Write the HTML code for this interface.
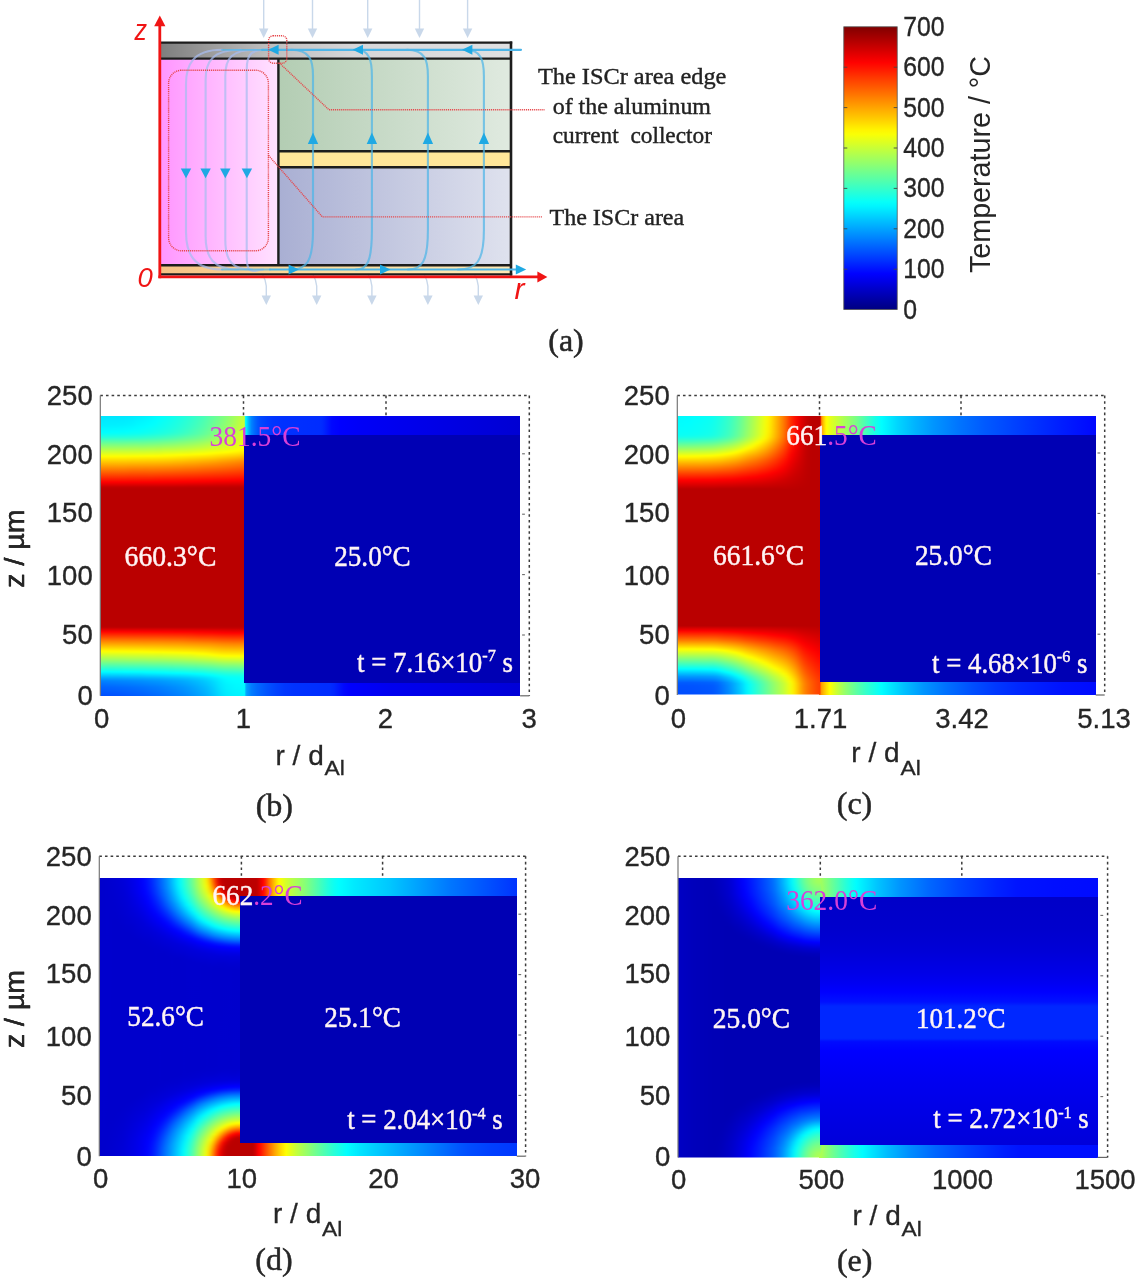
<!DOCTYPE html>
<html lang="en"><head><meta charset="utf-8"><title>Figure</title>
<style>html,body{margin:0;padding:0;background:#fff;overflow:hidden}svg{display:block;filter:blur(0.45px)}</style>
</head><body>
<svg width="1137" height="1280" viewBox="0 0 1137 1280">
<rect width="1137" height="1280" fill="#fff"/>
<defs>
<filter id="hblur" x="-10%" width="120%" y="0" height="1" color-interpolation-filters="sRGB"><feGaussianBlur stdDeviation="2.4 0"/></filter>
<linearGradient id="b1" gradientUnits="userSpaceOnUse" y1="0" y2="0" x1="242.8" x2="520.1"><stop offset="0" stop-color="#58ffa7"/><stop offset="0.007" stop-color="#14ffeb"/><stop offset="0.011" stop-color="#00f7ff"/><stop offset="0.022" stop-color="#00b0ff"/><stop offset="0.029" stop-color="#008eff"/><stop offset="0.032" stop-color="#0081ff"/><stop offset="0.043" stop-color="#0068ff"/><stop offset="0.054" stop-color="#0055ff"/><stop offset="0.065" stop-color="#0048ff"/><stop offset="0.087" stop-color="#003dff"/><stop offset="0.108" stop-color="#0036ff"/><stop offset="0.144" stop-color="#0031ff"/><stop offset="0.282" stop-color="#002cff"/><stop offset="0.292" stop-color="#0025ff"/><stop offset="0.321" stop-color="#0007ff"/><stop offset="0.35" stop-color="#0000ff"/><stop offset="0.426" stop-color="#0000f7"/><stop offset="1" stop-color="#0000d3"/></linearGradient>
<linearGradient id="b2" gradientUnits="userSpaceOnUse" y1="0" y2="0" x1="242.8" x2="520.1"><stop offset="0" stop-color="#1effe1"/><stop offset="0.004" stop-color="#00feff"/><stop offset="0.011" stop-color="#00b6ff"/><stop offset="0.014" stop-color="#009fff"/><stop offset="0.022" stop-color="#008eff"/><stop offset="0.032" stop-color="#007cff"/><stop offset="0.051" stop-color="#006aff"/><stop offset="0.087" stop-color="#0053ff"/><stop offset="0.119" stop-color="#0043ff"/><stop offset="0.152" stop-color="#0037ff"/><stop offset="0.188" stop-color="#0032ff"/><stop offset="0.314" stop-color="#002cff"/><stop offset="0.329" stop-color="#0025ff"/><stop offset="0.365" stop-color="#0007ff"/><stop offset="0.383" stop-color="#0000ff"/><stop offset="0.531" stop-color="#0000ef"/><stop offset="1" stop-color="#0000d7"/></linearGradient>
<clipPath id="b3"><rect x="100.30" y="416.00" width="144.50" height="280.00"/></clipPath>
<linearGradient id="b4" gradientUnits="userSpaceOnUse" x1="0" x2="0" y1="416.0" y2="696.0"><stop offset="0" stop-color="#00e5ff"/><stop offset="0.032" stop-color="#00efff"/><stop offset="0.057" stop-color="#00feff"/><stop offset="0.064" stop-color="#09fff6"/><stop offset="0.075" stop-color="#22ffdd"/><stop offset="0.1" stop-color="#75ff8a"/><stop offset="0.139" stop-color="#efff10"/><stop offset="0.143" stop-color="#faff05"/><stop offset="0.146" stop-color="#fff900"/><stop offset="0.236" stop-color="#fe0000"/><stop offset="0.254" stop-color="#c30000"/><stop offset="0.261" stop-color="#ba0000"/><stop offset="0.75" stop-color="#ba0000"/><stop offset="0.754" stop-color="#be0000"/><stop offset="0.757" stop-color="#c80000"/><stop offset="0.768" stop-color="#f60000"/><stop offset="0.771" stop-color="#ff0500"/><stop offset="0.804" stop-color="#ff8200"/><stop offset="0.839" stop-color="#fffb00"/><stop offset="0.843" stop-color="#f7ff08"/><stop offset="0.871" stop-color="#98ff67"/><stop offset="0.911" stop-color="#0afff5"/><stop offset="0.914" stop-color="#00fcff"/><stop offset="0.936" stop-color="#00a5ff"/><stop offset="0.946" stop-color="#0084ff"/><stop offset="0.957" stop-color="#0072ff"/><stop offset="0.968" stop-color="#0065ff"/><stop offset="1" stop-color="#004dff"/></linearGradient>
<linearGradient id="b5" gradientUnits="userSpaceOnUse" x1="0" x2="0" y1="416.0" y2="696.0"><stop offset="0" stop-color="#00e5ff"/><stop offset="0.032" stop-color="#00efff"/><stop offset="0.057" stop-color="#00feff"/><stop offset="0.064" stop-color="#09fff6"/><stop offset="0.075" stop-color="#22ffdd"/><stop offset="0.1" stop-color="#75ff8a"/><stop offset="0.139" stop-color="#efff10"/><stop offset="0.143" stop-color="#faff05"/><stop offset="0.146" stop-color="#fff900"/><stop offset="0.236" stop-color="#fe0000"/><stop offset="0.254" stop-color="#c30000"/><stop offset="0.261" stop-color="#ba0000"/><stop offset="0.75" stop-color="#ba0000"/><stop offset="0.754" stop-color="#be0000"/><stop offset="0.757" stop-color="#c80000"/><stop offset="0.768" stop-color="#f60000"/><stop offset="0.771" stop-color="#ff0500"/><stop offset="0.804" stop-color="#ff8200"/><stop offset="0.839" stop-color="#fffb00"/><stop offset="0.843" stop-color="#f7ff08"/><stop offset="0.871" stop-color="#98ff67"/><stop offset="0.911" stop-color="#0afff5"/><stop offset="0.914" stop-color="#00fcff"/><stop offset="0.936" stop-color="#00a5ff"/><stop offset="0.946" stop-color="#0084ff"/><stop offset="0.957" stop-color="#0072ff"/><stop offset="0.968" stop-color="#0065ff"/><stop offset="1" stop-color="#004dff"/></linearGradient>
<linearGradient id="b6" gradientUnits="userSpaceOnUse" x1="0" x2="0" y1="416.0" y2="696.0"><stop offset="0" stop-color="#00e6ff"/><stop offset="0.032" stop-color="#00efff"/><stop offset="0.057" stop-color="#00feff"/><stop offset="0.064" stop-color="#09fff6"/><stop offset="0.075" stop-color="#22ffdd"/><stop offset="0.1" stop-color="#75ff8a"/><stop offset="0.139" stop-color="#efff10"/><stop offset="0.143" stop-color="#faff05"/><stop offset="0.146" stop-color="#fff900"/><stop offset="0.236" stop-color="#fe0000"/><stop offset="0.254" stop-color="#c30000"/><stop offset="0.261" stop-color="#ba0000"/><stop offset="0.75" stop-color="#ba0000"/><stop offset="0.754" stop-color="#be0000"/><stop offset="0.757" stop-color="#c80000"/><stop offset="0.768" stop-color="#f60000"/><stop offset="0.771" stop-color="#ff0500"/><stop offset="0.804" stop-color="#ff8200"/><stop offset="0.839" stop-color="#fffb00"/><stop offset="0.843" stop-color="#f7ff08"/><stop offset="0.871" stop-color="#98ff67"/><stop offset="0.911" stop-color="#0afff5"/><stop offset="0.914" stop-color="#00fcff"/><stop offset="0.936" stop-color="#00a5ff"/><stop offset="0.946" stop-color="#0084ff"/><stop offset="0.957" stop-color="#0072ff"/><stop offset="0.968" stop-color="#0065ff"/><stop offset="1" stop-color="#004dff"/></linearGradient>
<linearGradient id="b7" gradientUnits="userSpaceOnUse" x1="0" x2="0" y1="416.0" y2="696.0"><stop offset="0" stop-color="#00e6ff"/><stop offset="0.032" stop-color="#00efff"/><stop offset="0.057" stop-color="#00feff"/><stop offset="0.064" stop-color="#09fff6"/><stop offset="0.075" stop-color="#22ffdd"/><stop offset="0.1" stop-color="#75ff8a"/><stop offset="0.139" stop-color="#efff10"/><stop offset="0.143" stop-color="#faff05"/><stop offset="0.146" stop-color="#fff900"/><stop offset="0.236" stop-color="#fe0000"/><stop offset="0.254" stop-color="#c30000"/><stop offset="0.261" stop-color="#ba0000"/><stop offset="0.75" stop-color="#ba0000"/><stop offset="0.754" stop-color="#be0000"/><stop offset="0.757" stop-color="#c80000"/><stop offset="0.768" stop-color="#f60000"/><stop offset="0.771" stop-color="#ff0500"/><stop offset="0.804" stop-color="#ff8200"/><stop offset="0.839" stop-color="#fffb00"/><stop offset="0.843" stop-color="#f7ff08"/><stop offset="0.871" stop-color="#98ff67"/><stop offset="0.911" stop-color="#0afff5"/><stop offset="0.914" stop-color="#00fcff"/><stop offset="0.936" stop-color="#00a5ff"/><stop offset="0.946" stop-color="#0085ff"/><stop offset="0.957" stop-color="#0073ff"/><stop offset="0.968" stop-color="#0066ff"/><stop offset="1" stop-color="#004eff"/></linearGradient>
<linearGradient id="b8" gradientUnits="userSpaceOnUse" x1="0" x2="0" y1="416.0" y2="696.0"><stop offset="0" stop-color="#00e6ff"/><stop offset="0.032" stop-color="#00efff"/><stop offset="0.057" stop-color="#00feff"/><stop offset="0.064" stop-color="#09fff6"/><stop offset="0.075" stop-color="#23ffdc"/><stop offset="0.1" stop-color="#75ff8a"/><stop offset="0.139" stop-color="#efff10"/><stop offset="0.143" stop-color="#faff05"/><stop offset="0.146" stop-color="#fff900"/><stop offset="0.236" stop-color="#fe0000"/><stop offset="0.254" stop-color="#c30000"/><stop offset="0.261" stop-color="#ba0000"/><stop offset="0.75" stop-color="#ba0000"/><stop offset="0.754" stop-color="#be0000"/><stop offset="0.757" stop-color="#c80000"/><stop offset="0.768" stop-color="#f60000"/><stop offset="0.771" stop-color="#ff0400"/><stop offset="0.804" stop-color="#ff8200"/><stop offset="0.839" stop-color="#fffa00"/><stop offset="0.843" stop-color="#f8ff07"/><stop offset="0.871" stop-color="#99ff66"/><stop offset="0.914" stop-color="#00fcff"/><stop offset="0.936" stop-color="#00a6ff"/><stop offset="0.946" stop-color="#0085ff"/><stop offset="0.968" stop-color="#0067ff"/><stop offset="1" stop-color="#004fff"/></linearGradient>
<linearGradient id="b9" gradientUnits="userSpaceOnUse" x1="0" x2="0" y1="416.0" y2="696.0"><stop offset="0" stop-color="#00e6ff"/><stop offset="0.032" stop-color="#00f0ff"/><stop offset="0.057" stop-color="#00ffff"/><stop offset="0.064" stop-color="#09fff6"/><stop offset="0.075" stop-color="#23ffdc"/><stop offset="0.1" stop-color="#75ff8a"/><stop offset="0.139" stop-color="#efff10"/><stop offset="0.143" stop-color="#faff05"/><stop offset="0.146" stop-color="#fff900"/><stop offset="0.236" stop-color="#fe0000"/><stop offset="0.254" stop-color="#c30000"/><stop offset="0.261" stop-color="#ba0000"/><stop offset="0.75" stop-color="#ba0000"/><stop offset="0.754" stop-color="#be0000"/><stop offset="0.757" stop-color="#c80000"/><stop offset="0.768" stop-color="#f60000"/><stop offset="0.771" stop-color="#ff0400"/><stop offset="0.804" stop-color="#ff8100"/><stop offset="0.839" stop-color="#fffa00"/><stop offset="0.843" stop-color="#f8ff07"/><stop offset="0.871" stop-color="#99ff66"/><stop offset="0.914" stop-color="#00fdff"/><stop offset="0.936" stop-color="#00a7ff"/><stop offset="0.946" stop-color="#0086ff"/><stop offset="0.968" stop-color="#0068ff"/><stop offset="1" stop-color="#0050ff"/></linearGradient>
<linearGradient id="b10" gradientUnits="userSpaceOnUse" x1="0" x2="0" y1="416.0" y2="696.0"><stop offset="0" stop-color="#00e7ff"/><stop offset="0.032" stop-color="#00f0ff"/><stop offset="0.057" stop-color="#00ffff"/><stop offset="0.064" stop-color="#0afff5"/><stop offset="0.075" stop-color="#23ffdc"/><stop offset="0.1" stop-color="#75ff8a"/><stop offset="0.139" stop-color="#efff10"/><stop offset="0.143" stop-color="#faff05"/><stop offset="0.146" stop-color="#fff900"/><stop offset="0.236" stop-color="#fe0000"/><stop offset="0.254" stop-color="#c30000"/><stop offset="0.261" stop-color="#ba0000"/><stop offset="0.75" stop-color="#ba0000"/><stop offset="0.754" stop-color="#be0000"/><stop offset="0.757" stop-color="#c80000"/><stop offset="0.768" stop-color="#f50000"/><stop offset="0.771" stop-color="#ff0400"/><stop offset="0.804" stop-color="#ff8100"/><stop offset="0.839" stop-color="#fff900"/><stop offset="0.843" stop-color="#f9ff06"/><stop offset="0.871" stop-color="#9aff65"/><stop offset="0.914" stop-color="#00fdff"/><stop offset="0.936" stop-color="#00a7ff"/><stop offset="0.946" stop-color="#0087ff"/><stop offset="0.968" stop-color="#0069ff"/><stop offset="1" stop-color="#0051ff"/></linearGradient>
<linearGradient id="b11" gradientUnits="userSpaceOnUse" x1="0" x2="0" y1="416.0" y2="696.0"><stop offset="0" stop-color="#00e7ff"/><stop offset="0.029" stop-color="#00efff"/><stop offset="0.054" stop-color="#00fdff"/><stop offset="0.064" stop-color="#0afff5"/><stop offset="0.075" stop-color="#24ffdb"/><stop offset="0.139" stop-color="#f0ff0f"/><stop offset="0.143" stop-color="#faff05"/><stop offset="0.146" stop-color="#fff900"/><stop offset="0.236" stop-color="#fe0000"/><stop offset="0.254" stop-color="#c30000"/><stop offset="0.261" stop-color="#ba0000"/><stop offset="0.75" stop-color="#ba0000"/><stop offset="0.754" stop-color="#be0000"/><stop offset="0.757" stop-color="#c70000"/><stop offset="0.768" stop-color="#f50000"/><stop offset="0.771" stop-color="#ff0400"/><stop offset="0.804" stop-color="#ff8100"/><stop offset="0.839" stop-color="#fff900"/><stop offset="0.843" stop-color="#f9ff06"/><stop offset="0.871" stop-color="#9aff65"/><stop offset="0.914" stop-color="#00feff"/><stop offset="0.936" stop-color="#00a8ff"/><stop offset="0.946" stop-color="#0089ff"/><stop offset="0.968" stop-color="#006bff"/><stop offset="1" stop-color="#0053ff"/></linearGradient>
<linearGradient id="b12" gradientUnits="userSpaceOnUse" x1="0" x2="0" y1="416.0" y2="696.0"><stop offset="0" stop-color="#00e8ff"/><stop offset="0.029" stop-color="#00f0ff"/><stop offset="0.054" stop-color="#00feff"/><stop offset="0.064" stop-color="#0bfff4"/><stop offset="0.079" stop-color="#2fffd0"/><stop offset="0.1" stop-color="#76ff89"/><stop offset="0.143" stop-color="#fbff04"/><stop offset="0.146" stop-color="#fff900"/><stop offset="0.236" stop-color="#fe0000"/><stop offset="0.254" stop-color="#c30000"/><stop offset="0.261" stop-color="#ba0000"/><stop offset="0.75" stop-color="#ba0000"/><stop offset="0.754" stop-color="#be0000"/><stop offset="0.757" stop-color="#c70000"/><stop offset="0.768" stop-color="#f50000"/><stop offset="0.771" stop-color="#ff0400"/><stop offset="0.804" stop-color="#ff8000"/><stop offset="0.839" stop-color="#fff800"/><stop offset="0.843" stop-color="#faff05"/><stop offset="0.871" stop-color="#9bff64"/><stop offset="0.914" stop-color="#00ffff"/><stop offset="0.936" stop-color="#00a9ff"/><stop offset="0.946" stop-color="#008aff"/><stop offset="0.968" stop-color="#006cff"/><stop offset="1" stop-color="#0055ff"/></linearGradient>
<linearGradient id="b13" gradientUnits="userSpaceOnUse" x1="0" x2="0" y1="416.0" y2="696.0"><stop offset="0" stop-color="#00e9ff"/><stop offset="0.029" stop-color="#00f2ff"/><stop offset="0.054" stop-color="#00ffff"/><stop offset="0.064" stop-color="#0cfff3"/><stop offset="0.079" stop-color="#30ffcf"/><stop offset="0.1" stop-color="#77ff88"/><stop offset="0.143" stop-color="#fbff04"/><stop offset="0.146" stop-color="#fff800"/><stop offset="0.196" stop-color="#ff6b00"/><stop offset="0.236" stop-color="#fd0000"/><stop offset="0.254" stop-color="#c30000"/><stop offset="0.261" stop-color="#ba0000"/><stop offset="0.75" stop-color="#ba0000"/><stop offset="0.754" stop-color="#be0000"/><stop offset="0.757" stop-color="#c70000"/><stop offset="0.768" stop-color="#f50000"/><stop offset="0.771" stop-color="#ff0400"/><stop offset="0.804" stop-color="#ff8000"/><stop offset="0.839" stop-color="#fff800"/><stop offset="0.843" stop-color="#faff05"/><stop offset="0.868" stop-color="#a8ff57"/><stop offset="0.914" stop-color="#00ffff"/><stop offset="0.936" stop-color="#00abff"/><stop offset="0.946" stop-color="#008bff"/><stop offset="0.968" stop-color="#006eff"/><stop offset="1" stop-color="#0057ff"/></linearGradient>
<linearGradient id="b14" gradientUnits="userSpaceOnUse" x1="0" x2="0" y1="416.0" y2="696.0"><stop offset="0" stop-color="#00ebff"/><stop offset="0.029" stop-color="#00f3ff"/><stop offset="0.05" stop-color="#00feff"/><stop offset="0.064" stop-color="#0efff1"/><stop offset="0.079" stop-color="#32ffcd"/><stop offset="0.1" stop-color="#78ff87"/><stop offset="0.143" stop-color="#fcff03"/><stop offset="0.146" stop-color="#fff800"/><stop offset="0.196" stop-color="#ff6a00"/><stop offset="0.236" stop-color="#fd0000"/><stop offset="0.254" stop-color="#c30000"/><stop offset="0.261" stop-color="#ba0000"/><stop offset="0.75" stop-color="#ba0000"/><stop offset="0.754" stop-color="#be0000"/><stop offset="0.757" stop-color="#c70000"/><stop offset="0.768" stop-color="#f50000"/><stop offset="0.771" stop-color="#ff0300"/><stop offset="0.804" stop-color="#ff8000"/><stop offset="0.839" stop-color="#fff700"/><stop offset="0.843" stop-color="#fbff04"/><stop offset="0.868" stop-color="#a8ff57"/><stop offset="0.914" stop-color="#01fffe"/><stop offset="0.936" stop-color="#00acff"/><stop offset="0.946" stop-color="#008dff"/><stop offset="0.968" stop-color="#0070ff"/><stop offset="1" stop-color="#0059ff"/></linearGradient>
<linearGradient id="b15" gradientUnits="userSpaceOnUse" x1="0" x2="0" y1="416.0" y2="696.0"><stop offset="0" stop-color="#00edff"/><stop offset="0.046" stop-color="#00feff"/><stop offset="0.057" stop-color="#06fff9"/><stop offset="0.064" stop-color="#0ffff0"/><stop offset="0.079" stop-color="#33ffcc"/><stop offset="0.1" stop-color="#79ff86"/><stop offset="0.143" stop-color="#fcff03"/><stop offset="0.146" stop-color="#fff700"/><stop offset="0.196" stop-color="#ff6a00"/><stop offset="0.236" stop-color="#fd0000"/><stop offset="0.254" stop-color="#c30000"/><stop offset="0.261" stop-color="#ba0000"/><stop offset="0.75" stop-color="#ba0000"/><stop offset="0.754" stop-color="#be0000"/><stop offset="0.757" stop-color="#c70000"/><stop offset="0.768" stop-color="#f50000"/><stop offset="0.771" stop-color="#ff0300"/><stop offset="0.804" stop-color="#ff7f00"/><stop offset="0.839" stop-color="#fff700"/><stop offset="0.843" stop-color="#fcff03"/><stop offset="0.868" stop-color="#a9ff56"/><stop offset="0.914" stop-color="#02fffd"/><stop offset="0.936" stop-color="#00adff"/><stop offset="0.946" stop-color="#008eff"/><stop offset="0.968" stop-color="#0072ff"/><stop offset="1" stop-color="#005bff"/></linearGradient>
<linearGradient id="b16" gradientUnits="userSpaceOnUse" x1="0" x2="0" y1="416.0" y2="696.0"><stop offset="0" stop-color="#00efff"/><stop offset="0.043" stop-color="#00feff"/><stop offset="0.057" stop-color="#08fff7"/><stop offset="0.064" stop-color="#11ffee"/><stop offset="0.079" stop-color="#35ffca"/><stop offset="0.143" stop-color="#fdff02"/><stop offset="0.146" stop-color="#fff700"/><stop offset="0.196" stop-color="#ff6a00"/><stop offset="0.236" stop-color="#fd0000"/><stop offset="0.254" stop-color="#c30000"/><stop offset="0.261" stop-color="#ba0000"/><stop offset="0.75" stop-color="#ba0000"/><stop offset="0.754" stop-color="#bd0000"/><stop offset="0.757" stop-color="#c70000"/><stop offset="0.768" stop-color="#f40000"/><stop offset="0.771" stop-color="#ff0300"/><stop offset="0.804" stop-color="#ff7f00"/><stop offset="0.839" stop-color="#fff600"/><stop offset="0.843" stop-color="#fcff03"/><stop offset="0.864" stop-color="#b6ff49"/><stop offset="0.914" stop-color="#02fffd"/><stop offset="0.936" stop-color="#00aeff"/><stop offset="0.946" stop-color="#0090ff"/><stop offset="0.968" stop-color="#0074ff"/><stop offset="1" stop-color="#005dff"/></linearGradient>
<linearGradient id="b17" gradientUnits="userSpaceOnUse" x1="0" x2="0" y1="416.0" y2="696.0"><stop offset="0" stop-color="#00f1ff"/><stop offset="0.039" stop-color="#00feff"/><stop offset="0.057" stop-color="#0bfff4"/><stop offset="0.064" stop-color="#14ffeb"/><stop offset="0.079" stop-color="#37ffc8"/><stop offset="0.143" stop-color="#fdff02"/><stop offset="0.146" stop-color="#fff600"/><stop offset="0.196" stop-color="#ff6900"/><stop offset="0.236" stop-color="#fd0000"/><stop offset="0.254" stop-color="#c30000"/><stop offset="0.261" stop-color="#ba0000"/><stop offset="0.75" stop-color="#ba0000"/><stop offset="0.754" stop-color="#bd0000"/><stop offset="0.757" stop-color="#c70000"/><stop offset="0.768" stop-color="#f40000"/><stop offset="0.771" stop-color="#ff0300"/><stop offset="0.804" stop-color="#ff7e00"/><stop offset="0.839" stop-color="#fff500"/><stop offset="0.843" stop-color="#fdff02"/><stop offset="0.864" stop-color="#b7ff48"/><stop offset="0.914" stop-color="#03fffc"/><stop offset="0.918" stop-color="#00f5ff"/><stop offset="0.936" stop-color="#00afff"/><stop offset="0.946" stop-color="#0092ff"/><stop offset="0.968" stop-color="#0076ff"/><stop offset="1" stop-color="#005fff"/></linearGradient>
<linearGradient id="b18" gradientUnits="userSpaceOnUse" x1="0" x2="0" y1="416.0" y2="696.0"><stop offset="0" stop-color="#00f4ff"/><stop offset="0.036" stop-color="#00ffff"/><stop offset="0.057" stop-color="#0dfff2"/><stop offset="0.064" stop-color="#16ffe9"/><stop offset="0.079" stop-color="#39ffc6"/><stop offset="0.143" stop-color="#feff01"/><stop offset="0.146" stop-color="#fff500"/><stop offset="0.193" stop-color="#ff7200"/><stop offset="0.236" stop-color="#fd0000"/><stop offset="0.254" stop-color="#c30000"/><stop offset="0.261" stop-color="#ba0000"/><stop offset="0.75" stop-color="#ba0000"/><stop offset="0.754" stop-color="#bd0000"/><stop offset="0.757" stop-color="#c70000"/><stop offset="0.768" stop-color="#f40000"/><stop offset="0.771" stop-color="#ff0300"/><stop offset="0.804" stop-color="#ff7e00"/><stop offset="0.839" stop-color="#fff400"/><stop offset="0.843" stop-color="#feff01"/><stop offset="0.864" stop-color="#b8ff47"/><stop offset="0.914" stop-color="#04fffb"/><stop offset="0.918" stop-color="#00f6ff"/><stop offset="0.936" stop-color="#00b1ff"/><stop offset="0.946" stop-color="#0094ff"/><stop offset="0.968" stop-color="#0078ff"/><stop offset="1" stop-color="#0062ff"/></linearGradient>
<linearGradient id="b19" gradientUnits="userSpaceOnUse" x1="0" x2="0" y1="416.0" y2="696.0"><stop offset="0" stop-color="#00f7ff"/><stop offset="0.029" stop-color="#00ffff"/><stop offset="0.054" stop-color="#0efff1"/><stop offset="0.064" stop-color="#19ffe6"/><stop offset="0.079" stop-color="#3cffc3"/><stop offset="0.143" stop-color="#ffff00"/><stop offset="0.179" stop-color="#ff9900"/><stop offset="0.236" stop-color="#fc0000"/><stop offset="0.254" stop-color="#c30000"/><stop offset="0.261" stop-color="#ba0000"/><stop offset="0.75" stop-color="#ba0000"/><stop offset="0.754" stop-color="#bd0000"/><stop offset="0.757" stop-color="#c70000"/><stop offset="0.768" stop-color="#f40000"/><stop offset="0.771" stop-color="#ff0200"/><stop offset="0.807" stop-color="#ff8a00"/><stop offset="0.843" stop-color="#ffff00"/><stop offset="0.875" stop-color="#94ff6b"/><stop offset="0.914" stop-color="#05fffa"/><stop offset="0.918" stop-color="#00f7ff"/><stop offset="0.936" stop-color="#00b3ff"/><stop offset="0.946" stop-color="#0096ff"/><stop offset="0.968" stop-color="#007bff"/><stop offset="1" stop-color="#0065ff"/></linearGradient>
<linearGradient id="b20" gradientUnits="userSpaceOnUse" x1="0" x2="0" y1="416.0" y2="696.0"><stop offset="0" stop-color="#00fbff"/><stop offset="0.018" stop-color="#00ffff"/><stop offset="0.032" stop-color="#05fffa"/><stop offset="0.057" stop-color="#14ffeb"/><stop offset="0.064" stop-color="#1dffe2"/><stop offset="0.079" stop-color="#3effc1"/><stop offset="0.143" stop-color="#fffe00"/><stop offset="0.179" stop-color="#ff9800"/><stop offset="0.232" stop-color="#ff0700"/><stop offset="0.236" stop-color="#fc0000"/><stop offset="0.254" stop-color="#c30000"/><stop offset="0.261" stop-color="#ba0000"/><stop offset="0.75" stop-color="#ba0000"/><stop offset="0.754" stop-color="#bd0000"/><stop offset="0.757" stop-color="#c70000"/><stop offset="0.768" stop-color="#f30000"/><stop offset="0.771" stop-color="#ff0200"/><stop offset="0.807" stop-color="#ff8900"/><stop offset="0.843" stop-color="#fffe00"/><stop offset="0.871" stop-color="#a1ff5e"/><stop offset="0.914" stop-color="#06fff9"/><stop offset="0.918" stop-color="#00f8ff"/><stop offset="0.936" stop-color="#00b4ff"/><stop offset="0.946" stop-color="#0098ff"/><stop offset="0.968" stop-color="#007dff"/><stop offset="1" stop-color="#0068ff"/></linearGradient>
<linearGradient id="b21" gradientUnits="userSpaceOnUse" x1="0" x2="0" y1="416.0" y2="696.0"><stop offset="0" stop-color="#00ffff"/><stop offset="0.039" stop-color="#0dfff2"/><stop offset="0.057" stop-color="#18ffe7"/><stop offset="0.064" stop-color="#20ffdf"/><stop offset="0.079" stop-color="#42ffbd"/><stop offset="0.143" stop-color="#fffd00"/><stop offset="0.179" stop-color="#ff9700"/><stop offset="0.232" stop-color="#ff0700"/><stop offset="0.236" stop-color="#fc0000"/><stop offset="0.254" stop-color="#c30000"/><stop offset="0.261" stop-color="#ba0000"/><stop offset="0.75" stop-color="#ba0000"/><stop offset="0.754" stop-color="#bd0000"/><stop offset="0.757" stop-color="#c70000"/><stop offset="0.768" stop-color="#f30000"/><stop offset="0.771" stop-color="#ff0200"/><stop offset="0.807" stop-color="#ff8900"/><stop offset="0.843" stop-color="#fffd00"/><stop offset="0.871" stop-color="#a2ff5d"/><stop offset="0.914" stop-color="#07fff8"/><stop offset="0.918" stop-color="#00f9ff"/><stop offset="0.936" stop-color="#00b6ff"/><stop offset="0.946" stop-color="#009aff"/><stop offset="0.968" stop-color="#0080ff"/><stop offset="1" stop-color="#006bff"/></linearGradient>
<linearGradient id="b22" gradientUnits="userSpaceOnUse" x1="0" x2="0" y1="416.0" y2="696.0"><stop offset="0" stop-color="#04fffb"/><stop offset="0.039" stop-color="#11ffee"/><stop offset="0.057" stop-color="#1cffe3"/><stop offset="0.064" stop-color="#24ffdb"/><stop offset="0.079" stop-color="#45ffba"/><stop offset="0.139" stop-color="#f8ff07"/><stop offset="0.143" stop-color="#fffc00"/><stop offset="0.179" stop-color="#ff9600"/><stop offset="0.232" stop-color="#ff0600"/><stop offset="0.236" stop-color="#fc0000"/><stop offset="0.254" stop-color="#c30000"/><stop offset="0.261" stop-color="#ba0000"/><stop offset="0.75" stop-color="#ba0000"/><stop offset="0.754" stop-color="#bd0000"/><stop offset="0.757" stop-color="#c70000"/><stop offset="0.771" stop-color="#ff0100"/><stop offset="0.807" stop-color="#ff8800"/><stop offset="0.843" stop-color="#fffc00"/><stop offset="0.846" stop-color="#f6ff09"/><stop offset="0.864" stop-color="#bcff43"/><stop offset="0.914" stop-color="#09fff6"/><stop offset="0.918" stop-color="#00faff"/><stop offset="0.936" stop-color="#00b8ff"/><stop offset="0.946" stop-color="#009dff"/><stop offset="0.968" stop-color="#0083ff"/><stop offset="1" stop-color="#006fff"/></linearGradient>
<linearGradient id="b23" gradientUnits="userSpaceOnUse" x1="0" x2="0" y1="416.0" y2="696.0"><stop offset="0" stop-color="#09fff6"/><stop offset="0.039" stop-color="#16ffe9"/><stop offset="0.057" stop-color="#20ffdf"/><stop offset="0.064" stop-color="#29ffd6"/><stop offset="0.079" stop-color="#49ffb6"/><stop offset="0.121" stop-color="#c2ff3d"/><stop offset="0.139" stop-color="#f9ff06"/><stop offset="0.143" stop-color="#fffa00"/><stop offset="0.179" stop-color="#ff9500"/><stop offset="0.232" stop-color="#ff0600"/><stop offset="0.236" stop-color="#fb0000"/><stop offset="0.254" stop-color="#c30000"/><stop offset="0.261" stop-color="#ba0000"/><stop offset="0.75" stop-color="#ba0000"/><stop offset="0.754" stop-color="#bd0000"/><stop offset="0.757" stop-color="#c70000"/><stop offset="0.771" stop-color="#ff0100"/><stop offset="0.807" stop-color="#ff8700"/><stop offset="0.843" stop-color="#fffb00"/><stop offset="0.846" stop-color="#f8ff07"/><stop offset="0.864" stop-color="#bdff42"/><stop offset="0.914" stop-color="#0afff5"/><stop offset="0.918" stop-color="#00fcff"/><stop offset="0.936" stop-color="#00bbff"/><stop offset="0.946" stop-color="#00a0ff"/><stop offset="0.968" stop-color="#0087ff"/><stop offset="1" stop-color="#0073ff"/></linearGradient>
<linearGradient id="b24" gradientUnits="userSpaceOnUse" x1="0" x2="0" y1="416.0" y2="696.0"><stop offset="0" stop-color="#0efff1"/><stop offset="0.039" stop-color="#1bffe4"/><stop offset="0.057" stop-color="#25ffda"/><stop offset="0.064" stop-color="#2effd1"/><stop offset="0.079" stop-color="#4dffb2"/><stop offset="0.121" stop-color="#c4ff3b"/><stop offset="0.139" stop-color="#faff05"/><stop offset="0.143" stop-color="#fff900"/><stop offset="0.179" stop-color="#ff9300"/><stop offset="0.232" stop-color="#ff0600"/><stop offset="0.236" stop-color="#fb0000"/><stop offset="0.254" stop-color="#c30000"/><stop offset="0.261" stop-color="#ba0000"/><stop offset="0.75" stop-color="#ba0000"/><stop offset="0.754" stop-color="#bd0000"/><stop offset="0.757" stop-color="#c70000"/><stop offset="0.771" stop-color="#ff0100"/><stop offset="0.807" stop-color="#ff8600"/><stop offset="0.843" stop-color="#fffa00"/><stop offset="0.846" stop-color="#f9ff06"/><stop offset="0.864" stop-color="#bfff40"/><stop offset="0.918" stop-color="#00fdff"/><stop offset="0.936" stop-color="#00bdff"/><stop offset="0.946" stop-color="#00a3ff"/><stop offset="0.968" stop-color="#008aff"/><stop offset="1" stop-color="#0077ff"/></linearGradient>
<linearGradient id="b25" gradientUnits="userSpaceOnUse" x1="0" x2="0" y1="416.0" y2="696.0"><stop offset="0" stop-color="#14ffeb"/><stop offset="0.039" stop-color="#20ffdf"/><stop offset="0.057" stop-color="#2bffd4"/><stop offset="0.064" stop-color="#33ffcc"/><stop offset="0.079" stop-color="#52ffad"/><stop offset="0.118" stop-color="#bcff43"/><stop offset="0.139" stop-color="#fcff03"/><stop offset="0.143" stop-color="#fff700"/><stop offset="0.161" stop-color="#ffc200"/><stop offset="0.186" stop-color="#ff7f00"/><stop offset="0.232" stop-color="#ff0500"/><stop offset="0.236" stop-color="#fb0000"/><stop offset="0.254" stop-color="#c20000"/><stop offset="0.261" stop-color="#ba0000"/><stop offset="0.75" stop-color="#ba0000"/><stop offset="0.754" stop-color="#bd0000"/><stop offset="0.757" stop-color="#c60000"/><stop offset="0.771" stop-color="#ff0000"/><stop offset="0.807" stop-color="#ff8600"/><stop offset="0.843" stop-color="#fff800"/><stop offset="0.846" stop-color="#faff05"/><stop offset="0.864" stop-color="#c0ff3f"/><stop offset="0.918" stop-color="#00ffff"/><stop offset="0.936" stop-color="#00bfff"/><stop offset="0.946" stop-color="#00a6ff"/><stop offset="0.968" stop-color="#008eff"/><stop offset="1" stop-color="#007bff"/></linearGradient>
<linearGradient id="b26" gradientUnits="userSpaceOnUse" x1="0" x2="0" y1="416.0" y2="696.0"><stop offset="0" stop-color="#1affe5"/><stop offset="0.039" stop-color="#26ffd9"/><stop offset="0.057" stop-color="#31ffce"/><stop offset="0.064" stop-color="#39ffc6"/><stop offset="0.071" stop-color="#46ffb9"/><stop offset="0.082" stop-color="#60ff9f"/><stop offset="0.121" stop-color="#c8ff37"/><stop offset="0.139" stop-color="#feff01"/><stop offset="0.179" stop-color="#ff9000"/><stop offset="0.232" stop-color="#ff0500"/><stop offset="0.236" stop-color="#fa0000"/><stop offset="0.254" stop-color="#c20000"/><stop offset="0.261" stop-color="#ba0000"/><stop offset="0.75" stop-color="#ba0000"/><stop offset="0.754" stop-color="#bd0000"/><stop offset="0.757" stop-color="#c60000"/><stop offset="0.771" stop-color="#ff0000"/><stop offset="0.807" stop-color="#ff8500"/><stop offset="0.843" stop-color="#fff700"/><stop offset="0.846" stop-color="#fcff03"/><stop offset="0.864" stop-color="#c2ff3d"/><stop offset="0.918" stop-color="#01fffe"/><stop offset="0.936" stop-color="#00c2ff"/><stop offset="0.946" stop-color="#00a9ff"/><stop offset="0.968" stop-color="#0092ff"/><stop offset="1" stop-color="#0080ff"/></linearGradient>
<linearGradient id="b27" gradientUnits="userSpaceOnUse" x1="0" x2="0" y1="416.0" y2="696.0"><stop offset="0" stop-color="#20ffdf"/><stop offset="0.039" stop-color="#2dffd2"/><stop offset="0.057" stop-color="#37ffc8"/><stop offset="0.064" stop-color="#3fffc0"/><stop offset="0.071" stop-color="#4cffb3"/><stop offset="0.082" stop-color="#65ff9a"/><stop offset="0.118" stop-color="#c1ff3e"/><stop offset="0.139" stop-color="#fffe00"/><stop offset="0.175" stop-color="#ff9800"/><stop offset="0.232" stop-color="#ff0400"/><stop offset="0.236" stop-color="#fa0000"/><stop offset="0.254" stop-color="#c20000"/><stop offset="0.261" stop-color="#ba0000"/><stop offset="0.75" stop-color="#ba0000"/><stop offset="0.754" stop-color="#bd0000"/><stop offset="0.757" stop-color="#c60000"/><stop offset="0.771" stop-color="#fe0000"/><stop offset="0.807" stop-color="#ff8400"/><stop offset="0.843" stop-color="#fff500"/><stop offset="0.846" stop-color="#fdff02"/><stop offset="0.861" stop-color="#cfff30"/><stop offset="0.918" stop-color="#03fffc"/><stop offset="0.921" stop-color="#00f5ff"/><stop offset="0.936" stop-color="#00c5ff"/><stop offset="0.946" stop-color="#00adff"/><stop offset="0.968" stop-color="#0097ff"/><stop offset="1" stop-color="#0085ff"/></linearGradient>
<linearGradient id="b28" gradientUnits="userSpaceOnUse" x1="0" x2="0" y1="416.0" y2="696.0"><stop offset="0" stop-color="#27ffd8"/><stop offset="0.039" stop-color="#34ffcb"/><stop offset="0.057" stop-color="#3effc1"/><stop offset="0.064" stop-color="#46ffb9"/><stop offset="0.082" stop-color="#6bff94"/><stop offset="0.118" stop-color="#c3ff3c"/><stop offset="0.139" stop-color="#fffc00"/><stop offset="0.157" stop-color="#ffc700"/><stop offset="0.175" stop-color="#ff9600"/><stop offset="0.232" stop-color="#ff0400"/><stop offset="0.236" stop-color="#f90000"/><stop offset="0.25" stop-color="#cb0000"/><stop offset="0.257" stop-color="#bc0000"/><stop offset="0.261" stop-color="#ba0000"/><stop offset="0.75" stop-color="#ba0000"/><stop offset="0.754" stop-color="#bd0000"/><stop offset="0.757" stop-color="#c60000"/><stop offset="0.771" stop-color="#fe0000"/><stop offset="0.811" stop-color="#ff8e00"/><stop offset="0.846" stop-color="#ffff00"/><stop offset="0.868" stop-color="#b9ff46"/><stop offset="0.918" stop-color="#06fff9"/><stop offset="0.921" stop-color="#00f8ff"/><stop offset="0.936" stop-color="#00c8ff"/><stop offset="0.946" stop-color="#00b2ff"/><stop offset="0.968" stop-color="#009cff"/><stop offset="1" stop-color="#008bff"/></linearGradient>
<linearGradient id="b29" gradientUnits="userSpaceOnUse" x1="0" x2="0" y1="416.0" y2="696.0"><stop offset="0" stop-color="#2fffd0"/><stop offset="0.039" stop-color="#3bffc4"/><stop offset="0.064" stop-color="#4dffb2"/><stop offset="0.079" stop-color="#68ff97"/><stop offset="0.114" stop-color="#bdff42"/><stop offset="0.136" stop-color="#f9ff06"/><stop offset="0.139" stop-color="#fffa00"/><stop offset="0.161" stop-color="#ffba00"/><stop offset="0.186" stop-color="#ff7900"/><stop offset="0.232" stop-color="#ff0300"/><stop offset="0.236" stop-color="#f90000"/><stop offset="0.25" stop-color="#cb0000"/><stop offset="0.257" stop-color="#bc0000"/><stop offset="0.261" stop-color="#ba0000"/><stop offset="0.75" stop-color="#ba0000"/><stop offset="0.754" stop-color="#bd0000"/><stop offset="0.757" stop-color="#c60000"/><stop offset="0.771" stop-color="#fd0000"/><stop offset="0.811" stop-color="#ff8d00"/><stop offset="0.846" stop-color="#fffc00"/><stop offset="0.864" stop-color="#c8ff37"/><stop offset="0.918" stop-color="#08fff7"/><stop offset="0.921" stop-color="#00faff"/><stop offset="0.936" stop-color="#00ccff"/><stop offset="0.946" stop-color="#00b7ff"/><stop offset="0.968" stop-color="#00a2ff"/><stop offset="1" stop-color="#0092ff"/></linearGradient>
<linearGradient id="b30" gradientUnits="userSpaceOnUse" x1="0" x2="0" y1="416.0" y2="696.0"><stop offset="0" stop-color="#37ffc8"/><stop offset="0.039" stop-color="#43ffbc"/><stop offset="0.064" stop-color="#54ffab"/><stop offset="0.079" stop-color="#6eff91"/><stop offset="0.114" stop-color="#c1ff3e"/><stop offset="0.136" stop-color="#fbff04"/><stop offset="0.139" stop-color="#fff800"/><stop offset="0.161" stop-color="#ffb800"/><stop offset="0.179" stop-color="#ff8900"/><stop offset="0.232" stop-color="#ff0300"/><stop offset="0.236" stop-color="#f80000"/><stop offset="0.25" stop-color="#cb0000"/><stop offset="0.257" stop-color="#bc0000"/><stop offset="0.261" stop-color="#ba0000"/><stop offset="0.75" stop-color="#ba0000"/><stop offset="0.754" stop-color="#bd0000"/><stop offset="0.757" stop-color="#c60000"/><stop offset="0.771" stop-color="#fc0000"/><stop offset="0.779" stop-color="#ff1700"/><stop offset="0.811" stop-color="#ff8c00"/><stop offset="0.846" stop-color="#fffa00"/><stop offset="0.85" stop-color="#f9ff06"/><stop offset="0.861" stop-color="#d6ff29"/><stop offset="0.921" stop-color="#00fdff"/><stop offset="0.936" stop-color="#00d1ff"/><stop offset="0.946" stop-color="#00bcff"/><stop offset="0.968" stop-color="#00a9ff"/><stop offset="1" stop-color="#0099ff"/></linearGradient>
<linearGradient id="b31" gradientUnits="userSpaceOnUse" x1="0" x2="0" y1="416.0" y2="696.0"><stop offset="0" stop-color="#3fffc0"/><stop offset="0.039" stop-color="#4cffb3"/><stop offset="0.064" stop-color="#5cffa3"/><stop offset="0.079" stop-color="#75ff8a"/><stop offset="0.114" stop-color="#c4ff3b"/><stop offset="0.136" stop-color="#feff01"/><stop offset="0.161" stop-color="#ffb500"/><stop offset="0.175" stop-color="#ff9000"/><stop offset="0.232" stop-color="#ff0200"/><stop offset="0.236" stop-color="#f70000"/><stop offset="0.25" stop-color="#cb0000"/><stop offset="0.257" stop-color="#bc0000"/><stop offset="0.261" stop-color="#ba0000"/><stop offset="0.75" stop-color="#ba0000"/><stop offset="0.754" stop-color="#bd0000"/><stop offset="0.757" stop-color="#c50000"/><stop offset="0.771" stop-color="#fc0000"/><stop offset="0.779" stop-color="#ff1600"/><stop offset="0.811" stop-color="#ff8a00"/><stop offset="0.846" stop-color="#fff700"/><stop offset="0.85" stop-color="#fcff03"/><stop offset="0.861" stop-color="#d9ff26"/><stop offset="0.921" stop-color="#01fffe"/><stop offset="0.936" stop-color="#00d5ff"/><stop offset="0.946" stop-color="#00c2ff"/><stop offset="0.968" stop-color="#00b0ff"/><stop offset="1" stop-color="#00a1ff"/></linearGradient>
<linearGradient id="b32" gradientUnits="userSpaceOnUse" x1="0" x2="0" y1="416.0" y2="696.0"><stop offset="0" stop-color="#48ffb7"/><stop offset="0.039" stop-color="#55ffaa"/><stop offset="0.064" stop-color="#65ff9a"/><stop offset="0.079" stop-color="#7dff82"/><stop offset="0.114" stop-color="#c8ff37"/><stop offset="0.136" stop-color="#fffe00"/><stop offset="0.157" stop-color="#ffbd00"/><stop offset="0.171" stop-color="#ff9600"/><stop offset="0.232" stop-color="#ff0100"/><stop offset="0.236" stop-color="#f70000"/><stop offset="0.25" stop-color="#ca0000"/><stop offset="0.257" stop-color="#bc0000"/><stop offset="0.261" stop-color="#ba0000"/><stop offset="0.75" stop-color="#ba0000"/><stop offset="0.754" stop-color="#bd0000"/><stop offset="0.757" stop-color="#c50000"/><stop offset="0.771" stop-color="#fb0000"/><stop offset="0.779" stop-color="#ff1500"/><stop offset="0.811" stop-color="#ff8800"/><stop offset="0.846" stop-color="#fff500"/><stop offset="0.85" stop-color="#feff01"/><stop offset="0.861" stop-color="#dcff23"/><stop offset="0.921" stop-color="#04fffb"/><stop offset="0.925" stop-color="#00f8ff"/><stop offset="0.936" stop-color="#00daff"/><stop offset="0.946" stop-color="#00c8ff"/><stop offset="0.968" stop-color="#00b7ff"/><stop offset="1" stop-color="#00a9ff"/></linearGradient>
<linearGradient id="b33" gradientUnits="userSpaceOnUse" x1="0" x2="0" y1="416.0" y2="696.0"><stop offset="0" stop-color="#52ffad"/><stop offset="0.039" stop-color="#5effa1"/><stop offset="0.064" stop-color="#6eff91"/><stop offset="0.079" stop-color="#85ff7a"/><stop offset="0.114" stop-color="#ccff33"/><stop offset="0.132" stop-color="#f8ff07"/><stop offset="0.136" stop-color="#fffb00"/><stop offset="0.161" stop-color="#ffb000"/><stop offset="0.179" stop-color="#ff8200"/><stop offset="0.232" stop-color="#ff0100"/><stop offset="0.236" stop-color="#f60000"/><stop offset="0.25" stop-color="#ca0000"/><stop offset="0.257" stop-color="#bc0000"/><stop offset="0.261" stop-color="#ba0000"/><stop offset="0.75" stop-color="#ba0000"/><stop offset="0.754" stop-color="#bd0000"/><stop offset="0.757" stop-color="#c50000"/><stop offset="0.771" stop-color="#fa0000"/><stop offset="0.775" stop-color="#ff0800"/><stop offset="0.814" stop-color="#ff9200"/><stop offset="0.85" stop-color="#fffd00"/><stop offset="0.864" stop-color="#d3ff2c"/><stop offset="0.918" stop-color="#14ffeb"/><stop offset="0.925" stop-color="#00fbff"/><stop offset="0.936" stop-color="#00dfff"/><stop offset="0.95" stop-color="#00cbff"/><stop offset="0.971" stop-color="#00bdff"/><stop offset="1" stop-color="#00b2ff"/></linearGradient>
<linearGradient id="b34" gradientUnits="userSpaceOnUse" x1="0" x2="0" y1="416.0" y2="696.0"><stop offset="0" stop-color="#5cffa3"/><stop offset="0.036" stop-color="#67ff98"/><stop offset="0.064" stop-color="#77ff88"/><stop offset="0.079" stop-color="#8dff72"/><stop offset="0.114" stop-color="#d0ff2f"/><stop offset="0.132" stop-color="#fbff04"/><stop offset="0.136" stop-color="#fff800"/><stop offset="0.161" stop-color="#ffad00"/><stop offset="0.175" stop-color="#ff8800"/><stop offset="0.232" stop-color="#ff0000"/><stop offset="0.236" stop-color="#f50000"/><stop offset="0.25" stop-color="#ca0000"/><stop offset="0.257" stop-color="#bc0000"/><stop offset="0.261" stop-color="#ba0000"/><stop offset="0.75" stop-color="#ba0000"/><stop offset="0.757" stop-color="#c50000"/><stop offset="0.771" stop-color="#f90000"/><stop offset="0.775" stop-color="#ff0700"/><stop offset="0.814" stop-color="#ff9000"/><stop offset="0.85" stop-color="#fff900"/><stop offset="0.854" stop-color="#faff05"/><stop offset="0.861" stop-color="#e3ff1c"/><stop offset="0.889" stop-color="#7aff85"/><stop offset="0.925" stop-color="#01fffe"/><stop offset="0.936" stop-color="#00e5ff"/><stop offset="0.946" stop-color="#00d6ff"/><stop offset="0.968" stop-color="#00c8ff"/><stop offset="1" stop-color="#00bcff"/></linearGradient>
<linearGradient id="b35" gradientUnits="userSpaceOnUse" x1="0" x2="0" y1="416.0" y2="696.0"><stop offset="0" stop-color="#67ff98"/><stop offset="0.036" stop-color="#71ff8e"/><stop offset="0.064" stop-color="#81ff7e"/><stop offset="0.079" stop-color="#96ff69"/><stop offset="0.114" stop-color="#d4ff2b"/><stop offset="0.132" stop-color="#feff01"/><stop offset="0.168" stop-color="#ff9700"/><stop offset="0.232" stop-color="#fe0000"/><stop offset="0.25" stop-color="#c90000"/><stop offset="0.257" stop-color="#bc0000"/><stop offset="0.261" stop-color="#ba0000"/><stop offset="0.75" stop-color="#ba0000"/><stop offset="0.757" stop-color="#c40000"/><stop offset="0.771" stop-color="#f80000"/><stop offset="0.775" stop-color="#ff0500"/><stop offset="0.814" stop-color="#ff8d00"/><stop offset="0.854" stop-color="#feff01"/><stop offset="0.914" stop-color="#28ffd7"/><stop offset="0.925" stop-color="#06fff9"/><stop offset="0.929" stop-color="#00fcff"/><stop offset="0.936" stop-color="#00ecff"/><stop offset="0.95" stop-color="#00ddff"/><stop offset="0.971" stop-color="#00d2ff"/><stop offset="1" stop-color="#00c9ff"/></linearGradient>
<linearGradient id="b36" gradientUnits="userSpaceOnUse" x1="0" x2="0" y1="416.0" y2="696.0"><stop offset="0" stop-color="#72ff8d"/><stop offset="0.036" stop-color="#7cff83"/><stop offset="0.064" stop-color="#8cff73"/><stop offset="0.079" stop-color="#9fff60"/><stop offset="0.114" stop-color="#d9ff26"/><stop offset="0.132" stop-color="#fffc00"/><stop offset="0.157" stop-color="#ffb000"/><stop offset="0.168" stop-color="#ff9300"/><stop offset="0.232" stop-color="#fd0000"/><stop offset="0.25" stop-color="#c90000"/><stop offset="0.257" stop-color="#bc0000"/><stop offset="0.261" stop-color="#ba0000"/><stop offset="0.75" stop-color="#ba0000"/><stop offset="0.757" stop-color="#c40000"/><stop offset="0.771" stop-color="#f70000"/><stop offset="0.775" stop-color="#ff0400"/><stop offset="0.814" stop-color="#ff8a00"/><stop offset="0.854" stop-color="#fffb00"/><stop offset="0.861" stop-color="#ecff13"/><stop offset="0.886" stop-color="#8fff70"/><stop offset="0.914" stop-color="#2dffd2"/><stop offset="0.929" stop-color="#03fffc"/><stop offset="0.939" stop-color="#00f0ff"/><stop offset="0.95" stop-color="#00e8ff"/><stop offset="1" stop-color="#00d7ff"/></linearGradient>
<linearGradient id="b37" gradientUnits="userSpaceOnUse" x1="0" x2="0" y1="416.0" y2="696.0"><stop offset="0" stop-color="#7eff81"/><stop offset="0.036" stop-color="#88ff77"/><stop offset="0.064" stop-color="#97ff68"/><stop offset="0.079" stop-color="#a8ff57"/><stop offset="0.111" stop-color="#d8ff27"/><stop offset="0.121" stop-color="#ebff14"/><stop offset="0.129" stop-color="#fcff03"/><stop offset="0.132" stop-color="#fff900"/><stop offset="0.157" stop-color="#ffad00"/><stop offset="0.168" stop-color="#ff9000"/><stop offset="0.232" stop-color="#fd0000"/><stop offset="0.25" stop-color="#c90000"/><stop offset="0.257" stop-color="#bc0000"/><stop offset="0.261" stop-color="#ba0000"/><stop offset="0.75" stop-color="#ba0000"/><stop offset="0.757" stop-color="#c40000"/><stop offset="0.771" stop-color="#f50000"/><stop offset="0.775" stop-color="#ff0200"/><stop offset="0.814" stop-color="#ff8700"/><stop offset="0.854" stop-color="#fff700"/><stop offset="0.857" stop-color="#fcff03"/><stop offset="0.861" stop-color="#f0ff0f"/><stop offset="0.886" stop-color="#93ff6c"/><stop offset="0.914" stop-color="#31ffce"/><stop offset="0.925" stop-color="#11ffee"/><stop offset="0.932" stop-color="#02fffd"/><stop offset="0.943" stop-color="#00f5ff"/><stop offset="0.957" stop-color="#00eeff"/><stop offset="1" stop-color="#00e3ff"/></linearGradient>
<linearGradient id="b38" gradientUnits="userSpaceOnUse" x1="0" x2="0" y1="416.0" y2="696.0"><stop offset="0" stop-color="#8aff75"/><stop offset="0.036" stop-color="#94ff6b"/><stop offset="0.064" stop-color="#a3ff5c"/><stop offset="0.111" stop-color="#deff21"/><stop offset="0.121" stop-color="#efff10"/><stop offset="0.129" stop-color="#ffff00"/><stop offset="0.157" stop-color="#ffa900"/><stop offset="0.168" stop-color="#ff8c00"/><stop offset="0.229" stop-color="#ff0500"/><stop offset="0.232" stop-color="#fc0000"/><stop offset="0.25" stop-color="#c90000"/><stop offset="0.257" stop-color="#bc0000"/><stop offset="0.261" stop-color="#ba0000"/><stop offset="0.75" stop-color="#ba0000"/><stop offset="0.757" stop-color="#c30000"/><stop offset="0.771" stop-color="#f50000"/><stop offset="0.775" stop-color="#ff0200"/><stop offset="0.814" stop-color="#ff8600"/><stop offset="0.857" stop-color="#ffff00"/><stop offset="0.886" stop-color="#95ff6a"/><stop offset="0.914" stop-color="#34ffcb"/><stop offset="0.925" stop-color="#15ffea"/><stop offset="0.932" stop-color="#06fff9"/><stop offset="0.939" stop-color="#00fdff"/><stop offset="0.961" stop-color="#00f4ff"/><stop offset="1" stop-color="#00ecff"/></linearGradient>
<linearGradient id="b39" gradientUnits="userSpaceOnUse" x1="0" x2="0" y1="416.0" y2="696.0"><stop offset="0" stop-color="#97ff68"/><stop offset="0.036" stop-color="#a1ff5e"/><stop offset="0.064" stop-color="#afff50"/><stop offset="0.111" stop-color="#e3ff1c"/><stop offset="0.125" stop-color="#fbff04"/><stop offset="0.129" stop-color="#fffb00"/><stop offset="0.132" stop-color="#fff100"/><stop offset="0.157" stop-color="#ffa500"/><stop offset="0.168" stop-color="#ff8900"/><stop offset="0.229" stop-color="#ff0400"/><stop offset="0.232" stop-color="#fb0000"/><stop offset="0.25" stop-color="#c80000"/><stop offset="0.257" stop-color="#bc0000"/><stop offset="0.261" stop-color="#ba0000"/><stop offset="0.75" stop-color="#ba0000"/><stop offset="0.757" stop-color="#c30000"/><stop offset="0.775" stop-color="#ff0100"/><stop offset="0.814" stop-color="#ff8500"/><stop offset="0.857" stop-color="#fffe00"/><stop offset="0.864" stop-color="#e8ff17"/><stop offset="0.889" stop-color="#8aff75"/><stop offset="0.914" stop-color="#35ffca"/><stop offset="0.925" stop-color="#16ffe9"/><stop offset="0.932" stop-color="#08fff7"/><stop offset="0.939" stop-color="#00ffff"/><stop offset="0.961" stop-color="#00f6ff"/><stop offset="1" stop-color="#00efff"/></linearGradient>
<linearGradient id="b40" gradientUnits="userSpaceOnUse" x1="0" x2="0" y1="416.0" y2="696.0"><stop offset="0" stop-color="#a5ff5a"/><stop offset="0.036" stop-color="#afff50"/><stop offset="0.064" stop-color="#bcff43"/><stop offset="0.111" stop-color="#e9ff16"/><stop offset="0.125" stop-color="#ffff00"/><stop offset="0.136" stop-color="#ffe300"/><stop offset="0.157" stop-color="#ffa100"/><stop offset="0.168" stop-color="#ff8500"/><stop offset="0.229" stop-color="#ff0300"/><stop offset="0.232" stop-color="#fa0000"/><stop offset="0.25" stop-color="#c80000"/><stop offset="0.257" stop-color="#bc0000"/><stop offset="0.261" stop-color="#ba0000"/><stop offset="0.75" stop-color="#ba0000"/><stop offset="0.757" stop-color="#c30000"/><stop offset="0.775" stop-color="#ff0100"/><stop offset="0.814" stop-color="#ff8400"/><stop offset="0.857" stop-color="#fffd00"/><stop offset="0.864" stop-color="#e9ff16"/><stop offset="0.889" stop-color="#8aff75"/><stop offset="0.914" stop-color="#36ffc9"/><stop offset="0.925" stop-color="#17ffe8"/><stop offset="0.932" stop-color="#09fff6"/><stop offset="0.943" stop-color="#00ffff"/><stop offset="1" stop-color="#00f2ff"/></linearGradient>
<linearGradient id="b41" gradientUnits="userSpaceOnUse" x1="0" x2="0" y1="416.0" y2="696.0"><stop offset="0" stop-color="#b3ff4c"/><stop offset="0.032" stop-color="#bcff43"/><stop offset="0.064" stop-color="#c9ff36"/><stop offset="0.107" stop-color="#ecff13"/><stop offset="0.121" stop-color="#fdff02"/><stop offset="0.125" stop-color="#fffa00"/><stop offset="0.132" stop-color="#ffe900"/><stop offset="0.157" stop-color="#ff9d00"/><stop offset="0.168" stop-color="#ff8100"/><stop offset="0.229" stop-color="#ff0200"/><stop offset="0.232" stop-color="#f90000"/><stop offset="0.25" stop-color="#c70000"/><stop offset="0.257" stop-color="#bc0000"/><stop offset="0.261" stop-color="#ba0000"/><stop offset="0.75" stop-color="#ba0000"/><stop offset="0.757" stop-color="#c30000"/><stop offset="0.775" stop-color="#ff0100"/><stop offset="0.814" stop-color="#ff8400"/><stop offset="0.857" stop-color="#fffd00"/><stop offset="0.864" stop-color="#e9ff16"/><stop offset="0.886" stop-color="#98ff67"/><stop offset="0.911" stop-color="#43ffbc"/><stop offset="0.921" stop-color="#21ffde"/><stop offset="0.929" stop-color="#10ffef"/><stop offset="0.936" stop-color="#05fffa"/><stop offset="0.946" stop-color="#00feff"/><stop offset="1" stop-color="#00f3ff"/></linearGradient>
<linearGradient id="b42" gradientUnits="userSpaceOnUse" x1="0" x2="0" y1="416.0" y2="696.0"><stop offset="0" stop-color="#c2ff3d"/><stop offset="0.064" stop-color="#d7ff28"/><stop offset="0.118" stop-color="#fdff02"/><stop offset="0.121" stop-color="#fffc00"/><stop offset="0.132" stop-color="#ffe500"/><stop offset="0.157" stop-color="#ff9800"/><stop offset="0.168" stop-color="#ff7c00"/><stop offset="0.229" stop-color="#ff0100"/><stop offset="0.232" stop-color="#f80000"/><stop offset="0.25" stop-color="#c70000"/><stop offset="0.257" stop-color="#bb0000"/><stop offset="0.261" stop-color="#ba0000"/><stop offset="0.75" stop-color="#ba0000"/><stop offset="0.757" stop-color="#c30000"/><stop offset="0.775" stop-color="#ff0100"/><stop offset="0.814" stop-color="#ff8400"/><stop offset="0.857" stop-color="#fffc00"/><stop offset="0.861" stop-color="#f6ff09"/><stop offset="0.886" stop-color="#98ff67"/><stop offset="0.911" stop-color="#43ffbc"/><stop offset="0.921" stop-color="#22ffdd"/><stop offset="0.929" stop-color="#11ffee"/><stop offset="0.936" stop-color="#06fff9"/><stop offset="0.946" stop-color="#00ffff"/><stop offset="1" stop-color="#00f4ff"/></linearGradient>
<linearGradient id="b43" gradientUnits="userSpaceOnUse" x1="0" x2="0" y1="416.0" y2="696.0"><stop offset="0" stop-color="#c5ff3a"/><stop offset="0.061" stop-color="#d8ff27"/><stop offset="0.118" stop-color="#feff01"/><stop offset="0.125" stop-color="#fff500"/><stop offset="0.132" stop-color="#ffe400"/><stop offset="0.157" stop-color="#ff9700"/><stop offset="0.171" stop-color="#ff7300"/><stop offset="0.229" stop-color="#ff0100"/><stop offset="0.232" stop-color="#f70000"/><stop offset="0.25" stop-color="#c70000"/><stop offset="0.257" stop-color="#bb0000"/><stop offset="0.261" stop-color="#ba0000"/><stop offset="0.75" stop-color="#ba0000"/><stop offset="0.757" stop-color="#c30000"/><stop offset="0.775" stop-color="#ff0100"/><stop offset="0.814" stop-color="#ff8400"/><stop offset="0.857" stop-color="#fffc00"/><stop offset="0.861" stop-color="#f6ff09"/><stop offset="0.886" stop-color="#98ff67"/><stop offset="0.911" stop-color="#43ffbc"/><stop offset="0.921" stop-color="#22ffdd"/><stop offset="0.929" stop-color="#11ffee"/><stop offset="0.936" stop-color="#06fff9"/><stop offset="0.946" stop-color="#00ffff"/><stop offset="1" stop-color="#00f4ff"/></linearGradient>
<linearGradient id="b44" gradientUnits="userSpaceOnUse" x1="0" x2="0" y1="416.0" y2="696.0"><stop offset="0" stop-color="#c5ff3a"/><stop offset="0.061" stop-color="#d8ff27"/><stop offset="0.118" stop-color="#feff01"/><stop offset="0.125" stop-color="#fff500"/><stop offset="0.132" stop-color="#ffe400"/><stop offset="0.157" stop-color="#ff9700"/><stop offset="0.171" stop-color="#ff7300"/><stop offset="0.229" stop-color="#ff0100"/><stop offset="0.232" stop-color="#f70000"/><stop offset="0.25" stop-color="#c70000"/><stop offset="0.257" stop-color="#bb0000"/><stop offset="0.261" stop-color="#ba0000"/><stop offset="0.75" stop-color="#ba0000"/><stop offset="0.757" stop-color="#c30000"/><stop offset="0.775" stop-color="#ff0100"/><stop offset="0.814" stop-color="#ff8400"/><stop offset="0.857" stop-color="#fffc00"/><stop offset="0.861" stop-color="#f6ff09"/><stop offset="0.886" stop-color="#98ff67"/><stop offset="0.911" stop-color="#43ffbc"/><stop offset="0.921" stop-color="#22ffdd"/><stop offset="0.929" stop-color="#11ffee"/><stop offset="0.936" stop-color="#06fff9"/><stop offset="0.946" stop-color="#00ffff"/><stop offset="1" stop-color="#00f4ff"/></linearGradient>
<linearGradient id="c1" gradientUnits="userSpaceOnUse" y1="0" y2="0" x1="818.5" x2="1095.7"><stop offset="0" stop-color="#800000"/><stop offset="0.004" stop-color="#ba0000"/><stop offset="0.007" stop-color="#ff3000"/><stop offset="0.011" stop-color="#ff8000"/><stop offset="0.014" stop-color="#ffa500"/><stop offset="0.018" stop-color="#ffc400"/><stop offset="0.022" stop-color="#ffdb00"/><stop offset="0.025" stop-color="#ffed00"/><stop offset="0.029" stop-color="#fffb00"/><stop offset="0.032" stop-color="#faff05"/><stop offset="0.04" stop-color="#eaff15"/><stop offset="0.051" stop-color="#d9ff26"/><stop offset="0.134" stop-color="#7bff84"/><stop offset="0.199" stop-color="#1fffe0"/><stop offset="0.227" stop-color="#00ffff"/><stop offset="0.285" stop-color="#00d6ff"/><stop offset="0.347" stop-color="#00b4ff"/><stop offset="0.415" stop-color="#0095ff"/><stop offset="0.505" stop-color="#0075ff"/><stop offset="0.599" stop-color="#005aff"/><stop offset="0.744" stop-color="#0039ff"/><stop offset="0.877" stop-color="#001dff"/><stop offset="1" stop-color="#0007ff"/></linearGradient>
<linearGradient id="c2" gradientUnits="userSpaceOnUse" y1="0" y2="0" x1="818.5" x2="1095.7"><stop offset="0" stop-color="#ff7100"/><stop offset="0.018" stop-color="#ffb700"/><stop offset="0.029" stop-color="#ffdc00"/><stop offset="0.04" stop-color="#fffb00"/><stop offset="0.043" stop-color="#faff05"/><stop offset="0.058" stop-color="#d9ff26"/><stop offset="0.076" stop-color="#b6ff49"/><stop offset="0.094" stop-color="#97ff68"/><stop offset="0.116" stop-color="#78ff87"/><stop offset="0.141" stop-color="#57ffa8"/><stop offset="0.17" stop-color="#36ffc9"/><stop offset="0.227" stop-color="#00ffff"/><stop offset="0.307" stop-color="#00c2ff"/><stop offset="0.379" stop-color="#0095ff"/><stop offset="0.455" stop-color="#0073ff"/><stop offset="0.556" stop-color="#004fff"/><stop offset="0.639" stop-color="#0038ff"/><stop offset="0.718" stop-color="#0028ff"/><stop offset="0.881" stop-color="#0012ff"/><stop offset="1" stop-color="#000bff"/></linearGradient>
<clipPath id="c3"><rect x="677.30" y="416.00" width="143.20" height="278.60"/></clipPath>
<linearGradient id="c4" gradientUnits="userSpaceOnUse" x1="0" x2="0" y1="416.0" y2="694.6"><stop offset="0" stop-color="#00fbff"/><stop offset="0.047" stop-color="#02fffd"/><stop offset="0.068" stop-color="#0afff5"/><stop offset="0.075" stop-color="#14ffeb"/><stop offset="0.09" stop-color="#3affc5"/><stop offset="0.118" stop-color="#9bff64"/><stop offset="0.143" stop-color="#f8ff07"/><stop offset="0.147" stop-color="#fffa00"/><stop offset="0.172" stop-color="#ffaa00"/><stop offset="0.208" stop-color="#ff3e00"/><stop offset="0.229" stop-color="#ff0400"/><stop offset="0.233" stop-color="#fa0000"/><stop offset="0.262" stop-color="#bb0000"/><stop offset="0.265" stop-color="#ba0000"/><stop offset="0.753" stop-color="#ba0000"/><stop offset="0.756" stop-color="#c40000"/><stop offset="0.771" stop-color="#fb0000"/><stop offset="0.774" stop-color="#ff0a00"/><stop offset="0.806" stop-color="#ff7e00"/><stop offset="0.835" stop-color="#fff700"/><stop offset="0.839" stop-color="#f9ff06"/><stop offset="0.907" stop-color="#04fffb"/><stop offset="0.91" stop-color="#00f6ff"/><stop offset="0.935" stop-color="#0097ff"/><stop offset="0.957" stop-color="#005cff"/><stop offset="0.968" stop-color="#0052ff"/><stop offset="1" stop-color="#004dff"/></linearGradient>
<linearGradient id="c5" gradientUnits="userSpaceOnUse" x1="0" x2="0" y1="416.0" y2="694.6"><stop offset="0" stop-color="#00fbff"/><stop offset="0.047" stop-color="#02fffd"/><stop offset="0.068" stop-color="#0afff5"/><stop offset="0.075" stop-color="#14ffeb"/><stop offset="0.09" stop-color="#3affc5"/><stop offset="0.118" stop-color="#9bff64"/><stop offset="0.143" stop-color="#f8ff07"/><stop offset="0.147" stop-color="#fffa00"/><stop offset="0.172" stop-color="#ffaa00"/><stop offset="0.208" stop-color="#ff3e00"/><stop offset="0.229" stop-color="#ff0400"/><stop offset="0.233" stop-color="#fa0000"/><stop offset="0.262" stop-color="#bb0000"/><stop offset="0.265" stop-color="#ba0000"/><stop offset="0.753" stop-color="#ba0000"/><stop offset="0.756" stop-color="#c40000"/><stop offset="0.771" stop-color="#fb0000"/><stop offset="0.774" stop-color="#ff0a00"/><stop offset="0.806" stop-color="#ff7e00"/><stop offset="0.835" stop-color="#fff700"/><stop offset="0.839" stop-color="#f9ff06"/><stop offset="0.907" stop-color="#04fffb"/><stop offset="0.91" stop-color="#00f6ff"/><stop offset="0.935" stop-color="#0097ff"/><stop offset="0.957" stop-color="#005cff"/><stop offset="0.968" stop-color="#0052ff"/><stop offset="1" stop-color="#004dff"/></linearGradient>
<linearGradient id="c6" gradientUnits="userSpaceOnUse" x1="0" x2="0" y1="416.0" y2="694.6"><stop offset="0" stop-color="#00fbff"/><stop offset="0.047" stop-color="#02fffd"/><stop offset="0.068" stop-color="#0afff5"/><stop offset="0.075" stop-color="#14ffeb"/><stop offset="0.09" stop-color="#3affc5"/><stop offset="0.118" stop-color="#9bff64"/><stop offset="0.143" stop-color="#f8ff07"/><stop offset="0.147" stop-color="#fffa00"/><stop offset="0.172" stop-color="#ffaa00"/><stop offset="0.208" stop-color="#ff3e00"/><stop offset="0.229" stop-color="#ff0400"/><stop offset="0.233" stop-color="#fa0000"/><stop offset="0.262" stop-color="#bb0000"/><stop offset="0.265" stop-color="#ba0000"/><stop offset="0.753" stop-color="#ba0000"/><stop offset="0.756" stop-color="#c40000"/><stop offset="0.771" stop-color="#fb0000"/><stop offset="0.774" stop-color="#ff0a00"/><stop offset="0.806" stop-color="#ff7e00"/><stop offset="0.835" stop-color="#fff700"/><stop offset="0.839" stop-color="#f9ff06"/><stop offset="0.907" stop-color="#04fffb"/><stop offset="0.91" stop-color="#00f6ff"/><stop offset="0.935" stop-color="#0097ff"/><stop offset="0.957" stop-color="#005cff"/><stop offset="0.968" stop-color="#0052ff"/><stop offset="1" stop-color="#004dff"/></linearGradient>
<linearGradient id="c7" gradientUnits="userSpaceOnUse" x1="0" x2="0" y1="416.0" y2="694.6"><stop offset="0" stop-color="#00fcff"/><stop offset="0.05" stop-color="#04fffb"/><stop offset="0.068" stop-color="#0afff5"/><stop offset="0.075" stop-color="#14ffeb"/><stop offset="0.09" stop-color="#3bffc4"/><stop offset="0.118" stop-color="#9bff64"/><stop offset="0.143" stop-color="#f8ff07"/><stop offset="0.147" stop-color="#fffa00"/><stop offset="0.172" stop-color="#ffaa00"/><stop offset="0.208" stop-color="#ff3e00"/><stop offset="0.229" stop-color="#ff0400"/><stop offset="0.233" stop-color="#fa0000"/><stop offset="0.262" stop-color="#bb0000"/><stop offset="0.265" stop-color="#ba0000"/><stop offset="0.753" stop-color="#ba0000"/><stop offset="0.756" stop-color="#c40000"/><stop offset="0.771" stop-color="#fb0000"/><stop offset="0.774" stop-color="#ff0a00"/><stop offset="0.806" stop-color="#ff7e00"/><stop offset="0.835" stop-color="#fff700"/><stop offset="0.839" stop-color="#f9ff06"/><stop offset="0.907" stop-color="#04fffb"/><stop offset="0.91" stop-color="#00f7ff"/><stop offset="0.935" stop-color="#0097ff"/><stop offset="0.957" stop-color="#005cff"/><stop offset="0.968" stop-color="#0052ff"/><stop offset="1" stop-color="#004dff"/></linearGradient>
<linearGradient id="c8" gradientUnits="userSpaceOnUse" x1="0" x2="0" y1="416.0" y2="694.6"><stop offset="0" stop-color="#00fcff"/><stop offset="0.032" stop-color="#00ffff"/><stop offset="0.05" stop-color="#04fffb"/><stop offset="0.068" stop-color="#0bfff4"/><stop offset="0.075" stop-color="#15ffea"/><stop offset="0.09" stop-color="#3bffc4"/><stop offset="0.118" stop-color="#9cff63"/><stop offset="0.143" stop-color="#f8ff07"/><stop offset="0.147" stop-color="#fffa00"/><stop offset="0.172" stop-color="#ffa900"/><stop offset="0.208" stop-color="#ff3e00"/><stop offset="0.229" stop-color="#ff0400"/><stop offset="0.233" stop-color="#fa0000"/><stop offset="0.262" stop-color="#bb0000"/><stop offset="0.265" stop-color="#ba0000"/><stop offset="0.753" stop-color="#ba0000"/><stop offset="0.756" stop-color="#c40000"/><stop offset="0.771" stop-color="#fb0000"/><stop offset="0.774" stop-color="#ff0a00"/><stop offset="0.806" stop-color="#ff7e00"/><stop offset="0.835" stop-color="#fff700"/><stop offset="0.839" stop-color="#f9ff06"/><stop offset="0.907" stop-color="#05fffa"/><stop offset="0.91" stop-color="#00f7ff"/><stop offset="0.935" stop-color="#0098ff"/><stop offset="0.957" stop-color="#005cff"/><stop offset="0.968" stop-color="#0053ff"/><stop offset="1" stop-color="#004dff"/></linearGradient>
<linearGradient id="c9" gradientUnits="userSpaceOnUse" x1="0" x2="0" y1="416.0" y2="694.6"><stop offset="0" stop-color="#00fdff"/><stop offset="0.025" stop-color="#00ffff"/><stop offset="0.054" stop-color="#06fff9"/><stop offset="0.068" stop-color="#0cfff3"/><stop offset="0.075" stop-color="#16ffe9"/><stop offset="0.09" stop-color="#3cffc3"/><stop offset="0.118" stop-color="#9dff62"/><stop offset="0.143" stop-color="#f9ff06"/><stop offset="0.147" stop-color="#fff900"/><stop offset="0.172" stop-color="#ffa900"/><stop offset="0.208" stop-color="#ff3e00"/><stop offset="0.229" stop-color="#ff0300"/><stop offset="0.233" stop-color="#fa0000"/><stop offset="0.262" stop-color="#bb0000"/><stop offset="0.265" stop-color="#ba0000"/><stop offset="0.753" stop-color="#ba0000"/><stop offset="0.756" stop-color="#c40000"/><stop offset="0.771" stop-color="#fb0000"/><stop offset="0.774" stop-color="#ff0a00"/><stop offset="0.806" stop-color="#ff7e00"/><stop offset="0.835" stop-color="#fff700"/><stop offset="0.839" stop-color="#f9ff06"/><stop offset="0.907" stop-color="#05fffa"/><stop offset="0.91" stop-color="#00f7ff"/><stop offset="0.928" stop-color="#00b2ff"/><stop offset="0.939" stop-color="#008cff"/><stop offset="0.957" stop-color="#005cff"/><stop offset="0.968" stop-color="#0053ff"/><stop offset="1" stop-color="#004dff"/></linearGradient>
<linearGradient id="c10" gradientUnits="userSpaceOnUse" x1="0" x2="0" y1="416.0" y2="694.6"><stop offset="0" stop-color="#00ffff"/><stop offset="0.057" stop-color="#09fff6"/><stop offset="0.068" stop-color="#0dfff2"/><stop offset="0.075" stop-color="#17ffe8"/><stop offset="0.09" stop-color="#3dffc2"/><stop offset="0.118" stop-color="#9eff61"/><stop offset="0.143" stop-color="#faff05"/><stop offset="0.147" stop-color="#fff800"/><stop offset="0.172" stop-color="#ffa800"/><stop offset="0.208" stop-color="#ff3e00"/><stop offset="0.229" stop-color="#ff0300"/><stop offset="0.233" stop-color="#f90000"/><stop offset="0.262" stop-color="#bb0000"/><stop offset="0.265" stop-color="#ba0000"/><stop offset="0.753" stop-color="#ba0000"/><stop offset="0.756" stop-color="#c40000"/><stop offset="0.771" stop-color="#fb0000"/><stop offset="0.774" stop-color="#ff0900"/><stop offset="0.806" stop-color="#ff7d00"/><stop offset="0.835" stop-color="#fff700"/><stop offset="0.839" stop-color="#f9ff06"/><stop offset="0.907" stop-color="#05fffa"/><stop offset="0.91" stop-color="#00f8ff"/><stop offset="0.928" stop-color="#00b2ff"/><stop offset="0.939" stop-color="#008dff"/><stop offset="0.957" stop-color="#005dff"/><stop offset="0.968" stop-color="#0054ff"/><stop offset="1" stop-color="#004eff"/></linearGradient>
<linearGradient id="c11" gradientUnits="userSpaceOnUse" x1="0" x2="0" y1="416.0" y2="694.6"><stop offset="0" stop-color="#02fffd"/><stop offset="0.057" stop-color="#0afff5"/><stop offset="0.068" stop-color="#0ffff0"/><stop offset="0.075" stop-color="#19ffe6"/><stop offset="0.082" stop-color="#2affd5"/><stop offset="0.093" stop-color="#4bffb4"/><stop offset="0.118" stop-color="#9fff60"/><stop offset="0.143" stop-color="#fbff04"/><stop offset="0.147" stop-color="#fff700"/><stop offset="0.176" stop-color="#ff9d00"/><stop offset="0.211" stop-color="#ff3300"/><stop offset="0.229" stop-color="#ff0300"/><stop offset="0.233" stop-color="#f90000"/><stop offset="0.262" stop-color="#bb0000"/><stop offset="0.265" stop-color="#ba0000"/><stop offset="0.753" stop-color="#ba0000"/><stop offset="0.756" stop-color="#c40000"/><stop offset="0.771" stop-color="#fb0000"/><stop offset="0.774" stop-color="#ff0900"/><stop offset="0.806" stop-color="#ff7d00"/><stop offset="0.835" stop-color="#fff600"/><stop offset="0.839" stop-color="#faff05"/><stop offset="0.907" stop-color="#06fff9"/><stop offset="0.91" stop-color="#00f8ff"/><stop offset="0.935" stop-color="#0099ff"/><stop offset="0.957" stop-color="#005eff"/><stop offset="0.968" stop-color="#0055ff"/><stop offset="1" stop-color="#004fff"/></linearGradient>
<linearGradient id="c12" gradientUnits="userSpaceOnUse" x1="0" x2="0" y1="416.0" y2="694.6"><stop offset="0" stop-color="#04fffb"/><stop offset="0.057" stop-color="#0cfff3"/><stop offset="0.068" stop-color="#11ffee"/><stop offset="0.075" stop-color="#1bffe4"/><stop offset="0.082" stop-color="#2bffd4"/><stop offset="0.093" stop-color="#4dffb2"/><stop offset="0.118" stop-color="#a0ff5f"/><stop offset="0.143" stop-color="#fcff03"/><stop offset="0.147" stop-color="#fff600"/><stop offset="0.172" stop-color="#ffa700"/><stop offset="0.208" stop-color="#ff3d00"/><stop offset="0.229" stop-color="#ff0300"/><stop offset="0.233" stop-color="#f90000"/><stop offset="0.262" stop-color="#bb0000"/><stop offset="0.265" stop-color="#ba0000"/><stop offset="0.753" stop-color="#ba0000"/><stop offset="0.756" stop-color="#c40000"/><stop offset="0.771" stop-color="#fb0000"/><stop offset="0.774" stop-color="#ff0900"/><stop offset="0.806" stop-color="#ff7d00"/><stop offset="0.835" stop-color="#fff600"/><stop offset="0.839" stop-color="#faff05"/><stop offset="0.907" stop-color="#07fff8"/><stop offset="0.91" stop-color="#00f9ff"/><stop offset="0.935" stop-color="#009aff"/><stop offset="0.957" stop-color="#005fff"/><stop offset="0.968" stop-color="#0056ff"/><stop offset="1" stop-color="#0050ff"/></linearGradient>
<linearGradient id="c13" gradientUnits="userSpaceOnUse" x1="0" x2="0" y1="416.0" y2="694.6"><stop offset="0" stop-color="#06fff9"/><stop offset="0.057" stop-color="#0ffff0"/><stop offset="0.068" stop-color="#13ffec"/><stop offset="0.075" stop-color="#1dffe2"/><stop offset="0.082" stop-color="#2effd1"/><stop offset="0.093" stop-color="#4fffb0"/><stop offset="0.118" stop-color="#a2ff5d"/><stop offset="0.143" stop-color="#fdff02"/><stop offset="0.208" stop-color="#ff3c00"/><stop offset="0.229" stop-color="#ff0200"/><stop offset="0.233" stop-color="#f90000"/><stop offset="0.262" stop-color="#bb0000"/><stop offset="0.265" stop-color="#ba0000"/><stop offset="0.753" stop-color="#ba0000"/><stop offset="0.756" stop-color="#c40000"/><stop offset="0.771" stop-color="#fb0000"/><stop offset="0.774" stop-color="#ff0900"/><stop offset="0.806" stop-color="#ff7d00"/><stop offset="0.835" stop-color="#fff500"/><stop offset="0.839" stop-color="#fbff04"/><stop offset="0.907" stop-color="#08fff7"/><stop offset="0.91" stop-color="#00faff"/><stop offset="0.935" stop-color="#009bff"/><stop offset="0.957" stop-color="#0060ff"/><stop offset="0.968" stop-color="#0057ff"/><stop offset="1" stop-color="#0051ff"/></linearGradient>
<linearGradient id="c14" gradientUnits="userSpaceOnUse" x1="0" x2="0" y1="416.0" y2="694.6"><stop offset="0" stop-color="#09fff6"/><stop offset="0.057" stop-color="#11ffee"/><stop offset="0.068" stop-color="#16ffe9"/><stop offset="0.075" stop-color="#1fffe0"/><stop offset="0.082" stop-color="#30ffcf"/><stop offset="0.093" stop-color="#51ffae"/><stop offset="0.118" stop-color="#a4ff5b"/><stop offset="0.143" stop-color="#ffff00"/><stop offset="0.172" stop-color="#ffa500"/><stop offset="0.208" stop-color="#ff3c00"/><stop offset="0.229" stop-color="#ff0200"/><stop offset="0.233" stop-color="#f80000"/><stop offset="0.262" stop-color="#bb0000"/><stop offset="0.265" stop-color="#ba0000"/><stop offset="0.753" stop-color="#ba0000"/><stop offset="0.756" stop-color="#c40000"/><stop offset="0.771" stop-color="#fb0000"/><stop offset="0.774" stop-color="#ff0900"/><stop offset="0.806" stop-color="#ff7c00"/><stop offset="0.835" stop-color="#fff500"/><stop offset="0.839" stop-color="#fbff04"/><stop offset="0.882" stop-color="#61ff9e"/><stop offset="0.907" stop-color="#09fff6"/><stop offset="0.91" stop-color="#00fbff"/><stop offset="0.935" stop-color="#009dff"/><stop offset="0.957" stop-color="#0062ff"/><stop offset="0.968" stop-color="#0058ff"/><stop offset="1" stop-color="#0053ff"/></linearGradient>
<linearGradient id="c15" gradientUnits="userSpaceOnUse" x1="0" x2="0" y1="416.0" y2="694.6"><stop offset="0" stop-color="#0efff1"/><stop offset="0.057" stop-color="#16ffe9"/><stop offset="0.068" stop-color="#1affe5"/><stop offset="0.075" stop-color="#24ffdb"/><stop offset="0.09" stop-color="#4affb5"/><stop offset="0.118" stop-color="#a8ff57"/><stop offset="0.14" stop-color="#f5ff0a"/><stop offset="0.143" stop-color="#fffd00"/><stop offset="0.172" stop-color="#ffa300"/><stop offset="0.208" stop-color="#ff3a00"/><stop offset="0.229" stop-color="#ff0200"/><stop offset="0.233" stop-color="#f80000"/><stop offset="0.262" stop-color="#bb0000"/><stop offset="0.265" stop-color="#ba0000"/><stop offset="0.753" stop-color="#ba0000"/><stop offset="0.756" stop-color="#c40000"/><stop offset="0.771" stop-color="#fb0000"/><stop offset="0.774" stop-color="#ff0900"/><stop offset="0.806" stop-color="#ff7c00"/><stop offset="0.835" stop-color="#fff400"/><stop offset="0.839" stop-color="#fcff03"/><stop offset="0.878" stop-color="#6eff91"/><stop offset="0.91" stop-color="#00fcff"/><stop offset="0.935" stop-color="#009eff"/><stop offset="0.957" stop-color="#0063ff"/><stop offset="0.968" stop-color="#005aff"/><stop offset="1" stop-color="#0054ff"/></linearGradient>
<linearGradient id="c16" gradientUnits="userSpaceOnUse" x1="0" x2="0" y1="416.0" y2="694.6"><stop offset="0" stop-color="#16ffe9"/><stop offset="0.057" stop-color="#1effe1"/><stop offset="0.068" stop-color="#22ffdd"/><stop offset="0.075" stop-color="#2cffd3"/><stop offset="0.09" stop-color="#51ffae"/><stop offset="0.118" stop-color="#adff52"/><stop offset="0.14" stop-color="#faff05"/><stop offset="0.143" stop-color="#fff800"/><stop offset="0.172" stop-color="#ffa000"/><stop offset="0.211" stop-color="#ff2f00"/><stop offset="0.229" stop-color="#ff0100"/><stop offset="0.233" stop-color="#f70000"/><stop offset="0.262" stop-color="#ba0000"/><stop offset="0.265" stop-color="#ba0000"/><stop offset="0.753" stop-color="#ba0000"/><stop offset="0.756" stop-color="#c30000"/><stop offset="0.771" stop-color="#fa0000"/><stop offset="0.774" stop-color="#ff0800"/><stop offset="0.806" stop-color="#ff7a00"/><stop offset="0.839" stop-color="#ffff00"/><stop offset="0.91" stop-color="#03fffc"/><stop offset="0.914" stop-color="#00f5ff"/><stop offset="0.935" stop-color="#00a5ff"/><stop offset="0.957" stop-color="#006aff"/><stop offset="0.968" stop-color="#0061ff"/><stop offset="1" stop-color="#005cff"/></linearGradient>
<linearGradient id="c17" gradientUnits="userSpaceOnUse" x1="0" x2="0" y1="416.0" y2="694.6"><stop offset="0" stop-color="#1fffe0"/><stop offset="0.057" stop-color="#28ffd7"/><stop offset="0.068" stop-color="#2cffd3"/><stop offset="0.075" stop-color="#35ffca"/><stop offset="0.09" stop-color="#5affa5"/><stop offset="0.118" stop-color="#b5ff4a"/><stop offset="0.14" stop-color="#fffe00"/><stop offset="0.183" stop-color="#ff7d00"/><stop offset="0.211" stop-color="#ff2d00"/><stop offset="0.229" stop-color="#fe0000"/><stop offset="0.258" stop-color="#c10000"/><stop offset="0.262" stop-color="#ba0000"/><stop offset="0.265" stop-color="#ba0000"/><stop offset="0.753" stop-color="#ba0000"/><stop offset="0.756" stop-color="#c30000"/><stop offset="0.771" stop-color="#f90000"/><stop offset="0.774" stop-color="#ff0700"/><stop offset="0.803" stop-color="#ff6900"/><stop offset="0.839" stop-color="#fff900"/><stop offset="0.842" stop-color="#f8ff07"/><stop offset="0.914" stop-color="#01fffe"/><stop offset="0.935" stop-color="#00b1ff"/><stop offset="0.957" stop-color="#0078ff"/><stop offset="0.968" stop-color="#006fff"/><stop offset="1" stop-color="#0069ff"/></linearGradient>
<linearGradient id="c18" gradientUnits="userSpaceOnUse" x1="0" x2="0" y1="416.0" y2="694.6"><stop offset="0" stop-color="#2bffd4"/><stop offset="0.043" stop-color="#2fffd0"/><stop offset="0.065" stop-color="#35ffca"/><stop offset="0.072" stop-color="#3affc5"/><stop offset="0.079" stop-color="#47ffb8"/><stop offset="0.09" stop-color="#64ff9b"/><stop offset="0.118" stop-color="#bdff42"/><stop offset="0.136" stop-color="#faff05"/><stop offset="0.14" stop-color="#fff800"/><stop offset="0.165" stop-color="#ffab00"/><stop offset="0.201" stop-color="#ff4700"/><stop offset="0.222" stop-color="#ff0f00"/><stop offset="0.229" stop-color="#fd0000"/><stop offset="0.258" stop-color="#c10000"/><stop offset="0.262" stop-color="#ba0000"/><stop offset="0.265" stop-color="#ba0000"/><stop offset="0.753" stop-color="#ba0000"/><stop offset="0.756" stop-color="#c30000"/><stop offset="0.771" stop-color="#f70000"/><stop offset="0.774" stop-color="#ff0500"/><stop offset="0.803" stop-color="#ff6500"/><stop offset="0.842" stop-color="#ffff00"/><stop offset="0.918" stop-color="#01fffe"/><stop offset="0.939" stop-color="#00b5ff"/><stop offset="0.957" stop-color="#0088ff"/><stop offset="0.968" stop-color="#007fff"/><stop offset="1" stop-color="#007aff"/></linearGradient>
<linearGradient id="c19" gradientUnits="userSpaceOnUse" x1="0" x2="0" y1="416.0" y2="694.6"><stop offset="0" stop-color="#36ffc9"/><stop offset="0.043" stop-color="#3bffc4"/><stop offset="0.065" stop-color="#41ffbe"/><stop offset="0.072" stop-color="#46ffb9"/><stop offset="0.079" stop-color="#52ffad"/><stop offset="0.09" stop-color="#6eff91"/><stop offset="0.136" stop-color="#fffd00"/><stop offset="0.154" stop-color="#ffc500"/><stop offset="0.183" stop-color="#ff7500"/><stop offset="0.215" stop-color="#ff1f00"/><stop offset="0.226" stop-color="#ff0500"/><stop offset="0.229" stop-color="#fb0000"/><stop offset="0.258" stop-color="#c10000"/><stop offset="0.262" stop-color="#ba0000"/><stop offset="0.265" stop-color="#ba0000"/><stop offset="0.753" stop-color="#ba0000"/><stop offset="0.756" stop-color="#c30000"/><stop offset="0.771" stop-color="#f60000"/><stop offset="0.774" stop-color="#ff0300"/><stop offset="0.803" stop-color="#ff6100"/><stop offset="0.842" stop-color="#fff700"/><stop offset="0.846" stop-color="#faff05"/><stop offset="0.907" stop-color="#33ffcc"/><stop offset="0.921" stop-color="#01fffe"/><stop offset="0.939" stop-color="#00c4ff"/><stop offset="0.957" stop-color="#0098ff"/><stop offset="0.968" stop-color="#008fff"/><stop offset="1" stop-color="#008aff"/></linearGradient>
<linearGradient id="c20" gradientUnits="userSpaceOnUse" x1="0" x2="0" y1="416.0" y2="694.6"><stop offset="0" stop-color="#45ffba"/><stop offset="0.043" stop-color="#4affb5"/><stop offset="0.065" stop-color="#4fffb0"/><stop offset="0.072" stop-color="#54ffab"/><stop offset="0.079" stop-color="#61ff9e"/><stop offset="0.09" stop-color="#7cff83"/><stop offset="0.118" stop-color="#d0ff2f"/><stop offset="0.133" stop-color="#ffff00"/><stop offset="0.154" stop-color="#ffbe00"/><stop offset="0.183" stop-color="#ff6f00"/><stop offset="0.219" stop-color="#ff1300"/><stop offset="0.226" stop-color="#ff0300"/><stop offset="0.229" stop-color="#fa0000"/><stop offset="0.258" stop-color="#c10000"/><stop offset="0.262" stop-color="#ba0000"/><stop offset="0.265" stop-color="#ba0000"/><stop offset="0.753" stop-color="#ba0000"/><stop offset="0.756" stop-color="#c30000"/><stop offset="0.774" stop-color="#ff0100"/><stop offset="0.806" stop-color="#ff6900"/><stop offset="0.835" stop-color="#ffd500"/><stop offset="0.846" stop-color="#fffa00"/><stop offset="0.849" stop-color="#f8ff07"/><stop offset="0.91" stop-color="#36ffc9"/><stop offset="0.925" stop-color="#05fffa"/><stop offset="0.928" stop-color="#00f8ff"/><stop offset="0.939" stop-color="#00d6ff"/><stop offset="0.95" stop-color="#00bbff"/><stop offset="0.961" stop-color="#00a6ff"/><stop offset="1" stop-color="#009eff"/></linearGradient>
<linearGradient id="c21" gradientUnits="userSpaceOnUse" x1="0" x2="0" y1="416.0" y2="694.6"><stop offset="0" stop-color="#57ffa8"/><stop offset="0.043" stop-color="#5bffa4"/><stop offset="0.072" stop-color="#65ff9a"/><stop offset="0.086" stop-color="#82ff7d"/><stop offset="0.115" stop-color="#d2ff2d"/><stop offset="0.129" stop-color="#feff01"/><stop offset="0.151" stop-color="#ffbf00"/><stop offset="0.183" stop-color="#ff6900"/><stop offset="0.222" stop-color="#ff0800"/><stop offset="0.226" stop-color="#ff0000"/><stop offset="0.229" stop-color="#f70000"/><stop offset="0.258" stop-color="#c00000"/><stop offset="0.262" stop-color="#ba0000"/><stop offset="0.265" stop-color="#ba0000"/><stop offset="0.753" stop-color="#ba0000"/><stop offset="0.756" stop-color="#c20000"/><stop offset="0.774" stop-color="#fe0000"/><stop offset="0.806" stop-color="#ff6300"/><stop offset="0.835" stop-color="#ffcc00"/><stop offset="0.849" stop-color="#fffb00"/><stop offset="0.853" stop-color="#f7ff08"/><stop offset="0.907" stop-color="#53ffac"/><stop offset="0.932" stop-color="#00ffff"/><stop offset="0.95" stop-color="#00d0ff"/><stop offset="0.961" stop-color="#00bcff"/><stop offset="1" stop-color="#00b4ff"/></linearGradient>
<linearGradient id="c22" gradientUnits="userSpaceOnUse" x1="0" x2="0" y1="416.0" y2="694.6"><stop offset="0" stop-color="#6aff95"/><stop offset="0.043" stop-color="#6eff91"/><stop offset="0.072" stop-color="#78ff87"/><stop offset="0.086" stop-color="#93ff6c"/><stop offset="0.125" stop-color="#fffe00"/><stop offset="0.143" stop-color="#ffc800"/><stop offset="0.168" stop-color="#ff8600"/><stop offset="0.211" stop-color="#ff1d00"/><stop offset="0.226" stop-color="#fc0000"/><stop offset="0.254" stop-color="#c60000"/><stop offset="0.262" stop-color="#ba0000"/><stop offset="0.265" stop-color="#ba0000"/><stop offset="0.753" stop-color="#ba0000"/><stop offset="0.756" stop-color="#c20000"/><stop offset="0.774" stop-color="#fb0000"/><stop offset="0.778" stop-color="#ff0700"/><stop offset="0.806" stop-color="#ff5d00"/><stop offset="0.835" stop-color="#ffc200"/><stop offset="0.853" stop-color="#fffb00"/><stop offset="0.857" stop-color="#f9ff06"/><stop offset="0.903" stop-color="#6fff90"/><stop offset="0.939" stop-color="#01fffe"/><stop offset="0.953" stop-color="#00dfff"/><stop offset="0.961" stop-color="#00d3ff"/><stop offset="1" stop-color="#00cbff"/></linearGradient>
<linearGradient id="c23" gradientUnits="userSpaceOnUse" x1="0" x2="0" y1="416.0" y2="694.6"><stop offset="0" stop-color="#7dff82"/><stop offset="0.043" stop-color="#81ff7e"/><stop offset="0.072" stop-color="#8aff75"/><stop offset="0.086" stop-color="#a5ff5a"/><stop offset="0.118" stop-color="#f9ff06"/><stop offset="0.122" stop-color="#fffb00"/><stop offset="0.143" stop-color="#ffbd00"/><stop offset="0.168" stop-color="#ff7e00"/><stop offset="0.215" stop-color="#ff1100"/><stop offset="0.222" stop-color="#ff0200"/><stop offset="0.226" stop-color="#fa0000"/><stop offset="0.254" stop-color="#c60000"/><stop offset="0.262" stop-color="#ba0000"/><stop offset="0.265" stop-color="#ba0000"/><stop offset="0.753" stop-color="#ba0000"/><stop offset="0.756" stop-color="#c20000"/><stop offset="0.774" stop-color="#f90000"/><stop offset="0.778" stop-color="#ff0400"/><stop offset="0.803" stop-color="#ff4c00"/><stop offset="0.835" stop-color="#ffb800"/><stop offset="0.857" stop-color="#fff900"/><stop offset="0.86" stop-color="#fbff04"/><stop offset="0.91" stop-color="#6cff93"/><stop offset="0.935" stop-color="#20ffdf"/><stop offset="0.95" stop-color="#00fdff"/><stop offset="0.957" stop-color="#00efff"/><stop offset="0.964" stop-color="#00e9ff"/><stop offset="1" stop-color="#00e3ff"/></linearGradient>
<linearGradient id="c24" gradientUnits="userSpaceOnUse" x1="0" x2="0" y1="416.0" y2="694.6"><stop offset="0" stop-color="#91ff6e"/><stop offset="0.043" stop-color="#94ff6b"/><stop offset="0.072" stop-color="#9eff61"/><stop offset="0.086" stop-color="#b6ff49"/><stop offset="0.115" stop-color="#feff01"/><stop offset="0.143" stop-color="#ffb200"/><stop offset="0.161" stop-color="#ff8600"/><stop offset="0.201" stop-color="#ff2d00"/><stop offset="0.222" stop-color="#fe0000"/><stop offset="0.251" stop-color="#cb0000"/><stop offset="0.262" stop-color="#ba0000"/><stop offset="0.265" stop-color="#ba0000"/><stop offset="0.753" stop-color="#ba0000"/><stop offset="0.774" stop-color="#f70000"/><stop offset="0.778" stop-color="#ff0200"/><stop offset="0.803" stop-color="#ff4700"/><stop offset="0.835" stop-color="#ffaf00"/><stop offset="0.86" stop-color="#fff600"/><stop offset="0.864" stop-color="#feff01"/><stop offset="0.91" stop-color="#7eff81"/><stop offset="0.935" stop-color="#35ffca"/><stop offset="0.953" stop-color="#0dfff2"/><stop offset="0.964" stop-color="#01fffe"/><stop offset="1" stop-color="#00faff"/></linearGradient>
<linearGradient id="c25" gradientUnits="userSpaceOnUse" x1="0" x2="0" y1="416.0" y2="694.6"><stop offset="0" stop-color="#a5ff5a"/><stop offset="0.043" stop-color="#a9ff56"/><stop offset="0.072" stop-color="#b1ff4e"/><stop offset="0.086" stop-color="#c9ff36"/><stop offset="0.108" stop-color="#fdff02"/><stop offset="0.115" stop-color="#fff100"/><stop offset="0.143" stop-color="#ffa600"/><stop offset="0.168" stop-color="#ff6d00"/><stop offset="0.211" stop-color="#ff1100"/><stop offset="0.219" stop-color="#ff0300"/><stop offset="0.222" stop-color="#fb0000"/><stop offset="0.251" stop-color="#ca0000"/><stop offset="0.262" stop-color="#ba0000"/><stop offset="0.265" stop-color="#ba0000"/><stop offset="0.753" stop-color="#ba0000"/><stop offset="0.778" stop-color="#fe0000"/><stop offset="0.806" stop-color="#ff4b00"/><stop offset="0.839" stop-color="#ffb000"/><stop offset="0.867" stop-color="#fffd00"/><stop offset="0.907" stop-color="#99ff66"/><stop offset="0.935" stop-color="#49ffb6"/><stop offset="0.953" stop-color="#23ffdc"/><stop offset="0.964" stop-color="#17ffe8"/><stop offset="1" stop-color="#12ffed"/></linearGradient>
<linearGradient id="c26" gradientUnits="userSpaceOnUse" x1="0" x2="0" y1="416.0" y2="694.6"><stop offset="0" stop-color="#bbff44"/><stop offset="0.068" stop-color="#c4ff3b"/><stop offset="0.082" stop-color="#d6ff29"/><stop offset="0.1" stop-color="#fdff02"/><stop offset="0.115" stop-color="#ffe100"/><stop offset="0.158" stop-color="#ff7a00"/><stop offset="0.219" stop-color="#fe0000"/><stop offset="0.251" stop-color="#c90000"/><stop offset="0.262" stop-color="#ba0000"/><stop offset="0.265" stop-color="#ba0000"/><stop offset="0.753" stop-color="#ba0000"/><stop offset="0.778" stop-color="#fb0000"/><stop offset="0.781" stop-color="#ff0500"/><stop offset="0.803" stop-color="#ff3c00"/><stop offset="0.842" stop-color="#ffb000"/><stop offset="0.871" stop-color="#fff900"/><stop offset="0.875" stop-color="#fbff04"/><stop offset="0.91" stop-color="#a1ff5e"/><stop offset="0.935" stop-color="#5effa1"/><stop offset="0.953" stop-color="#39ffc6"/><stop offset="0.964" stop-color="#2dffd2"/><stop offset="1" stop-color="#28ffd7"/></linearGradient>
<linearGradient id="c27" gradientUnits="userSpaceOnUse" x1="0" x2="0" y1="416.0" y2="694.6"><stop offset="0" stop-color="#d1ff2e"/><stop offset="0.068" stop-color="#daff25"/><stop offset="0.079" stop-color="#e5ff1a"/><stop offset="0.093" stop-color="#fffe00"/><stop offset="0.161" stop-color="#ff6800"/><stop offset="0.211" stop-color="#ff0800"/><stop offset="0.215" stop-color="#ff0100"/><stop offset="0.219" stop-color="#fa0000"/><stop offset="0.251" stop-color="#c80000"/><stop offset="0.262" stop-color="#ba0000"/><stop offset="0.265" stop-color="#ba0000"/><stop offset="0.753" stop-color="#ba0000"/><stop offset="0.778" stop-color="#f80000"/><stop offset="0.781" stop-color="#ff0200"/><stop offset="0.803" stop-color="#ff3600"/><stop offset="0.839" stop-color="#ff9c00"/><stop offset="0.878" stop-color="#fffd00"/><stop offset="0.907" stop-color="#bcff43"/><stop offset="0.935" stop-color="#72ff8d"/><stop offset="0.953" stop-color="#4fffb0"/><stop offset="0.964" stop-color="#44ffbb"/><stop offset="1" stop-color="#3fffc0"/></linearGradient>
<linearGradient id="c28" gradientUnits="userSpaceOnUse" x1="0" x2="0" y1="416.0" y2="694.6"><stop offset="0" stop-color="#eaff15"/><stop offset="0.065" stop-color="#f1ff0e"/><stop offset="0.082" stop-color="#fffc00"/><stop offset="0.115" stop-color="#ffbe00"/><stop offset="0.158" stop-color="#ff6300"/><stop offset="0.208" stop-color="#ff0900"/><stop offset="0.215" stop-color="#fc0000"/><stop offset="0.237" stop-color="#db0000"/><stop offset="0.262" stop-color="#ba0000"/><stop offset="0.753" stop-color="#ba0000"/><stop offset="0.781" stop-color="#fe0000"/><stop offset="0.806" stop-color="#ff3a00"/><stop offset="0.842" stop-color="#ff9b00"/><stop offset="0.885" stop-color="#feff01"/><stop offset="0.935" stop-color="#87ff78"/><stop offset="0.953" stop-color="#65ff9a"/><stop offset="0.964" stop-color="#5bffa4"/><stop offset="1" stop-color="#56ffa9"/></linearGradient>
<linearGradient id="c29" gradientUnits="userSpaceOnUse" x1="0" x2="0" y1="416.0" y2="694.6"><stop offset="0" stop-color="#fffa00"/><stop offset="0.057" stop-color="#fff500"/><stop offset="0.075" stop-color="#ffed00"/><stop offset="0.09" stop-color="#ffd800"/><stop offset="0.161" stop-color="#ff5000"/><stop offset="0.208" stop-color="#ff0300"/><stop offset="0.211" stop-color="#fc0000"/><stop offset="0.244" stop-color="#cf0000"/><stop offset="0.262" stop-color="#ba0000"/><stop offset="0.265" stop-color="#ba0000"/><stop offset="0.753" stop-color="#ba0000"/><stop offset="0.781" stop-color="#fb0000"/><stop offset="0.785" stop-color="#ff0400"/><stop offset="0.799" stop-color="#ff2300"/><stop offset="0.842" stop-color="#ff9100"/><stop offset="0.892" stop-color="#feff01"/><stop offset="0.935" stop-color="#9bff64"/><stop offset="0.957" stop-color="#76ff89"/><stop offset="0.968" stop-color="#70ff8f"/><stop offset="1" stop-color="#6dff92"/></linearGradient>
<linearGradient id="c30" gradientUnits="userSpaceOnUse" x1="0" x2="0" y1="416.0" y2="694.6"><stop offset="0" stop-color="#ffdc00"/><stop offset="0.057" stop-color="#ffd800"/><stop offset="0.075" stop-color="#ffd000"/><stop offset="0.09" stop-color="#ffbd00"/><stop offset="0.161" stop-color="#ff4200"/><stop offset="0.204" stop-color="#ff0100"/><stop offset="0.208" stop-color="#fb0000"/><stop offset="0.233" stop-color="#da0000"/><stop offset="0.262" stop-color="#ba0000"/><stop offset="0.753" stop-color="#ba0000"/><stop offset="0.785" stop-color="#ff0000"/><stop offset="0.806" stop-color="#ff2e00"/><stop offset="0.842" stop-color="#ff8600"/><stop offset="0.9" stop-color="#ffff00"/><stop offset="0.935" stop-color="#b0ff4f"/><stop offset="0.957" stop-color="#8dff72"/><stop offset="0.968" stop-color="#87ff78"/><stop offset="1" stop-color="#84ff7b"/></linearGradient>
<linearGradient id="c31" gradientUnits="userSpaceOnUse" x1="0" x2="0" y1="416.0" y2="694.6"><stop offset="0" stop-color="#ffbb00"/><stop offset="0.057" stop-color="#ffb700"/><stop offset="0.075" stop-color="#ffb100"/><stop offset="0.09" stop-color="#ffa000"/><stop offset="0.158" stop-color="#ff3800"/><stop offset="0.201" stop-color="#fd0000"/><stop offset="0.237" stop-color="#d20000"/><stop offset="0.262" stop-color="#ba0000"/><stop offset="0.265" stop-color="#ba0000"/><stop offset="0.753" stop-color="#ba0000"/><stop offset="0.785" stop-color="#fc0000"/><stop offset="0.789" stop-color="#ff0400"/><stop offset="0.806" stop-color="#ff2800"/><stop offset="0.846" stop-color="#ff8400"/><stop offset="0.907" stop-color="#fffe00"/><stop offset="0.935" stop-color="#c3ff3c"/><stop offset="0.957" stop-color="#a2ff5d"/><stop offset="0.968" stop-color="#9dff62"/><stop offset="1" stop-color="#99ff66"/></linearGradient>
<linearGradient id="c32" gradientUnits="userSpaceOnUse" x1="0" x2="0" y1="416.0" y2="694.6"><stop offset="0" stop-color="#ff9a00"/><stop offset="0.057" stop-color="#ff9600"/><stop offset="0.075" stop-color="#ff9100"/><stop offset="0.09" stop-color="#ff8200"/><stop offset="0.161" stop-color="#ff2300"/><stop offset="0.194" stop-color="#fc0000"/><stop offset="0.229" stop-color="#d60000"/><stop offset="0.262" stop-color="#ba0000"/><stop offset="0.753" stop-color="#ba0000"/><stop offset="0.789" stop-color="#ff0000"/><stop offset="0.81" stop-color="#ff2b00"/><stop offset="0.842" stop-color="#ff7300"/><stop offset="0.914" stop-color="#fffc00"/><stop offset="0.939" stop-color="#d0ff2f"/><stop offset="0.957" stop-color="#b6ff49"/><stop offset="0.968" stop-color="#b1ff4e"/><stop offset="1" stop-color="#aeff51"/></linearGradient>
<linearGradient id="c33" gradientUnits="userSpaceOnUse" x1="0" x2="0" y1="416.0" y2="694.6"><stop offset="0" stop-color="#ff7800"/><stop offset="0.057" stop-color="#ff7500"/><stop offset="0.075" stop-color="#ff7000"/><stop offset="0.09" stop-color="#ff6400"/><stop offset="0.158" stop-color="#ff1700"/><stop offset="0.183" stop-color="#fd0000"/><stop offset="0.229" stop-color="#d10000"/><stop offset="0.265" stop-color="#ba0000"/><stop offset="0.753" stop-color="#ba0000"/><stop offset="0.789" stop-color="#fc0000"/><stop offset="0.792" stop-color="#ff0300"/><stop offset="0.806" stop-color="#ff1e00"/><stop offset="0.846" stop-color="#ff7000"/><stop offset="0.925" stop-color="#feff01"/><stop offset="0.939" stop-color="#e4ff1b"/><stop offset="0.961" stop-color="#c8ff37"/><stop offset="1" stop-color="#c4ff3b"/></linearGradient>
<linearGradient id="c34" gradientUnits="userSpaceOnUse" x1="0" x2="0" y1="416.0" y2="694.6"><stop offset="0" stop-color="#ff5400"/><stop offset="0.075" stop-color="#ff4e00"/><stop offset="0.165" stop-color="#fe0000"/><stop offset="0.226" stop-color="#cf0000"/><stop offset="0.265" stop-color="#ba0000"/><stop offset="0.753" stop-color="#ba0000"/><stop offset="0.792" stop-color="#fe0000"/><stop offset="0.806" stop-color="#ff1800"/><stop offset="0.846" stop-color="#ff6500"/><stop offset="0.935" stop-color="#feff01"/><stop offset="0.961" stop-color="#dfff20"/><stop offset="1" stop-color="#dbff24"/></linearGradient>
<linearGradient id="c35" gradientUnits="userSpaceOnUse" x1="0" x2="0" y1="416.0" y2="694.6"><stop offset="0" stop-color="#ff2f00"/><stop offset="0.072" stop-color="#ff2b00"/><stop offset="0.09" stop-color="#ff2300"/><stop offset="0.14" stop-color="#fe0000"/><stop offset="0.219" stop-color="#ce0000"/><stop offset="0.265" stop-color="#ba0000"/><stop offset="0.753" stop-color="#ba0000"/><stop offset="0.796" stop-color="#fe0000"/><stop offset="0.846" stop-color="#ff5900"/><stop offset="0.943" stop-color="#fff200"/><stop offset="0.953" stop-color="#ffff00"/><stop offset="0.964" stop-color="#f8ff07"/><stop offset="1" stop-color="#f5ff0a"/></linearGradient>
<linearGradient id="c36" gradientUnits="userSpaceOnUse" x1="0" x2="0" y1="416.0" y2="694.6"><stop offset="0" stop-color="#ff0e00"/><stop offset="0.068" stop-color="#ff0c00"/><stop offset="0.1" stop-color="#ff0000"/><stop offset="0.204" stop-color="#ce0000"/><stop offset="0.265" stop-color="#ba0000"/><stop offset="0.753" stop-color="#ba0000"/><stop offset="0.799" stop-color="#fc0000"/><stop offset="0.806" stop-color="#ff0800"/><stop offset="0.846" stop-color="#ff4900"/><stop offset="0.943" stop-color="#ffd200"/><stop offset="0.961" stop-color="#ffe300"/><stop offset="1" stop-color="#ffe700"/></linearGradient>
<linearGradient id="c37" gradientUnits="userSpaceOnUse" x1="0" x2="0" y1="416.0" y2="694.6"><stop offset="0" stop-color="#f20000"/><stop offset="0.079" stop-color="#ef0000"/><stop offset="0.183" stop-color="#ce0000"/><stop offset="0.262" stop-color="#ba0000"/><stop offset="0.753" stop-color="#ba0000"/><stop offset="0.806" stop-color="#fc0000"/><stop offset="0.81" stop-color="#ff0200"/><stop offset="0.846" stop-color="#ff3400"/><stop offset="0.943" stop-color="#ffa900"/><stop offset="0.961" stop-color="#ffb800"/><stop offset="1" stop-color="#ffbb00"/></linearGradient>
<linearGradient id="c38" gradientUnits="userSpaceOnUse" x1="0" x2="0" y1="416.0" y2="694.6"><stop offset="0" stop-color="#d80000"/><stop offset="0.079" stop-color="#d60000"/><stop offset="0.262" stop-color="#ba0000"/><stop offset="0.753" stop-color="#ba0000"/><stop offset="0.817" stop-color="#fe0000"/><stop offset="0.943" stop-color="#ff8200"/><stop offset="0.961" stop-color="#ff8f00"/><stop offset="1" stop-color="#ff9100"/></linearGradient>
<linearGradient id="c39" gradientUnits="userSpaceOnUse" x1="0" x2="0" y1="416.0" y2="694.6"><stop offset="0" stop-color="#c30000"/><stop offset="0.262" stop-color="#ba0000"/><stop offset="0.753" stop-color="#ba0000"/><stop offset="0.824" stop-color="#fc0000"/><stop offset="0.828" stop-color="#ff0100"/><stop offset="0.95" stop-color="#ff6d00"/><stop offset="0.964" stop-color="#ff7300"/><stop offset="1" stop-color="#ff7500"/></linearGradient>
<linearGradient id="c40" gradientUnits="userSpaceOnUse" x1="0" x2="0" y1="416.0" y2="694.6"><stop offset="0" stop-color="#ba0000"/><stop offset="0.753" stop-color="#ba0000"/><stop offset="0.835" stop-color="#ff0000"/><stop offset="0.95" stop-color="#ff5a00"/><stop offset="0.964" stop-color="#ff6000"/><stop offset="1" stop-color="#ff6100"/></linearGradient>
<linearGradient id="c41" gradientUnits="userSpaceOnUse" x1="0" x2="0" y1="416.0" y2="694.6"><stop offset="0" stop-color="#ba0000"/><stop offset="0.753" stop-color="#ba0000"/><stop offset="0.842" stop-color="#fd0000"/><stop offset="0.953" stop-color="#ff4b00"/><stop offset="1" stop-color="#ff5000"/></linearGradient>
<linearGradient id="c42" gradientUnits="userSpaceOnUse" x1="0" x2="0" y1="416.0" y2="694.6"><stop offset="0" stop-color="#ba0000"/><stop offset="0.753" stop-color="#ba0000"/><stop offset="0.857" stop-color="#ff0000"/><stop offset="0.953" stop-color="#ff3b00"/><stop offset="1" stop-color="#ff3f00"/></linearGradient>
<linearGradient id="c43" gradientUnits="userSpaceOnUse" x1="0" x2="0" y1="416.0" y2="694.6"><stop offset="0" stop-color="#ba0000"/><stop offset="0.753" stop-color="#ba0000"/><stop offset="0.86" stop-color="#ff0000"/><stop offset="0.953" stop-color="#ff3800"/><stop offset="1" stop-color="#ff3c00"/></linearGradient>
<linearGradient id="c44" gradientUnits="userSpaceOnUse" x1="0" x2="0" y1="416.0" y2="694.6"><stop offset="0" stop-color="#ba0000"/><stop offset="0.753" stop-color="#ba0000"/><stop offset="0.86" stop-color="#ff0000"/><stop offset="0.953" stop-color="#ff3800"/><stop offset="1" stop-color="#ff3c00"/></linearGradient>
<linearGradient id="d1" gradientUnits="userSpaceOnUse" y1="0" y2="0" x1="239.1" x2="516.8"><stop offset="0" stop-color="#ba0000"/><stop offset="0.061" stop-color="#bc0000"/><stop offset="0.065" stop-color="#c10000"/><stop offset="0.072" stop-color="#d20000"/><stop offset="0.086" stop-color="#ff0200"/><stop offset="0.094" stop-color="#ff2100"/><stop offset="0.108" stop-color="#ff7000"/><stop offset="0.126" stop-color="#ffbf00"/><stop offset="0.133" stop-color="#ffdb00"/><stop offset="0.14" stop-color="#fff300"/><stop offset="0.144" stop-color="#fffc00"/><stop offset="0.147" stop-color="#faff05"/><stop offset="0.169" stop-color="#d5ff2a"/><stop offset="0.191" stop-color="#b8ff47"/><stop offset="0.241" stop-color="#83ff7c"/><stop offset="0.32" stop-color="#21ffde"/><stop offset="0.342" stop-color="#0cfff3"/><stop offset="0.36" stop-color="#00ffff"/><stop offset="0.414" stop-color="#00eaff"/><stop offset="0.543" stop-color="#00c7ff"/><stop offset="0.759" stop-color="#0077ff"/><stop offset="1" stop-color="#0033ff"/></linearGradient>
<linearGradient id="d2" gradientUnits="userSpaceOnUse" y1="0" y2="0" x1="239.1" x2="516.8"><stop offset="0" stop-color="#ba0000"/><stop offset="0.047" stop-color="#ba0000"/><stop offset="0.05" stop-color="#bd0000"/><stop offset="0.058" stop-color="#cf0000"/><stop offset="0.068" stop-color="#f50000"/><stop offset="0.072" stop-color="#ff0200"/><stop offset="0.108" stop-color="#ff6c00"/><stop offset="0.129" stop-color="#ffa600"/><stop offset="0.151" stop-color="#ffdb00"/><stop offset="0.169" stop-color="#feff01"/><stop offset="0.191" stop-color="#dbff24"/><stop offset="0.212" stop-color="#bcff43"/><stop offset="0.284" stop-color="#66ff99"/><stop offset="0.342" stop-color="#28ffd7"/><stop offset="0.388" stop-color="#01fffe"/><stop offset="0.435" stop-color="#00e5ff"/><stop offset="0.482" stop-color="#00d0ff"/><stop offset="0.597" stop-color="#00a1ff"/><stop offset="0.791" stop-color="#0057ff"/><stop offset="0.827" stop-color="#004dff"/><stop offset="0.903" stop-color="#0040ff"/><stop offset="1" stop-color="#0037ff"/></linearGradient>
<clipPath id="d3"><rect x="99.30" y="877.80" width="141.80" height="278.20"/></clipPath>
<linearGradient id="d4" gradientUnits="userSpaceOnUse" x1="0" x2="0" y1="877.8" y2="1156.0"><stop offset="0" stop-color="#0000cc"/><stop offset="1" stop-color="#0000cc"/></linearGradient>
<linearGradient id="d5" gradientUnits="userSpaceOnUse" x1="0" x2="0" y1="877.8" y2="1156.0"><stop offset="0" stop-color="#0000cc"/><stop offset="1" stop-color="#0000cc"/></linearGradient>
<linearGradient id="d6" gradientUnits="userSpaceOnUse" x1="0" x2="0" y1="877.8" y2="1156.0"><stop offset="0" stop-color="#0000cc"/><stop offset="1" stop-color="#0000cc"/></linearGradient>
<linearGradient id="d7" gradientUnits="userSpaceOnUse" x1="0" x2="0" y1="877.8" y2="1156.0"><stop offset="0" stop-color="#0000cd"/><stop offset="1" stop-color="#0000cd"/></linearGradient>
<linearGradient id="d8" gradientUnits="userSpaceOnUse" x1="0" x2="0" y1="877.8" y2="1156.0"><stop offset="0" stop-color="#0000cf"/><stop offset="0.888" stop-color="#0000cc"/><stop offset="1" stop-color="#0000cf"/></linearGradient>
<linearGradient id="d9" gradientUnits="userSpaceOnUse" x1="0" x2="0" y1="877.8" y2="1156.0"><stop offset="0" stop-color="#0000d1"/><stop offset="0.133" stop-color="#0000cc"/><stop offset="0.867" stop-color="#0000cc"/><stop offset="1" stop-color="#0000d1"/></linearGradient>
<linearGradient id="d10" gradientUnits="userSpaceOnUse" x1="0" x2="0" y1="877.8" y2="1156.0"><stop offset="0" stop-color="#0000d4"/><stop offset="0.155" stop-color="#0000cc"/><stop offset="0.849" stop-color="#0000cc"/><stop offset="1" stop-color="#0000d4"/></linearGradient>
<linearGradient id="d11" gradientUnits="userSpaceOnUse" x1="0" x2="0" y1="877.8" y2="1156.0"><stop offset="0" stop-color="#0000d7"/><stop offset="0.169" stop-color="#0000cc"/><stop offset="0.831" stop-color="#0000cc"/><stop offset="1" stop-color="#0000d7"/></linearGradient>
<linearGradient id="d12" gradientUnits="userSpaceOnUse" x1="0" x2="0" y1="877.8" y2="1156.0"><stop offset="0" stop-color="#0000db"/><stop offset="0.187" stop-color="#0000cc"/><stop offset="0.82" stop-color="#0000cc"/><stop offset="1" stop-color="#0000da"/></linearGradient>
<linearGradient id="d13" gradientUnits="userSpaceOnUse" x1="0" x2="0" y1="877.8" y2="1156.0"><stop offset="0" stop-color="#0000e1"/><stop offset="0.201" stop-color="#0000cc"/><stop offset="0.809" stop-color="#0000cc"/><stop offset="0.942" stop-color="#0000dc"/><stop offset="1" stop-color="#0000df"/></linearGradient>
<linearGradient id="d14" gradientUnits="userSpaceOnUse" x1="0" x2="0" y1="877.8" y2="1156.0"><stop offset="0" stop-color="#0000e8"/><stop offset="0.05" stop-color="#0000e4"/><stop offset="0.173" stop-color="#0000cf"/><stop offset="0.212" stop-color="#0000cc"/><stop offset="0.802" stop-color="#0000cc"/><stop offset="0.939" stop-color="#0000e0"/><stop offset="1" stop-color="#0000e4"/></linearGradient>
<linearGradient id="d15" gradientUnits="userSpaceOnUse" x1="0" x2="0" y1="877.8" y2="1156.0"><stop offset="0" stop-color="#0000f0"/><stop offset="0.05" stop-color="#0000ec"/><stop offset="0.144" stop-color="#0000d7"/><stop offset="0.223" stop-color="#0000cc"/><stop offset="0.791" stop-color="#0000cc"/><stop offset="0.939" stop-color="#0000e6"/><stop offset="1" stop-color="#0000ea"/></linearGradient>
<linearGradient id="d16" gradientUnits="userSpaceOnUse" x1="0" x2="0" y1="877.8" y2="1156.0"><stop offset="0" stop-color="#0000fa"/><stop offset="0.05" stop-color="#0000f5"/><stop offset="0.158" stop-color="#0000d7"/><stop offset="0.23" stop-color="#0000cc"/><stop offset="0.781" stop-color="#0000cc"/><stop offset="0.845" stop-color="#0000d7"/><stop offset="0.935" stop-color="#0000ec"/><stop offset="1" stop-color="#0000f1"/></linearGradient>
<linearGradient id="d17" gradientUnits="userSpaceOnUse" x1="0" x2="0" y1="877.8" y2="1156.0"><stop offset="0" stop-color="#0006ff"/><stop offset="0.054" stop-color="#0000ff"/><stop offset="0.165" stop-color="#0000d9"/><stop offset="0.241" stop-color="#0000cc"/><stop offset="0.773" stop-color="#0000cc"/><stop offset="0.835" stop-color="#0000d7"/><stop offset="0.935" stop-color="#0000f3"/><stop offset="1" stop-color="#0000fa"/></linearGradient>
<linearGradient id="d18" gradientUnits="userSpaceOnUse" x1="0" x2="0" y1="877.8" y2="1156.0"><stop offset="0" stop-color="#0017ff"/><stop offset="0.036" stop-color="#0012ff"/><stop offset="0.086" stop-color="#0000ff"/><stop offset="0.176" stop-color="#0000da"/><stop offset="0.219" stop-color="#0000cf"/><stop offset="0.252" stop-color="#0000cc"/><stop offset="0.766" stop-color="#0000cd"/><stop offset="0.827" stop-color="#0000d9"/><stop offset="0.946" stop-color="#0000fe"/><stop offset="1" stop-color="#0006ff"/></linearGradient>
<linearGradient id="d19" gradientUnits="userSpaceOnUse" x1="0" x2="0" y1="877.8" y2="1156.0"><stop offset="0" stop-color="#002cff"/><stop offset="0.047" stop-color="#0022ff"/><stop offset="0.112" stop-color="#0000ff"/><stop offset="0.187" stop-color="#0000da"/><stop offset="0.23" stop-color="#0000cf"/><stop offset="0.259" stop-color="#0000cc"/><stop offset="0.755" stop-color="#0000cc"/><stop offset="0.82" stop-color="#0000da"/><stop offset="0.914" stop-color="#0000ff"/><stop offset="0.968" stop-color="#0012ff"/><stop offset="1" stop-color="#0016ff"/></linearGradient>
<linearGradient id="d20" gradientUnits="userSpaceOnUse" x1="0" x2="0" y1="877.8" y2="1156.0"><stop offset="0" stop-color="#0045ff"/><stop offset="0.025" stop-color="#0041ff"/><stop offset="0.054" stop-color="#0036ff"/><stop offset="0.133" stop-color="#0000fd"/><stop offset="0.198" stop-color="#0000da"/><stop offset="0.255" stop-color="#0000cd"/><stop offset="0.741" stop-color="#0000cc"/><stop offset="0.77" stop-color="#0000cf"/><stop offset="0.809" stop-color="#0000da"/><stop offset="0.888" stop-color="#0000ff"/><stop offset="0.957" stop-color="#0025ff"/><stop offset="1" stop-color="#002fff"/></linearGradient>
<linearGradient id="d21" gradientUnits="userSpaceOnUse" x1="0" x2="0" y1="877.8" y2="1156.0"><stop offset="0" stop-color="#0060ff"/><stop offset="0.029" stop-color="#005cff"/><stop offset="0.061" stop-color="#004cff"/><stop offset="0.147" stop-color="#0000fe"/><stop offset="0.183" stop-color="#0000e6"/><stop offset="0.209" stop-color="#0000d9"/><stop offset="0.245" stop-color="#0000cf"/><stop offset="0.273" stop-color="#0000cc"/><stop offset="0.745" stop-color="#0000cd"/><stop offset="0.799" stop-color="#0000d9"/><stop offset="0.867" stop-color="#0000fd"/><stop offset="0.888" stop-color="#000dff"/><stop offset="0.932" stop-color="#0031ff"/><stop offset="0.953" stop-color="#003fff"/><stop offset="0.978" stop-color="#004aff"/><stop offset="1" stop-color="#004dff"/></linearGradient>
<linearGradient id="d22" gradientUnits="userSpaceOnUse" x1="0" x2="0" y1="877.8" y2="1156.0"><stop offset="0" stop-color="#007dff"/><stop offset="0.036" stop-color="#0076ff"/><stop offset="0.068" stop-color="#0062ff"/><stop offset="0.097" stop-color="#0047ff"/><stop offset="0.144" stop-color="#000fff"/><stop offset="0.162" stop-color="#0000fd"/><stop offset="0.191" stop-color="#0000e8"/><stop offset="0.216" stop-color="#0000da"/><stop offset="0.27" stop-color="#0000cc"/><stop offset="0.727" stop-color="#0000cc"/><stop offset="0.755" stop-color="#0000cf"/><stop offset="0.791" stop-color="#0000da"/><stop offset="0.853" stop-color="#0000fe"/><stop offset="0.871" stop-color="#000eff"/><stop offset="0.917" stop-color="#0041ff"/><stop offset="0.942" stop-color="#0058ff"/><stop offset="0.971" stop-color="#0067ff"/><stop offset="1" stop-color="#006cff"/></linearGradient>
<linearGradient id="d23" gradientUnits="userSpaceOnUse" x1="0" x2="0" y1="877.8" y2="1156.0"><stop offset="0" stop-color="#009bff"/><stop offset="0.036" stop-color="#0093ff"/><stop offset="0.076" stop-color="#0079ff"/><stop offset="0.101" stop-color="#005eff"/><stop offset="0.158" stop-color="#000eff"/><stop offset="0.173" stop-color="#0000fe"/><stop offset="0.201" stop-color="#0000e7"/><stop offset="0.223" stop-color="#0000da"/><stop offset="0.259" stop-color="#0000cf"/><stop offset="0.284" stop-color="#0000cc"/><stop offset="0.73" stop-color="#0000cc"/><stop offset="0.784" stop-color="#0000da"/><stop offset="0.838" stop-color="#0000fd"/><stop offset="0.856" stop-color="#000fff"/><stop offset="0.903" stop-color="#004fff"/><stop offset="0.932" stop-color="#006eff"/><stop offset="0.964" stop-color="#0082ff"/><stop offset="1" stop-color="#0089ff"/></linearGradient>
<linearGradient id="d24" gradientUnits="userSpaceOnUse" x1="0" x2="0" y1="877.8" y2="1156.0"><stop offset="0" stop-color="#00bdff"/><stop offset="0.018" stop-color="#00bbff"/><stop offset="0.04" stop-color="#00b2ff"/><stop offset="0.079" stop-color="#0093ff"/><stop offset="0.112" stop-color="#006cff"/><stop offset="0.162" stop-color="#001aff"/><stop offset="0.183" stop-color="#0000fe"/><stop offset="0.209" stop-color="#0000e8"/><stop offset="0.23" stop-color="#0000da"/><stop offset="0.281" stop-color="#0000cd"/><stop offset="0.716" stop-color="#0000cc"/><stop offset="0.745" stop-color="#0000d0"/><stop offset="0.777" stop-color="#0000da"/><stop offset="0.827" stop-color="#0000fe"/><stop offset="0.842" stop-color="#000eff"/><stop offset="0.892" stop-color="#0060ff"/><stop offset="0.917" stop-color="#007eff"/><stop offset="0.939" stop-color="#0090ff"/><stop offset="0.96" stop-color="#009dff"/><stop offset="1" stop-color="#00a6ff"/></linearGradient>
<linearGradient id="d25" gradientUnits="userSpaceOnUse" x1="0" x2="0" y1="877.8" y2="1156.0"><stop offset="0" stop-color="#00e1ff"/><stop offset="0.022" stop-color="#00deff"/><stop offset="0.04" stop-color="#00d5ff"/><stop offset="0.058" stop-color="#00c8ff"/><stop offset="0.079" stop-color="#00b3ff"/><stop offset="0.119" stop-color="#007eff"/><stop offset="0.137" stop-color="#0060ff"/><stop offset="0.173" stop-color="#001bff"/><stop offset="0.187" stop-color="#0005ff"/><stop offset="0.194" stop-color="#0000fc"/><stop offset="0.216" stop-color="#0000e8"/><stop offset="0.237" stop-color="#0000da"/><stop offset="0.288" stop-color="#0000cc"/><stop offset="0.712" stop-color="#0000cc"/><stop offset="0.737" stop-color="#0000cf"/><stop offset="0.77" stop-color="#0000da"/><stop offset="0.791" stop-color="#0000e8"/><stop offset="0.817" stop-color="#0000fe"/><stop offset="0.827" stop-color="#000bff"/><stop offset="0.838" stop-color="#001cff"/><stop offset="0.881" stop-color="#006dff"/><stop offset="0.91" stop-color="#0093ff"/><stop offset="0.932" stop-color="#00a7ff"/><stop offset="0.953" stop-color="#00b6ff"/><stop offset="0.975" stop-color="#00bfff"/><stop offset="1" stop-color="#00c3ff"/></linearGradient>
<linearGradient id="d26" gradientUnits="userSpaceOnUse" x1="0" x2="0" y1="877.8" y2="1156.0"><stop offset="0" stop-color="#05fffa"/><stop offset="0.025" stop-color="#01fffe"/><stop offset="0.036" stop-color="#00fbff"/><stop offset="0.058" stop-color="#00ecff"/><stop offset="0.083" stop-color="#00d1ff"/><stop offset="0.104" stop-color="#00b2ff"/><stop offset="0.133" stop-color="#0082ff"/><stop offset="0.151" stop-color="#005fff"/><stop offset="0.183" stop-color="#0019ff"/><stop offset="0.194" stop-color="#0007ff"/><stop offset="0.201" stop-color="#0000fd"/><stop offset="0.223" stop-color="#0000e8"/><stop offset="0.241" stop-color="#0000db"/><stop offset="0.291" stop-color="#0000cc"/><stop offset="0.705" stop-color="#0000cc"/><stop offset="0.734" stop-color="#0000cf"/><stop offset="0.763" stop-color="#0000d9"/><stop offset="0.784" stop-color="#0000e8"/><stop offset="0.809" stop-color="#0001ff"/><stop offset="0.827" stop-color="#001cff"/><stop offset="0.871" stop-color="#0077ff"/><stop offset="0.906" stop-color="#00aaff"/><stop offset="0.928" stop-color="#00c1ff"/><stop offset="0.953" stop-color="#00d3ff"/><stop offset="0.978" stop-color="#00deff"/><stop offset="1" stop-color="#00e1ff"/></linearGradient>
<linearGradient id="d27" gradientUnits="userSpaceOnUse" x1="0" x2="0" y1="877.8" y2="1156.0"><stop offset="0" stop-color="#28ffd7"/><stop offset="0.032" stop-color="#20ffdf"/><stop offset="0.054" stop-color="#12ffed"/><stop offset="0.072" stop-color="#01fffe"/><stop offset="0.079" stop-color="#00f7ff"/><stop offset="0.101" stop-color="#00d9ff"/><stop offset="0.126" stop-color="#00acff"/><stop offset="0.155" stop-color="#0072ff"/><stop offset="0.191" stop-color="#001cff"/><stop offset="0.198" stop-color="#000eff"/><stop offset="0.209" stop-color="#0000fe"/><stop offset="0.23" stop-color="#0000e7"/><stop offset="0.248" stop-color="#0000da"/><stop offset="0.281" stop-color="#0000cf"/><stop offset="0.306" stop-color="#0000cc"/><stop offset="0.712" stop-color="#0000cd"/><stop offset="0.759" stop-color="#0000da"/><stop offset="0.777" stop-color="#0000e7"/><stop offset="0.799" stop-color="#0000fd"/><stop offset="0.806" stop-color="#0007ff"/><stop offset="0.817" stop-color="#001aff"/><stop offset="0.845" stop-color="#0060ff"/><stop offset="0.86" stop-color="#007fff"/><stop offset="0.881" stop-color="#00a4ff"/><stop offset="0.903" stop-color="#00c3ff"/><stop offset="0.928" stop-color="#00dfff"/><stop offset="0.957" stop-color="#00f5ff"/><stop offset="0.978" stop-color="#00ffff"/><stop offset="1" stop-color="#04fffb"/></linearGradient>
<linearGradient id="d28" gradientUnits="userSpaceOnUse" x1="0" x2="0" y1="877.8" y2="1156.0"><stop offset="0" stop-color="#4affb5"/><stop offset="0.025" stop-color="#45ffba"/><stop offset="0.047" stop-color="#39ffc6"/><stop offset="0.072" stop-color="#21ffde"/><stop offset="0.097" stop-color="#00ffff"/><stop offset="0.115" stop-color="#00e1ff"/><stop offset="0.133" stop-color="#00bcff"/><stop offset="0.165" stop-color="#0073ff"/><stop offset="0.198" stop-color="#001eff"/><stop offset="0.209" stop-color="#0008ff"/><stop offset="0.216" stop-color="#0000fd"/><stop offset="0.234" stop-color="#0000e9"/><stop offset="0.252" stop-color="#0000db"/><stop offset="0.299" stop-color="#0000cd"/><stop offset="0.698" stop-color="#0000cc"/><stop offset="0.723" stop-color="#0000cf"/><stop offset="0.752" stop-color="#0000d9"/><stop offset="0.77" stop-color="#0000e6"/><stop offset="0.791" stop-color="#0000fd"/><stop offset="0.795" stop-color="#0003ff"/><stop offset="0.806" stop-color="#0016ff"/><stop offset="0.838" stop-color="#006bff"/><stop offset="0.86" stop-color="#0099ff"/><stop offset="0.888" stop-color="#00cbff"/><stop offset="0.914" stop-color="#00eeff"/><stop offset="0.928" stop-color="#00ffff"/><stop offset="0.964" stop-color="#1effe1"/><stop offset="0.982" stop-color="#26ffd9"/><stop offset="1" stop-color="#28ffd7"/></linearGradient>
<linearGradient id="d29" gradientUnits="userSpaceOnUse" x1="0" x2="0" y1="877.8" y2="1156.0"><stop offset="0" stop-color="#6dff92"/><stop offset="0.029" stop-color="#66ff99"/><stop offset="0.058" stop-color="#51ffae"/><stop offset="0.086" stop-color="#2fffd0"/><stop offset="0.115" stop-color="#01fffe"/><stop offset="0.133" stop-color="#00dbff"/><stop offset="0.158" stop-color="#009eff"/><stop offset="0.176" stop-color="#0071ff"/><stop offset="0.209" stop-color="#0015ff"/><stop offset="0.219" stop-color="#0001ff"/><stop offset="0.223" stop-color="#0000fc"/><stop offset="0.241" stop-color="#0000e7"/><stop offset="0.259" stop-color="#0000da"/><stop offset="0.302" stop-color="#0000cd"/><stop offset="0.694" stop-color="#0000cc"/><stop offset="0.719" stop-color="#0000cf"/><stop offset="0.748" stop-color="#0000d9"/><stop offset="0.766" stop-color="#0000e7"/><stop offset="0.784" stop-color="#0000fd"/><stop offset="0.788" stop-color="#0002ff"/><stop offset="0.799" stop-color="#0017ff"/><stop offset="0.831" stop-color="#0073ff"/><stop offset="0.849" stop-color="#009dff"/><stop offset="0.874" stop-color="#00cfff"/><stop offset="0.903" stop-color="#00ffff"/><stop offset="0.928" stop-color="#22ffdd"/><stop offset="0.953" stop-color="#3cffc3"/><stop offset="0.978" stop-color="#4bffb4"/><stop offset="1" stop-color="#50ffaf"/></linearGradient>
<linearGradient id="d30" gradientUnits="userSpaceOnUse" x1="0" x2="0" y1="877.8" y2="1156.0"><stop offset="0" stop-color="#92ff6d"/><stop offset="0.029" stop-color="#8aff75"/><stop offset="0.061" stop-color="#6fff90"/><stop offset="0.097" stop-color="#3dffc2"/><stop offset="0.129" stop-color="#01fffe"/><stop offset="0.147" stop-color="#00d6ff"/><stop offset="0.18" stop-color="#007fff"/><stop offset="0.212" stop-color="#001cff"/><stop offset="0.219" stop-color="#000bff"/><stop offset="0.227" stop-color="#0000fe"/><stop offset="0.241" stop-color="#0000ec"/><stop offset="0.259" stop-color="#0000dc"/><stop offset="0.306" stop-color="#0000cd"/><stop offset="0.691" stop-color="#0000cc"/><stop offset="0.716" stop-color="#0000cf"/><stop offset="0.745" stop-color="#0000d9"/><stop offset="0.759" stop-color="#0000e5"/><stop offset="0.781" stop-color="#0001ff"/><stop offset="0.788" stop-color="#000dff"/><stop offset="0.795" stop-color="#001fff"/><stop offset="0.82" stop-color="#006eff"/><stop offset="0.838" stop-color="#009dff"/><stop offset="0.863" stop-color="#00d6ff"/><stop offset="0.885" stop-color="#02fffd"/><stop offset="0.921" stop-color="#3cffc3"/><stop offset="0.95" stop-color="#60ff9f"/><stop offset="0.975" stop-color="#73ff8c"/><stop offset="1" stop-color="#79ff86"/></linearGradient>
<linearGradient id="d31" gradientUnits="userSpaceOnUse" x1="0" x2="0" y1="877.8" y2="1156.0"><stop offset="0" stop-color="#b5ff4a"/><stop offset="0.032" stop-color="#abff54"/><stop offset="0.047" stop-color="#a0ff5f"/><stop offset="0.065" stop-color="#8dff72"/><stop offset="0.083" stop-color="#73ff8c"/><stop offset="0.104" stop-color="#4effb1"/><stop offset="0.14" stop-color="#04fffb"/><stop offset="0.144" stop-color="#00fbff"/><stop offset="0.165" stop-color="#00c0ff"/><stop offset="0.191" stop-color="#0076ff"/><stop offset="0.219" stop-color="#0017ff"/><stop offset="0.23" stop-color="#0001ff"/><stop offset="0.234" stop-color="#0000fb"/><stop offset="0.252" stop-color="#0000e6"/><stop offset="0.266" stop-color="#0000da"/><stop offset="0.309" stop-color="#0000cd"/><stop offset="0.691" stop-color="#0000cc"/><stop offset="0.716" stop-color="#0000d0"/><stop offset="0.741" stop-color="#0000d9"/><stop offset="0.755" stop-color="#0000e6"/><stop offset="0.773" stop-color="#0000fd"/><stop offset="0.781" stop-color="#000bff"/><stop offset="0.788" stop-color="#001cff"/><stop offset="0.813" stop-color="#0070ff"/><stop offset="0.835" stop-color="#00acff"/><stop offset="0.856" stop-color="#00e1ff"/><stop offset="0.871" stop-color="#03fffc"/><stop offset="0.91" stop-color="#4fffb0"/><stop offset="0.942" stop-color="#7fff80"/><stop offset="0.971" stop-color="#99ff66"/><stop offset="1" stop-color="#a2ff5d"/></linearGradient>
<linearGradient id="d32" gradientUnits="userSpaceOnUse" x1="0" x2="0" y1="877.8" y2="1156.0"><stop offset="0" stop-color="#daff25"/><stop offset="0.018" stop-color="#d7ff28"/><stop offset="0.036" stop-color="#ccff33"/><stop offset="0.054" stop-color="#bcff43"/><stop offset="0.072" stop-color="#a5ff5a"/><stop offset="0.086" stop-color="#8eff71"/><stop offset="0.108" stop-color="#64ff9b"/><stop offset="0.133" stop-color="#2fffd0"/><stop offset="0.151" stop-color="#03fffc"/><stop offset="0.155" stop-color="#00f8ff"/><stop offset="0.165" stop-color="#00daff"/><stop offset="0.194" stop-color="#0080ff"/><stop offset="0.223" stop-color="#001bff"/><stop offset="0.234" stop-color="#0002ff"/><stop offset="0.237" stop-color="#0000fc"/><stop offset="0.255" stop-color="#0000e6"/><stop offset="0.27" stop-color="#0000da"/><stop offset="0.313" stop-color="#0000cc"/><stop offset="0.687" stop-color="#0000cc"/><stop offset="0.712" stop-color="#0000d0"/><stop offset="0.737" stop-color="#0000d9"/><stop offset="0.752" stop-color="#0000e6"/><stop offset="0.77" stop-color="#0000ff"/><stop offset="0.781" stop-color="#0017ff"/><stop offset="0.813" stop-color="#0086ff"/><stop offset="0.838" stop-color="#00ceff"/><stop offset="0.856" stop-color="#00fcff"/><stop offset="0.903" stop-color="#64ff9b"/><stop offset="0.935" stop-color="#9cff63"/><stop offset="0.95" stop-color="#afff50"/><stop offset="0.968" stop-color="#bfff40"/><stop offset="0.986" stop-color="#c9ff36"/><stop offset="1" stop-color="#ccff33"/></linearGradient>
<linearGradient id="d33" gradientUnits="userSpaceOnUse" x1="0" x2="0" y1="877.8" y2="1156.0"><stop offset="0" stop-color="#ffef00"/><stop offset="0.014" stop-color="#fff300"/><stop offset="0.029" stop-color="#ffff00"/><stop offset="0.047" stop-color="#ebff14"/><stop offset="0.068" stop-color="#ccff33"/><stop offset="0.101" stop-color="#92ff6d"/><stop offset="0.137" stop-color="#3effc1"/><stop offset="0.158" stop-color="#07fff8"/><stop offset="0.162" stop-color="#00fcff"/><stop offset="0.201" stop-color="#007bff"/><stop offset="0.227" stop-color="#001dff"/><stop offset="0.234" stop-color="#000aff"/><stop offset="0.241" stop-color="#0000fc"/><stop offset="0.259" stop-color="#0000e5"/><stop offset="0.273" stop-color="#0000da"/><stop offset="0.302" stop-color="#0000cf"/><stop offset="0.324" stop-color="#0000cc"/><stop offset="0.694" stop-color="#0000cd"/><stop offset="0.734" stop-color="#0000d9"/><stop offset="0.748" stop-color="#0000e6"/><stop offset="0.763" stop-color="#0000fa"/><stop offset="0.766" stop-color="#0001ff"/><stop offset="0.777" stop-color="#001aff"/><stop offset="0.809" stop-color="#008eff"/><stop offset="0.838" stop-color="#00e6ff"/><stop offset="0.845" stop-color="#00faff"/><stop offset="0.849" stop-color="#05fffa"/><stop offset="0.899" stop-color="#7eff81"/><stop offset="0.932" stop-color="#bdff42"/><stop offset="0.953" stop-color="#dcff23"/><stop offset="0.971" stop-color="#f0ff0f"/><stop offset="0.986" stop-color="#fbff04"/><stop offset="1" stop-color="#ffff00"/></linearGradient>
<linearGradient id="d34" gradientUnits="userSpaceOnUse" x1="0" x2="0" y1="877.8" y2="1156.0"><stop offset="0" stop-color="#ff9d00"/><stop offset="0.011" stop-color="#ffa100"/><stop offset="0.025" stop-color="#ffb000"/><stop offset="0.04" stop-color="#ffc900"/><stop offset="0.065" stop-color="#fdff02"/><stop offset="0.108" stop-color="#9fff60"/><stop offset="0.165" stop-color="#07fff8"/><stop offset="0.169" stop-color="#00fcff"/><stop offset="0.205" stop-color="#0081ff"/><stop offset="0.23" stop-color="#001eff"/><stop offset="0.237" stop-color="#000aff"/><stop offset="0.245" stop-color="#0000fc"/><stop offset="0.259" stop-color="#0000e9"/><stop offset="0.273" stop-color="#0000dc"/><stop offset="0.317" stop-color="#0000cd"/><stop offset="0.683" stop-color="#0000cc"/><stop offset="0.709" stop-color="#0000d0"/><stop offset="0.734" stop-color="#0000db"/><stop offset="0.748" stop-color="#0000e9"/><stop offset="0.763" stop-color="#0001ff"/><stop offset="0.773" stop-color="#001cff"/><stop offset="0.799" stop-color="#007dff"/><stop offset="0.82" stop-color="#00c5ff"/><stop offset="0.838" stop-color="#00fdff"/><stop offset="0.899" stop-color="#9fff60"/><stop offset="0.942" stop-color="#fdff02"/><stop offset="0.975" stop-color="#ffc400"/><stop offset="0.989" stop-color="#ffb500"/><stop offset="1" stop-color="#ffb200"/></linearGradient>
<linearGradient id="d35" gradientUnits="userSpaceOnUse" x1="0" x2="0" y1="877.8" y2="1156.0"><stop offset="0" stop-color="#ff3000"/><stop offset="0.014" stop-color="#ff3900"/><stop offset="0.029" stop-color="#ff5500"/><stop offset="0.047" stop-color="#ff8800"/><stop offset="0.083" stop-color="#fffe00"/><stop offset="0.119" stop-color="#9eff61"/><stop offset="0.173" stop-color="#04fffb"/><stop offset="0.176" stop-color="#00f8ff"/><stop offset="0.209" stop-color="#0083ff"/><stop offset="0.234" stop-color="#001dff"/><stop offset="0.241" stop-color="#0009ff"/><stop offset="0.245" stop-color="#0001ff"/><stop offset="0.248" stop-color="#0000fa"/><stop offset="0.263" stop-color="#0000e7"/><stop offset="0.277" stop-color="#0000db"/><stop offset="0.32" stop-color="#0000cc"/><stop offset="0.68" stop-color="#0000cc"/><stop offset="0.705" stop-color="#0000cf"/><stop offset="0.73" stop-color="#0000d9"/><stop offset="0.745" stop-color="#0000e8"/><stop offset="0.759" stop-color="#0000ff"/><stop offset="0.77" stop-color="#001bff"/><stop offset="0.795" stop-color="#0080ff"/><stop offset="0.831" stop-color="#00fcff"/><stop offset="0.835" stop-color="#08fff7"/><stop offset="0.881" stop-color="#8eff71"/><stop offset="0.921" stop-color="#faff05"/><stop offset="0.924" stop-color="#fff900"/><stop offset="0.95" stop-color="#ffa700"/><stop offset="0.964" stop-color="#ff8100"/><stop offset="0.982" stop-color="#ff6100"/><stop offset="0.993" stop-color="#ff5700"/><stop offset="1" stop-color="#ff5500"/></linearGradient>
<linearGradient id="d36" gradientUnits="userSpaceOnUse" x1="0" x2="0" y1="877.8" y2="1156.0"><stop offset="0" stop-color="#d40000"/><stop offset="0.011" stop-color="#d70000"/><stop offset="0.018" stop-color="#de0000"/><stop offset="0.025" stop-color="#e80000"/><stop offset="0.036" stop-color="#fe0000"/><stop offset="0.04" stop-color="#ff0900"/><stop offset="0.047" stop-color="#ff2400"/><stop offset="0.065" stop-color="#ff7a00"/><stop offset="0.079" stop-color="#ffba00"/><stop offset="0.097" stop-color="#fdff02"/><stop offset="0.14" stop-color="#74ff8b"/><stop offset="0.176" stop-color="#09fff6"/><stop offset="0.18" stop-color="#00fcff"/><stop offset="0.212" stop-color="#0084ff"/><stop offset="0.237" stop-color="#001aff"/><stop offset="0.248" stop-color="#0000fe"/><stop offset="0.263" stop-color="#0000ea"/><stop offset="0.281" stop-color="#0000da"/><stop offset="0.306" stop-color="#0000cf"/><stop offset="0.327" stop-color="#0000cc"/><stop offset="0.691" stop-color="#0000cd"/><stop offset="0.73" stop-color="#0000db"/><stop offset="0.741" stop-color="#0000e6"/><stop offset="0.755" stop-color="#0000fd"/><stop offset="0.759" stop-color="#0005ff"/><stop offset="0.766" stop-color="#0019ff"/><stop offset="0.791" stop-color="#0081ff"/><stop offset="0.824" stop-color="#00f7ff"/><stop offset="0.827" stop-color="#04fffb"/><stop offset="0.892" stop-color="#c8ff37"/><stop offset="0.906" stop-color="#f7ff08"/><stop offset="0.91" stop-color="#fff900"/><stop offset="0.946" stop-color="#ff6200"/><stop offset="0.957" stop-color="#ff3a00"/><stop offset="0.964" stop-color="#ff2500"/><stop offset="0.975" stop-color="#ff0f00"/><stop offset="0.982" stop-color="#ff0600"/><stop offset="0.989" stop-color="#ff0000"/><stop offset="1" stop-color="#fc0000"/></linearGradient>
<linearGradient id="d37" gradientUnits="userSpaceOnUse" x1="0" x2="0" y1="877.8" y2="1156.0"><stop offset="0" stop-color="#ba0000"/><stop offset="0.032" stop-color="#ba0000"/><stop offset="0.036" stop-color="#be0000"/><stop offset="0.047" stop-color="#d70000"/><stop offset="0.058" stop-color="#fd0000"/><stop offset="0.061" stop-color="#ff0f00"/><stop offset="0.065" stop-color="#ff2300"/><stop offset="0.076" stop-color="#ff6700"/><stop offset="0.086" stop-color="#ffa300"/><stop offset="0.104" stop-color="#fff600"/><stop offset="0.108" stop-color="#f9ff06"/><stop offset="0.144" stop-color="#7bff84"/><stop offset="0.183" stop-color="#00fdff"/><stop offset="0.216" stop-color="#0081ff"/><stop offset="0.237" stop-color="#0022ff"/><stop offset="0.245" stop-color="#000bff"/><stop offset="0.248" stop-color="#0003ff"/><stop offset="0.252" stop-color="#0000fc"/><stop offset="0.266" stop-color="#0000e8"/><stop offset="0.284" stop-color="#0000d9"/><stop offset="0.309" stop-color="#0000cf"/><stop offset="0.331" stop-color="#0000cc"/><stop offset="0.687" stop-color="#0000cd"/><stop offset="0.727" stop-color="#0000d9"/><stop offset="0.737" stop-color="#0000e4"/><stop offset="0.752" stop-color="#0000fa"/><stop offset="0.755" stop-color="#0002ff"/><stop offset="0.759" stop-color="#000bff"/><stop offset="0.766" stop-color="#0022ff"/><stop offset="0.788" stop-color="#007fff"/><stop offset="0.82" stop-color="#00faff"/><stop offset="0.824" stop-color="#07fff8"/><stop offset="0.856" stop-color="#6dff92"/><stop offset="0.885" stop-color="#ccff33"/><stop offset="0.896" stop-color="#f4ff0b"/><stop offset="0.899" stop-color="#fffb00"/><stop offset="0.906" stop-color="#ffd900"/><stop offset="0.939" stop-color="#ff3000"/><stop offset="0.95" stop-color="#ff0600"/><stop offset="0.953" stop-color="#fb0000"/><stop offset="0.964" stop-color="#e50000"/><stop offset="0.975" stop-color="#d60000"/><stop offset="0.986" stop-color="#ce0000"/><stop offset="1" stop-color="#cb0000"/></linearGradient>
<linearGradient id="d38" gradientUnits="userSpaceOnUse" x1="0" x2="0" y1="877.8" y2="1156.0"><stop offset="0" stop-color="#ba0000"/><stop offset="0.054" stop-color="#bc0000"/><stop offset="0.061" stop-color="#d40000"/><stop offset="0.068" stop-color="#f40000"/><stop offset="0.072" stop-color="#ff0800"/><stop offset="0.076" stop-color="#ff1f00"/><stop offset="0.086" stop-color="#ff6e00"/><stop offset="0.094" stop-color="#ff9a00"/><stop offset="0.112" stop-color="#fff600"/><stop offset="0.115" stop-color="#f8ff07"/><stop offset="0.129" stop-color="#bfff40"/><stop offset="0.151" stop-color="#71ff8e"/><stop offset="0.183" stop-color="#09fff6"/><stop offset="0.187" stop-color="#00fbff"/><stop offset="0.219" stop-color="#007cff"/><stop offset="0.241" stop-color="#001bff"/><stop offset="0.245" stop-color="#000fff"/><stop offset="0.252" stop-color="#0000fe"/><stop offset="0.266" stop-color="#0000e9"/><stop offset="0.284" stop-color="#0000d9"/><stop offset="0.309" stop-color="#0000cf"/><stop offset="0.331" stop-color="#0000cc"/><stop offset="0.687" stop-color="#0000cd"/><stop offset="0.727" stop-color="#0000da"/><stop offset="0.737" stop-color="#0000e6"/><stop offset="0.752" stop-color="#0000fe"/><stop offset="0.755" stop-color="#0006ff"/><stop offset="0.763" stop-color="#001bff"/><stop offset="0.784" stop-color="#007aff"/><stop offset="0.817" stop-color="#00f9ff"/><stop offset="0.82" stop-color="#07fff8"/><stop offset="0.853" stop-color="#70ff8f"/><stop offset="0.878" stop-color="#c9ff36"/><stop offset="0.888" stop-color="#f3ff0c"/><stop offset="0.892" stop-color="#fffa00"/><stop offset="0.903" stop-color="#ffbf00"/><stop offset="0.928" stop-color="#ff2600"/><stop offset="0.935" stop-color="#ff0300"/><stop offset="0.95" stop-color="#d50000"/><stop offset="0.957" stop-color="#c70000"/><stop offset="0.964" stop-color="#bd0000"/><stop offset="0.968" stop-color="#ba0000"/><stop offset="1" stop-color="#ba0000"/></linearGradient>
<linearGradient id="d39" gradientUnits="userSpaceOnUse" x1="0" x2="0" y1="877.8" y2="1156.0"><stop offset="0" stop-color="#ba0000"/><stop offset="0.061" stop-color="#ba0000"/><stop offset="0.065" stop-color="#be0000"/><stop offset="0.068" stop-color="#cb0000"/><stop offset="0.076" stop-color="#ef0000"/><stop offset="0.079" stop-color="#ff0400"/><stop offset="0.083" stop-color="#ff1d00"/><stop offset="0.094" stop-color="#ff7300"/><stop offset="0.097" stop-color="#ff8b00"/><stop offset="0.108" stop-color="#ffca00"/><stop offset="0.119" stop-color="#feff01"/><stop offset="0.133" stop-color="#c0ff3f"/><stop offset="0.151" stop-color="#7bff84"/><stop offset="0.187" stop-color="#04fffb"/><stop offset="0.194" stop-color="#00e9ff"/><stop offset="0.219" stop-color="#0083ff"/><stop offset="0.241" stop-color="#0020ff"/><stop offset="0.248" stop-color="#0009ff"/><stop offset="0.252" stop-color="#0001ff"/><stop offset="0.255" stop-color="#0000fa"/><stop offset="0.27" stop-color="#0000e6"/><stop offset="0.284" stop-color="#0000da"/><stop offset="0.324" stop-color="#0000cd"/><stop offset="0.676" stop-color="#0000cc"/><stop offset="0.701" stop-color="#0000d0"/><stop offset="0.723" stop-color="#0000d8"/><stop offset="0.737" stop-color="#0000e7"/><stop offset="0.752" stop-color="#0001ff"/><stop offset="0.763" stop-color="#0021ff"/><stop offset="0.784" stop-color="#0081ff"/><stop offset="0.813" stop-color="#00f5ff"/><stop offset="0.817" stop-color="#03fffc"/><stop offset="0.849" stop-color="#6fff90"/><stop offset="0.874" stop-color="#cbff34"/><stop offset="0.885" stop-color="#faff05"/><stop offset="0.888" stop-color="#fff200"/><stop offset="0.899" stop-color="#ffb100"/><stop offset="0.921" stop-color="#ff2000"/><stop offset="0.924" stop-color="#ff0a00"/><stop offset="0.928" stop-color="#f80000"/><stop offset="0.939" stop-color="#ce0000"/><stop offset="0.946" stop-color="#bd0000"/><stop offset="0.95" stop-color="#ba0000"/><stop offset="1" stop-color="#ba0000"/></linearGradient>
<linearGradient id="d40" gradientUnits="userSpaceOnUse" x1="0" x2="0" y1="877.8" y2="1156.0"><stop offset="0" stop-color="#ba0000"/><stop offset="0.068" stop-color="#ba0000"/><stop offset="0.072" stop-color="#c30000"/><stop offset="0.076" stop-color="#d40000"/><stop offset="0.083" stop-color="#fd0000"/><stop offset="0.086" stop-color="#ff1700"/><stop offset="0.097" stop-color="#ff7200"/><stop offset="0.101" stop-color="#ff8b00"/><stop offset="0.112" stop-color="#ffcb00"/><stop offset="0.119" stop-color="#fff100"/><stop offset="0.122" stop-color="#fbff04"/><stop offset="0.137" stop-color="#bbff44"/><stop offset="0.155" stop-color="#75ff8a"/><stop offset="0.187" stop-color="#09fff6"/><stop offset="0.191" stop-color="#00fbff"/><stop offset="0.223" stop-color="#0078ff"/><stop offset="0.241" stop-color="#0023ff"/><stop offset="0.248" stop-color="#000bff"/><stop offset="0.252" stop-color="#0003ff"/><stop offset="0.255" stop-color="#0000fb"/><stop offset="0.27" stop-color="#0000e7"/><stop offset="0.284" stop-color="#0000da"/><stop offset="0.309" stop-color="#0000d0"/><stop offset="0.331" stop-color="#0000cc"/><stop offset="0.687" stop-color="#0000cd"/><stop offset="0.709" stop-color="#0000d2"/><stop offset="0.727" stop-color="#0000db"/><stop offset="0.737" stop-color="#0000e8"/><stop offset="0.748" stop-color="#0000fa"/><stop offset="0.752" stop-color="#0003ff"/><stop offset="0.755" stop-color="#000bff"/><stop offset="0.763" stop-color="#0024ff"/><stop offset="0.781" stop-color="#0076ff"/><stop offset="0.813" stop-color="#00fbff"/><stop offset="0.817" stop-color="#09fff6"/><stop offset="0.849" stop-color="#76ff89"/><stop offset="0.871" stop-color="#c8ff37"/><stop offset="0.881" stop-color="#f7ff08"/><stop offset="0.885" stop-color="#fff400"/><stop offset="0.896" stop-color="#ffb100"/><stop offset="0.917" stop-color="#ff1700"/><stop offset="0.921" stop-color="#ff0200"/><stop offset="0.932" stop-color="#ce0000"/><stop offset="0.939" stop-color="#ba0000"/><stop offset="1" stop-color="#ba0000"/></linearGradient>
<linearGradient id="d41" gradientUnits="userSpaceOnUse" x1="0" x2="0" y1="877.8" y2="1156.0"><stop offset="0" stop-color="#ba0000"/><stop offset="0.072" stop-color="#ba0000"/><stop offset="0.076" stop-color="#c90000"/><stop offset="0.083" stop-color="#f10000"/><stop offset="0.086" stop-color="#ff0900"/><stop offset="0.097" stop-color="#ff6500"/><stop offset="0.101" stop-color="#ff8000"/><stop offset="0.108" stop-color="#ffaf00"/><stop offset="0.122" stop-color="#fffd00"/><stop offset="0.126" stop-color="#f0ff0f"/><stop offset="0.14" stop-color="#b1ff4e"/><stop offset="0.155" stop-color="#78ff87"/><stop offset="0.191" stop-color="#00feff"/><stop offset="0.223" stop-color="#007aff"/><stop offset="0.241" stop-color="#0025ff"/><stop offset="0.248" stop-color="#000cff"/><stop offset="0.252" stop-color="#0003ff"/><stop offset="0.255" stop-color="#0000fc"/><stop offset="0.27" stop-color="#0000e7"/><stop offset="0.284" stop-color="#0000da"/><stop offset="0.309" stop-color="#0000d0"/><stop offset="0.331" stop-color="#0000cc"/><stop offset="0.687" stop-color="#0000cd"/><stop offset="0.723" stop-color="#0000d9"/><stop offset="0.734" stop-color="#0000e3"/><stop offset="0.748" stop-color="#0000fb"/><stop offset="0.752" stop-color="#0003ff"/><stop offset="0.755" stop-color="#000cff"/><stop offset="0.763" stop-color="#0026ff"/><stop offset="0.781" stop-color="#0078ff"/><stop offset="0.813" stop-color="#00feff"/><stop offset="0.853" stop-color="#87ff78"/><stop offset="0.871" stop-color="#ccff33"/><stop offset="0.881" stop-color="#feff01"/><stop offset="0.885" stop-color="#ffed00"/><stop offset="0.892" stop-color="#ffbf00"/><stop offset="0.917" stop-color="#ff0a00"/><stop offset="0.921" stop-color="#f50000"/><stop offset="0.928" stop-color="#d10000"/><stop offset="0.932" stop-color="#c30000"/><stop offset="0.935" stop-color="#ba0000"/><stop offset="1" stop-color="#ba0000"/></linearGradient>
<linearGradient id="d42" gradientUnits="userSpaceOnUse" x1="0" x2="0" y1="877.8" y2="1156.0"><stop offset="0" stop-color="#ba0000"/><stop offset="0.068" stop-color="#ba0000"/><stop offset="0.072" stop-color="#bd0000"/><stop offset="0.076" stop-color="#cd0000"/><stop offset="0.083" stop-color="#f50000"/><stop offset="0.086" stop-color="#ff0e00"/><stop offset="0.097" stop-color="#ff6a00"/><stop offset="0.104" stop-color="#ff9c00"/><stop offset="0.112" stop-color="#ffc600"/><stop offset="0.122" stop-color="#ffff00"/><stop offset="0.137" stop-color="#beff41"/><stop offset="0.155" stop-color="#77ff88"/><stop offset="0.191" stop-color="#00fdff"/><stop offset="0.223" stop-color="#0079ff"/><stop offset="0.241" stop-color="#0024ff"/><stop offset="0.248" stop-color="#000cff"/><stop offset="0.252" stop-color="#0003ff"/><stop offset="0.255" stop-color="#0000fc"/><stop offset="0.27" stop-color="#0000e7"/><stop offset="0.284" stop-color="#0000da"/><stop offset="0.309" stop-color="#0000d0"/><stop offset="0.331" stop-color="#0000cc"/><stop offset="0.687" stop-color="#0000cd"/><stop offset="0.723" stop-color="#0000d9"/><stop offset="0.734" stop-color="#0000e3"/><stop offset="0.748" stop-color="#0000fb"/><stop offset="0.752" stop-color="#0003ff"/><stop offset="0.755" stop-color="#000cff"/><stop offset="0.763" stop-color="#0025ff"/><stop offset="0.781" stop-color="#0078ff"/><stop offset="0.813" stop-color="#00fdff"/><stop offset="0.849" stop-color="#78ff87"/><stop offset="0.871" stop-color="#cbff34"/><stop offset="0.881" stop-color="#fbff04"/><stop offset="0.885" stop-color="#ffef00"/><stop offset="0.896" stop-color="#ffaa00"/><stop offset="0.917" stop-color="#ff0f00"/><stop offset="0.921" stop-color="#f90000"/><stop offset="0.928" stop-color="#d60000"/><stop offset="0.935" stop-color="#bb0000"/><stop offset="1" stop-color="#ba0000"/></linearGradient>
<linearGradient id="d43" gradientUnits="userSpaceOnUse" x1="0" x2="0" y1="877.8" y2="1156.0"><stop offset="0" stop-color="#ba0000"/><stop offset="0.065" stop-color="#ba0000"/><stop offset="0.068" stop-color="#bf0000"/><stop offset="0.072" stop-color="#ce0000"/><stop offset="0.079" stop-color="#f40000"/><stop offset="0.083" stop-color="#ff0b00"/><stop offset="0.094" stop-color="#ff6300"/><stop offset="0.097" stop-color="#ff7e00"/><stop offset="0.104" stop-color="#ffab00"/><stop offset="0.119" stop-color="#fff800"/><stop offset="0.122" stop-color="#f4ff0b"/><stop offset="0.137" stop-color="#b7ff48"/><stop offset="0.155" stop-color="#72ff8d"/><stop offset="0.187" stop-color="#07fff8"/><stop offset="0.191" stop-color="#00f9ff"/><stop offset="0.223" stop-color="#0076ff"/><stop offset="0.241" stop-color="#0022ff"/><stop offset="0.248" stop-color="#000aff"/><stop offset="0.252" stop-color="#0002ff"/><stop offset="0.255" stop-color="#0000fb"/><stop offset="0.27" stop-color="#0000e7"/><stop offset="0.284" stop-color="#0000da"/><stop offset="0.309" stop-color="#0000cf"/><stop offset="0.331" stop-color="#0000cc"/><stop offset="0.683" stop-color="#0000cc"/><stop offset="0.723" stop-color="#0000d9"/><stop offset="0.734" stop-color="#0000e3"/><stop offset="0.748" stop-color="#0000fa"/><stop offset="0.752" stop-color="#0002ff"/><stop offset="0.755" stop-color="#000aff"/><stop offset="0.763" stop-color="#0023ff"/><stop offset="0.781" stop-color="#0074ff"/><stop offset="0.813" stop-color="#00f8ff"/><stop offset="0.817" stop-color="#07fff8"/><stop offset="0.849" stop-color="#73ff8c"/><stop offset="0.871" stop-color="#c3ff3c"/><stop offset="0.885" stop-color="#fffc00"/><stop offset="0.896" stop-color="#ffbc00"/><stop offset="0.921" stop-color="#ff0f00"/><stop offset="0.924" stop-color="#fb0000"/><stop offset="0.935" stop-color="#cd0000"/><stop offset="0.942" stop-color="#ba0000"/><stop offset="1" stop-color="#ba0000"/></linearGradient>
<linearGradient id="e1" gradientUnits="userSpaceOnUse" y1="0" y2="0" x1="819.3" x2="1097.6"><stop offset="0" stop-color="#a9ff56"/><stop offset="0.097" stop-color="#25ffda"/><stop offset="0.119" stop-color="#0cfff3"/><stop offset="0.133" stop-color="#00fdff"/><stop offset="0.209" stop-color="#00c4ff"/><stop offset="0.291" stop-color="#0094ff"/><stop offset="0.392" stop-color="#0068ff"/><stop offset="0.5" stop-color="#0045ff"/><stop offset="0.637" stop-color="#0022ff"/><stop offset="0.712" stop-color="#0014ff"/><stop offset="0.849" stop-color="#000eff"/><stop offset="1" stop-color="#000bff"/></linearGradient>
<linearGradient id="e2" gradientUnits="userSpaceOnUse" y1="0" y2="0" x1="819.3" x2="1097.6"><stop offset="0" stop-color="#b8ff47"/><stop offset="0.029" stop-color="#8aff75"/><stop offset="0.076" stop-color="#4effb1"/><stop offset="0.122" stop-color="#1bffe4"/><stop offset="0.155" stop-color="#00fdff"/><stop offset="0.241" stop-color="#00beff"/><stop offset="0.324" stop-color="#008eff"/><stop offset="0.417" stop-color="#0066ff"/><stop offset="0.529" stop-color="#0042ff"/><stop offset="0.665" stop-color="#001eff"/><stop offset="0.719" stop-color="#0014ff"/><stop offset="1" stop-color="#000eff"/></linearGradient>
<clipPath id="e3"><rect x="678.00" y="877.90" width="143.30" height="279.70"/></clipPath>
<linearGradient id="e4" gradientUnits="userSpaceOnUse" x1="0" x2="0" y1="877.9" y2="1157.6"><stop offset="0" stop-color="#0000c4"/><stop offset="1" stop-color="#0000c4"/></linearGradient>
<linearGradient id="e5" gradientUnits="userSpaceOnUse" x1="0" x2="0" y1="877.9" y2="1157.6"><stop offset="0" stop-color="#0000c4"/><stop offset="1" stop-color="#0000c4"/></linearGradient>
<linearGradient id="e6" gradientUnits="userSpaceOnUse" x1="0" x2="0" y1="877.9" y2="1157.6"><stop offset="0" stop-color="#0000c4"/><stop offset="1" stop-color="#0000c4"/></linearGradient>
<linearGradient id="e7" gradientUnits="userSpaceOnUse" x1="0" x2="0" y1="877.9" y2="1157.6"><stop offset="0" stop-color="#0000c1"/><stop offset="1" stop-color="#0000c1"/></linearGradient>
<linearGradient id="e8" gradientUnits="userSpaceOnUse" x1="0" x2="0" y1="877.9" y2="1157.6"><stop offset="0" stop-color="#0000bf"/><stop offset="1" stop-color="#0000bf"/></linearGradient>
<linearGradient id="e9" gradientUnits="userSpaceOnUse" x1="0" x2="0" y1="877.9" y2="1157.6"><stop offset="0" stop-color="#0000bd"/><stop offset="1" stop-color="#0000bd"/></linearGradient>
<linearGradient id="e10" gradientUnits="userSpaceOnUse" x1="0" x2="0" y1="877.9" y2="1157.6"><stop offset="0" stop-color="#0000bb"/><stop offset="1" stop-color="#0000bb"/></linearGradient>
<linearGradient id="e11" gradientUnits="userSpaceOnUse" x1="0" x2="0" y1="877.9" y2="1157.6"><stop offset="0" stop-color="#0000ba"/><stop offset="1" stop-color="#0000ba"/></linearGradient>
<linearGradient id="e12" gradientUnits="userSpaceOnUse" x1="0" x2="0" y1="877.9" y2="1157.6"><stop offset="0" stop-color="#0000b9"/><stop offset="1" stop-color="#0000b9"/></linearGradient>
<linearGradient id="e13" gradientUnits="userSpaceOnUse" x1="0" x2="0" y1="877.9" y2="1157.6"><stop offset="0" stop-color="#0000b8"/><stop offset="1" stop-color="#0000b8"/></linearGradient>
<linearGradient id="e14" gradientUnits="userSpaceOnUse" x1="0" x2="0" y1="877.9" y2="1157.6"><stop offset="0" stop-color="#0000b7"/><stop offset="1" stop-color="#0000b7"/></linearGradient>
<linearGradient id="e15" gradientUnits="userSpaceOnUse" x1="0" x2="0" y1="877.9" y2="1157.6"><stop offset="0" stop-color="#0000bb"/><stop offset="0.082" stop-color="#0000b6"/><stop offset="1" stop-color="#0000b6"/></linearGradient>
<linearGradient id="e16" gradientUnits="userSpaceOnUse" x1="0" x2="0" y1="877.9" y2="1157.6"><stop offset="0" stop-color="#0000c0"/><stop offset="0.114" stop-color="#0000b6"/><stop offset="0.921" stop-color="#0000b6"/><stop offset="1" stop-color="#0000ba"/></linearGradient>
<linearGradient id="e17" gradientUnits="userSpaceOnUse" x1="0" x2="0" y1="877.9" y2="1157.6"><stop offset="0" stop-color="#0000c5"/><stop offset="0.054" stop-color="#0000c2"/><stop offset="0.139" stop-color="#0000b5"/><stop offset="0.889" stop-color="#0000b5"/><stop offset="1" stop-color="#0000be"/></linearGradient>
<linearGradient id="e18" gradientUnits="userSpaceOnUse" x1="0" x2="0" y1="877.9" y2="1157.6"><stop offset="0" stop-color="#0000cc"/><stop offset="0.061" stop-color="#0000c7"/><stop offset="0.161" stop-color="#0000b4"/><stop offset="0.864" stop-color="#0000b4"/><stop offset="0.95" stop-color="#0000c1"/><stop offset="1" stop-color="#0000c4"/></linearGradient>
<linearGradient id="e19" gradientUnits="userSpaceOnUse" x1="0" x2="0" y1="877.9" y2="1157.6"><stop offset="0" stop-color="#0000d4"/><stop offset="0.064" stop-color="#0000ce"/><stop offset="0.175" stop-color="#0000b4"/><stop offset="0.846" stop-color="#0000b4"/><stop offset="0.943" stop-color="#0000c6"/><stop offset="1" stop-color="#0000ca"/></linearGradient>
<linearGradient id="e20" gradientUnits="userSpaceOnUse" x1="0" x2="0" y1="877.9" y2="1157.6"><stop offset="0" stop-color="#0000e0"/><stop offset="0.057" stop-color="#0000d9"/><stop offset="0.189" stop-color="#0000b4"/><stop offset="0.832" stop-color="#0000b4"/><stop offset="0.939" stop-color="#0000cc"/><stop offset="1" stop-color="#0000d1"/></linearGradient>
<linearGradient id="e21" gradientUnits="userSpaceOnUse" x1="0" x2="0" y1="877.9" y2="1157.6"><stop offset="0" stop-color="#0000ed"/><stop offset="0.057" stop-color="#0000e5"/><stop offset="0.168" stop-color="#0000bc"/><stop offset="0.2" stop-color="#0000b4"/><stop offset="0.821" stop-color="#0000b4"/><stop offset="0.943" stop-color="#0000d4"/><stop offset="1" stop-color="#0000db"/></linearGradient>
<linearGradient id="e22" gradientUnits="userSpaceOnUse" x1="0" x2="0" y1="877.9" y2="1157.6"><stop offset="0" stop-color="#0000fa"/><stop offset="0.032" stop-color="#0000f7"/><stop offset="0.064" stop-color="#0000f0"/><stop offset="0.171" stop-color="#0000bf"/><stop offset="0.211" stop-color="#0000b4"/><stop offset="0.811" stop-color="#0000b4"/><stop offset="0.946" stop-color="#0000df"/><stop offset="1" stop-color="#0000e6"/></linearGradient>
<linearGradient id="e23" gradientUnits="userSpaceOnUse" x1="0" x2="0" y1="877.9" y2="1157.6"><stop offset="0" stop-color="#0008ff"/><stop offset="0.057" stop-color="#0000ff"/><stop offset="0.068" stop-color="#0000fc"/><stop offset="0.1" stop-color="#0000ed"/><stop offset="0.157" stop-color="#0000cc"/><stop offset="0.196" stop-color="#0000ba"/><stop offset="0.218" stop-color="#0000b4"/><stop offset="0.8" stop-color="#0000b4"/><stop offset="0.832" stop-color="#0000bc"/><stop offset="0.943" stop-color="#0000e9"/><stop offset="1" stop-color="#0000f2"/></linearGradient>
<linearGradient id="e24" gradientUnits="userSpaceOnUse" x1="0" x2="0" y1="877.9" y2="1157.6"><stop offset="0" stop-color="#0015ff"/><stop offset="0.046" stop-color="#0010ff"/><stop offset="0.093" stop-color="#0000fe"/><stop offset="0.168" stop-color="#0000cd"/><stop offset="0.204" stop-color="#0000bb"/><stop offset="0.225" stop-color="#0000b4"/><stop offset="0.793" stop-color="#0000b4"/><stop offset="0.836" stop-color="#0000c2"/><stop offset="0.936" stop-color="#0000f3"/><stop offset="0.968" stop-color="#0000fc"/><stop offset="1" stop-color="#0000ff"/></linearGradient>
<linearGradient id="e25" gradientUnits="userSpaceOnUse" x1="0" x2="0" y1="877.9" y2="1157.6"><stop offset="0" stop-color="#0022ff"/><stop offset="0.057" stop-color="#001aff"/><stop offset="0.114" stop-color="#0000ff"/><stop offset="0.175" stop-color="#0000d0"/><stop offset="0.211" stop-color="#0000bb"/><stop offset="0.232" stop-color="#0000b4"/><stop offset="0.786" stop-color="#0000b4"/><stop offset="0.843" stop-color="#0000cb"/><stop offset="0.904" stop-color="#0000f0"/><stop offset="0.932" stop-color="#0000fe"/><stop offset="0.968" stop-color="#000aff"/><stop offset="1" stop-color="#000dff"/></linearGradient>
<linearGradient id="e26" gradientUnits="userSpaceOnUse" x1="0" x2="0" y1="877.9" y2="1157.6"><stop offset="0" stop-color="#0030ff"/><stop offset="0.036" stop-color="#002dff"/><stop offset="0.068" stop-color="#0024ff"/><stop offset="0.1" stop-color="#0015ff"/><stop offset="0.132" stop-color="#0000ff"/><stop offset="0.186" stop-color="#0000d0"/><stop offset="0.218" stop-color="#0000bc"/><stop offset="0.239" stop-color="#0000b4"/><stop offset="0.779" stop-color="#0000b4"/><stop offset="0.804" stop-color="#0000bc"/><stop offset="0.839" stop-color="#0000cf"/><stop offset="0.907" stop-color="#0000fe"/><stop offset="0.957" stop-color="#0014ff"/><stop offset="1" stop-color="#001aff"/></linearGradient>
<linearGradient id="e27" gradientUnits="userSpaceOnUse" x1="0" x2="0" y1="877.9" y2="1157.6"><stop offset="0" stop-color="#003fff"/><stop offset="0.036" stop-color="#003bff"/><stop offset="0.075" stop-color="#002fff"/><stop offset="0.111" stop-color="#001cff"/><stop offset="0.146" stop-color="#0001ff"/><stop offset="0.2" stop-color="#0000cc"/><stop offset="0.229" stop-color="#0000ba"/><stop offset="0.246" stop-color="#0000b4"/><stop offset="0.771" stop-color="#0000b4"/><stop offset="0.793" stop-color="#0000bb"/><stop offset="0.829" stop-color="#0000cf"/><stop offset="0.889" stop-color="#0000ff"/><stop offset="0.946" stop-color="#001fff"/><stop offset="1" stop-color="#0029ff"/></linearGradient>
<linearGradient id="e28" gradientUnits="userSpaceOnUse" x1="0" x2="0" y1="877.9" y2="1157.6"><stop offset="0" stop-color="#004eff"/><stop offset="0.039" stop-color="#004aff"/><stop offset="0.082" stop-color="#003aff"/><stop offset="0.121" stop-color="#0022ff"/><stop offset="0.161" stop-color="#0000ff"/><stop offset="0.207" stop-color="#0000cd"/><stop offset="0.236" stop-color="#0000b9"/><stop offset="0.254" stop-color="#0000b4"/><stop offset="0.764" stop-color="#0000b4"/><stop offset="0.786" stop-color="#0000bb"/><stop offset="0.818" stop-color="#0000ce"/><stop offset="0.875" stop-color="#0001ff"/><stop offset="0.911" stop-color="#001bff"/><stop offset="0.939" stop-color="#002aff"/><stop offset="0.971" stop-color="#0035ff"/><stop offset="1" stop-color="#0038ff"/></linearGradient>
<linearGradient id="e29" gradientUnits="userSpaceOnUse" x1="0" x2="0" y1="877.9" y2="1157.6"><stop offset="0" stop-color="#005eff"/><stop offset="0.043" stop-color="#0058ff"/><stop offset="0.086" stop-color="#0047ff"/><stop offset="0.129" stop-color="#002aff"/><stop offset="0.171" stop-color="#0001ff"/><stop offset="0.175" stop-color="#0000fc"/><stop offset="0.214" stop-color="#0000cd"/><stop offset="0.239" stop-color="#0000bb"/><stop offset="0.257" stop-color="#0000b4"/><stop offset="0.757" stop-color="#0000b4"/><stop offset="0.779" stop-color="#0000ba"/><stop offset="0.811" stop-color="#0000ce"/><stop offset="0.861" stop-color="#0000fe"/><stop offset="0.9" stop-color="#0021ff"/><stop offset="0.936" stop-color="#0038ff"/><stop offset="0.968" stop-color="#0044ff"/><stop offset="1" stop-color="#0048ff"/></linearGradient>
<linearGradient id="e30" gradientUnits="userSpaceOnUse" x1="0" x2="0" y1="877.9" y2="1157.6"><stop offset="0" stop-color="#0070ff"/><stop offset="0.046" stop-color="#0068ff"/><stop offset="0.093" stop-color="#0053ff"/><stop offset="0.139" stop-color="#002fff"/><stop offset="0.182" stop-color="#0000fe"/><stop offset="0.218" stop-color="#0000d0"/><stop offset="0.243" stop-color="#0000bc"/><stop offset="0.261" stop-color="#0000b4"/><stop offset="0.754" stop-color="#0000b4"/><stop offset="0.771" stop-color="#0000ba"/><stop offset="0.804" stop-color="#0000ce"/><stop offset="0.85" stop-color="#0000fe"/><stop offset="0.896" stop-color="#002cff"/><stop offset="0.932" stop-color="#0045ff"/><stop offset="0.968" stop-color="#0055ff"/><stop offset="1" stop-color="#005aff"/></linearGradient>
<linearGradient id="e31" gradientUnits="userSpaceOnUse" x1="0" x2="0" y1="877.9" y2="1157.6"><stop offset="0" stop-color="#0085ff"/><stop offset="0.046" stop-color="#007cff"/><stop offset="0.096" stop-color="#0061ff"/><stop offset="0.139" stop-color="#003dff"/><stop offset="0.189" stop-color="#0001ff"/><stop offset="0.193" stop-color="#0000fb"/><stop offset="0.225" stop-color="#0000cf"/><stop offset="0.246" stop-color="#0000bd"/><stop offset="0.264" stop-color="#0000b4"/><stop offset="0.75" stop-color="#0000b4"/><stop offset="0.768" stop-color="#0000ba"/><stop offset="0.796" stop-color="#0000cd"/><stop offset="0.839" stop-color="#0000fd"/><stop offset="0.896" stop-color="#003aff"/><stop offset="0.929" stop-color="#0053ff"/><stop offset="0.964" stop-color="#0066ff"/><stop offset="1" stop-color="#006dff"/></linearGradient>
<linearGradient id="e32" gradientUnits="userSpaceOnUse" x1="0" x2="0" y1="877.9" y2="1157.6"><stop offset="0" stop-color="#009eff"/><stop offset="0.021" stop-color="#009cff"/><stop offset="0.046" stop-color="#0093ff"/><stop offset="0.096" stop-color="#0073ff"/><stop offset="0.139" stop-color="#004bff"/><stop offset="0.168" stop-color="#0029ff"/><stop offset="0.196" stop-color="#0002ff"/><stop offset="0.2" stop-color="#0000fc"/><stop offset="0.232" stop-color="#0000cd"/><stop offset="0.254" stop-color="#0000bb"/><stop offset="0.268" stop-color="#0000b4"/><stop offset="0.746" stop-color="#0000b4"/><stop offset="0.768" stop-color="#0000bd"/><stop offset="0.793" stop-color="#0000cf"/><stop offset="0.832" stop-color="#0000fe"/><stop offset="0.886" stop-color="#003dff"/><stop offset="0.925" stop-color="#0062ff"/><stop offset="0.964" stop-color="#007bff"/><stop offset="1" stop-color="#0084ff"/></linearGradient>
<linearGradient id="e33" gradientUnits="userSpaceOnUse" x1="0" x2="0" y1="877.9" y2="1157.6"><stop offset="0" stop-color="#00bcff"/><stop offset="0.021" stop-color="#00b9ff"/><stop offset="0.043" stop-color="#00b0ff"/><stop offset="0.086" stop-color="#0091ff"/><stop offset="0.15" stop-color="#004dff"/><stop offset="0.204" stop-color="#0001ff"/><stop offset="0.207" stop-color="#0000fa"/><stop offset="0.236" stop-color="#0000ce"/><stop offset="0.257" stop-color="#0000bb"/><stop offset="0.271" stop-color="#0000b4"/><stop offset="0.743" stop-color="#0000b4"/><stop offset="0.764" stop-color="#0000bd"/><stop offset="0.789" stop-color="#0000d0"/><stop offset="0.825" stop-color="#0000fe"/><stop offset="0.886" stop-color="#004cff"/><stop offset="0.932" stop-color="#007cff"/><stop offset="0.968" stop-color="#0097ff"/><stop offset="1" stop-color="#00a0ff"/></linearGradient>
<linearGradient id="e34" gradientUnits="userSpaceOnUse" x1="0" x2="0" y1="877.9" y2="1157.6"><stop offset="0" stop-color="#00dcff"/><stop offset="0.021" stop-color="#00d9ff"/><stop offset="0.043" stop-color="#00cfff"/><stop offset="0.082" stop-color="#00aeff"/><stop offset="0.15" stop-color="#005cff"/><stop offset="0.211" stop-color="#0000fe"/><stop offset="0.239" stop-color="#0000cf"/><stop offset="0.261" stop-color="#0000bb"/><stop offset="0.275" stop-color="#0000b4"/><stop offset="0.739" stop-color="#0000b4"/><stop offset="0.757" stop-color="#0000bb"/><stop offset="0.782" stop-color="#0000ce"/><stop offset="0.818" stop-color="#0000fc"/><stop offset="0.821" stop-color="#0002ff"/><stop offset="0.875" stop-color="#004cff"/><stop offset="0.943" stop-color="#00a2ff"/><stop offset="0.971" stop-color="#00baff"/><stop offset="1" stop-color="#00c3ff"/></linearGradient>
<linearGradient id="e35" gradientUnits="userSpaceOnUse" x1="0" x2="0" y1="877.9" y2="1157.6"><stop offset="0" stop-color="#00fdff"/><stop offset="0.021" stop-color="#00f9ff"/><stop offset="0.043" stop-color="#00efff"/><stop offset="0.079" stop-color="#00ceff"/><stop offset="0.104" stop-color="#00aeff"/><stop offset="0.146" stop-color="#0070ff"/><stop offset="0.179" stop-color="#003fff"/><stop offset="0.214" stop-color="#0001ff"/><stop offset="0.218" stop-color="#0000fa"/><stop offset="0.243" stop-color="#0000cf"/><stop offset="0.264" stop-color="#0000bb"/><stop offset="0.279" stop-color="#0000b4"/><stop offset="0.736" stop-color="#0000b4"/><stop offset="0.754" stop-color="#0000bb"/><stop offset="0.779" stop-color="#0000ce"/><stop offset="0.793" stop-color="#0000df"/><stop offset="0.814" stop-color="#0000fe"/><stop offset="0.946" stop-color="#00c7ff"/><stop offset="0.971" stop-color="#00dfff"/><stop offset="1" stop-color="#00e8ff"/></linearGradient>
<linearGradient id="e36" gradientUnits="userSpaceOnUse" x1="0" x2="0" y1="877.9" y2="1157.6"><stop offset="0" stop-color="#21ffde"/><stop offset="0.029" stop-color="#18ffe7"/><stop offset="0.061" stop-color="#00feff"/><stop offset="0.075" stop-color="#00efff"/><stop offset="0.118" stop-color="#00b1ff"/><stop offset="0.175" stop-color="#0051ff"/><stop offset="0.218" stop-color="#0002ff"/><stop offset="0.221" stop-color="#0000fa"/><stop offset="0.246" stop-color="#0000ce"/><stop offset="0.264" stop-color="#0000bc"/><stop offset="0.279" stop-color="#0000b4"/><stop offset="0.732" stop-color="#0000b4"/><stop offset="0.75" stop-color="#0000ba"/><stop offset="0.775" stop-color="#0000cd"/><stop offset="0.786" stop-color="#0000da"/><stop offset="0.811" stop-color="#0000ff"/><stop offset="0.879" stop-color="#006eff"/><stop offset="0.929" stop-color="#00d0ff"/><stop offset="0.946" stop-color="#00ebff"/><stop offset="0.964" stop-color="#00feff"/><stop offset="0.986" stop-color="#0bfff4"/><stop offset="1" stop-color="#0efff1"/></linearGradient>
<linearGradient id="e37" gradientUnits="userSpaceOnUse" x1="0" x2="0" y1="877.9" y2="1157.6"><stop offset="0" stop-color="#46ffb9"/><stop offset="0.018" stop-color="#42ffbd"/><stop offset="0.036" stop-color="#36ffc9"/><stop offset="0.057" stop-color="#21ffde"/><stop offset="0.082" stop-color="#01fffe"/><stop offset="0.086" stop-color="#00fbff"/><stop offset="0.114" stop-color="#00ceff"/><stop offset="0.221" stop-color="#0002ff"/><stop offset="0.225" stop-color="#0000fa"/><stop offset="0.239" stop-color="#0000de"/><stop offset="0.25" stop-color="#0000cd"/><stop offset="0.268" stop-color="#0000bb"/><stop offset="0.282" stop-color="#0000b4"/><stop offset="0.732" stop-color="#0000b4"/><stop offset="0.75" stop-color="#0000bc"/><stop offset="0.775" stop-color="#0000d0"/><stop offset="0.807" stop-color="#0001ff"/><stop offset="0.871" stop-color="#0070ff"/><stop offset="0.886" stop-color="#008dff"/><stop offset="0.918" stop-color="#00dbff"/><stop offset="0.936" stop-color="#00fcff"/><stop offset="0.939" stop-color="#02fffd"/><stop offset="0.971" stop-color="#28ffd7"/><stop offset="0.986" stop-color="#31ffce"/><stop offset="1" stop-color="#35ffca"/></linearGradient>
<linearGradient id="e38" gradientUnits="userSpaceOnUse" x1="0" x2="0" y1="877.9" y2="1157.6"><stop offset="0" stop-color="#69ff96"/><stop offset="0.014" stop-color="#66ff99"/><stop offset="0.036" stop-color="#57ffa8"/><stop offset="0.064" stop-color="#34ffcb"/><stop offset="0.096" stop-color="#02fffd"/><stop offset="0.1" stop-color="#00fcff"/><stop offset="0.125" stop-color="#00ceff"/><stop offset="0.225" stop-color="#0001ff"/><stop offset="0.229" stop-color="#0000f9"/><stop offset="0.25" stop-color="#0000d0"/><stop offset="0.268" stop-color="#0000bd"/><stop offset="0.282" stop-color="#0000b4"/><stop offset="0.729" stop-color="#0000b4"/><stop offset="0.746" stop-color="#0000ba"/><stop offset="0.771" stop-color="#0000cf"/><stop offset="0.804" stop-color="#0000ff"/><stop offset="0.836" stop-color="#0037ff"/><stop offset="0.868" stop-color="#0075ff"/><stop offset="0.882" stop-color="#0098ff"/><stop offset="0.907" stop-color="#00deff"/><stop offset="0.921" stop-color="#00ffff"/><stop offset="0.939" stop-color="#20ffdf"/><stop offset="0.964" stop-color="#44ffbb"/><stop offset="0.982" stop-color="#55ffaa"/><stop offset="1" stop-color="#5bffa4"/></linearGradient>
<linearGradient id="e39" gradientUnits="userSpaceOnUse" x1="0" x2="0" y1="877.9" y2="1157.6"><stop offset="0" stop-color="#82ff7d"/><stop offset="0.021" stop-color="#7bff84"/><stop offset="0.043" stop-color="#69ff96"/><stop offset="0.068" stop-color="#46ffb9"/><stop offset="0.107" stop-color="#02fffd"/><stop offset="0.125" stop-color="#00dfff"/><stop offset="0.211" stop-color="#0023ff"/><stop offset="0.229" stop-color="#0000fd"/><stop offset="0.246" stop-color="#0000d8"/><stop offset="0.254" stop-color="#0000cd"/><stop offset="0.271" stop-color="#0000bb"/><stop offset="0.286" stop-color="#0000b4"/><stop offset="0.729" stop-color="#0000b4"/><stop offset="0.746" stop-color="#0000bb"/><stop offset="0.768" stop-color="#0000cd"/><stop offset="0.779" stop-color="#0000da"/><stop offset="0.8" stop-color="#0000fc"/><stop offset="0.807" stop-color="#0009ff"/><stop offset="0.829" stop-color="#002fff"/><stop offset="0.864" stop-color="#0078ff"/><stop offset="0.875" stop-color="#0094ff"/><stop offset="0.896" stop-color="#00d8ff"/><stop offset="0.911" stop-color="#00ffff"/><stop offset="0.936" stop-color="#33ffcc"/><stop offset="0.968" stop-color="#67ff98"/><stop offset="0.982" stop-color="#75ff8a"/><stop offset="1" stop-color="#7cff83"/></linearGradient>
<linearGradient id="e40" gradientUnits="userSpaceOnUse" x1="0" x2="0" y1="877.9" y2="1157.6"><stop offset="0" stop-color="#94ff6b"/><stop offset="0.018" stop-color="#8fff70"/><stop offset="0.046" stop-color="#76ff89"/><stop offset="0.079" stop-color="#45ffba"/><stop offset="0.114" stop-color="#02fffd"/><stop offset="0.132" stop-color="#00dcff"/><stop offset="0.221" stop-color="#0010ff"/><stop offset="0.229" stop-color="#0001ff"/><stop offset="0.232" stop-color="#0000f9"/><stop offset="0.254" stop-color="#0000cf"/><stop offset="0.271" stop-color="#0000bc"/><stop offset="0.286" stop-color="#0000b4"/><stop offset="0.729" stop-color="#0000b4"/><stop offset="0.746" stop-color="#0000bc"/><stop offset="0.768" stop-color="#0000ce"/><stop offset="0.779" stop-color="#0000dc"/><stop offset="0.8" stop-color="#0000ff"/><stop offset="0.836" stop-color="#0042ff"/><stop offset="0.861" stop-color="#0078ff"/><stop offset="0.871" stop-color="#0096ff"/><stop offset="0.893" stop-color="#00dfff"/><stop offset="0.904" stop-color="#00feff"/><stop offset="0.936" stop-color="#46ffb9"/><stop offset="0.961" stop-color="#72ff8d"/><stop offset="0.979" stop-color="#89ff76"/><stop offset="0.989" stop-color="#91ff6e"/><stop offset="1" stop-color="#94ff6b"/></linearGradient>
<linearGradient id="e41" gradientUnits="userSpaceOnUse" x1="0" x2="0" y1="877.9" y2="1157.6"><stop offset="0" stop-color="#a3ff5c"/><stop offset="0.018" stop-color="#9cff63"/><stop offset="0.054" stop-color="#77ff88"/><stop offset="0.082" stop-color="#49ffb6"/><stop offset="0.118" stop-color="#03fffc"/><stop offset="0.121" stop-color="#00fbff"/><stop offset="0.136" stop-color="#00dcff"/><stop offset="0.218" stop-color="#001aff"/><stop offset="0.229" stop-color="#0003ff"/><stop offset="0.232" stop-color="#0000fb"/><stop offset="0.254" stop-color="#0000d0"/><stop offset="0.271" stop-color="#0000bc"/><stop offset="0.286" stop-color="#0000b4"/><stop offset="0.725" stop-color="#0000b4"/><stop offset="0.743" stop-color="#0000ba"/><stop offset="0.764" stop-color="#0000cb"/><stop offset="0.779" stop-color="#0000dd"/><stop offset="0.796" stop-color="#0000fb"/><stop offset="0.8" stop-color="#0002ff"/><stop offset="0.825" stop-color="#002fff"/><stop offset="0.857" stop-color="#0074ff"/><stop offset="0.868" stop-color="#0092ff"/><stop offset="0.889" stop-color="#00dfff"/><stop offset="0.9" stop-color="#01fffe"/><stop offset="0.921" stop-color="#34ffcb"/><stop offset="0.954" stop-color="#74ff8b"/><stop offset="0.982" stop-color="#9eff61"/><stop offset="1" stop-color="#aaff55"/></linearGradient>
<linearGradient id="e42" gradientUnits="userSpaceOnUse" x1="0" x2="0" y1="877.9" y2="1157.6"><stop offset="0" stop-color="#abff54"/><stop offset="0.018" stop-color="#a2ff5d"/><stop offset="0.057" stop-color="#76ff89"/><stop offset="0.086" stop-color="#46ffb9"/><stop offset="0.121" stop-color="#00feff"/><stop offset="0.214" stop-color="#0024ff"/><stop offset="0.229" stop-color="#0004ff"/><stop offset="0.232" stop-color="#0000fc"/><stop offset="0.254" stop-color="#0000d0"/><stop offset="0.271" stop-color="#0000bd"/><stop offset="0.286" stop-color="#0000b4"/><stop offset="0.725" stop-color="#0000b4"/><stop offset="0.743" stop-color="#0000ba"/><stop offset="0.764" stop-color="#0000cc"/><stop offset="0.779" stop-color="#0000dd"/><stop offset="0.796" stop-color="#0000fc"/><stop offset="0.8" stop-color="#0003ff"/><stop offset="0.818" stop-color="#0023ff"/><stop offset="0.854" stop-color="#006eff"/><stop offset="0.868" stop-color="#0095ff"/><stop offset="0.893" stop-color="#00f0ff"/><stop offset="0.896" stop-color="#00faff"/><stop offset="0.9" stop-color="#05fffa"/><stop offset="0.918" stop-color="#31ffce"/><stop offset="0.95" stop-color="#73ff8c"/><stop offset="0.986" stop-color="#acff53"/><stop offset="1" stop-color="#b8ff47"/></linearGradient>
<linearGradient id="e43" gradientUnits="userSpaceOnUse" x1="0" x2="0" y1="877.9" y2="1157.6"><stop offset="0" stop-color="#a8ff57"/><stop offset="0.021" stop-color="#9cff63"/><stop offset="0.057" stop-color="#74ff8b"/><stop offset="0.075" stop-color="#58ffa7"/><stop offset="0.121" stop-color="#00fdff"/><stop offset="0.214" stop-color="#0023ff"/><stop offset="0.229" stop-color="#0004ff"/><stop offset="0.232" stop-color="#0000fb"/><stop offset="0.254" stop-color="#0000d0"/><stop offset="0.271" stop-color="#0000bd"/><stop offset="0.286" stop-color="#0000b4"/><stop offset="0.725" stop-color="#0000b4"/><stop offset="0.743" stop-color="#0000ba"/><stop offset="0.764" stop-color="#0000cb"/><stop offset="0.779" stop-color="#0000dd"/><stop offset="0.796" stop-color="#0000fb"/><stop offset="0.8" stop-color="#0002ff"/><stop offset="0.825" stop-color="#0030ff"/><stop offset="0.857" stop-color="#0076ff"/><stop offset="0.871" stop-color="#00a0ff"/><stop offset="0.893" stop-color="#00edff"/><stop offset="0.9" stop-color="#03fffc"/><stop offset="0.929" stop-color="#46ffb9"/><stop offset="0.954" stop-color="#77ff88"/><stop offset="0.982" stop-color="#a3ff5c"/><stop offset="0.989" stop-color="#abff54"/><stop offset="1" stop-color="#b1ff4e"/></linearGradient>
<linearGradient id="e44" gradientUnits="userSpaceOnUse" x1="0" x2="0" y1="877.9" y2="1157.6"><stop offset="0" stop-color="#9bff64"/><stop offset="0.014" stop-color="#97ff68"/><stop offset="0.025" stop-color="#8fff70"/><stop offset="0.05" stop-color="#76ff89"/><stop offset="0.079" stop-color="#49ffb6"/><stop offset="0.118" stop-color="#00feff"/><stop offset="0.139" stop-color="#00cfff"/><stop offset="0.214" stop-color="#0021ff"/><stop offset="0.229" stop-color="#0002ff"/><stop offset="0.232" stop-color="#0000fa"/><stop offset="0.254" stop-color="#0000cf"/><stop offset="0.271" stop-color="#0000bc"/><stop offset="0.286" stop-color="#0000b4"/><stop offset="0.729" stop-color="#0000b4"/><stop offset="0.746" stop-color="#0000bc"/><stop offset="0.768" stop-color="#0000ce"/><stop offset="0.8" stop-color="#0001ff"/><stop offset="0.829" stop-color="#0035ff"/><stop offset="0.857" stop-color="#0072ff"/><stop offset="0.871" stop-color="#0099ff"/><stop offset="0.896" stop-color="#00f0ff"/><stop offset="0.904" stop-color="#04fffb"/><stop offset="0.932" stop-color="#45ffba"/><stop offset="0.957" stop-color="#73ff8c"/><stop offset="0.982" stop-color="#94ff6b"/><stop offset="1" stop-color="#9dff62"/></linearGradient>
<linearGradient id="e45" gradientUnits="userSpaceOnUse" x1="0" x2="0" y1="896.6" y2="1145.0"><stop offset="0" stop-color="#0000c8"/><stop offset="0.129" stop-color="#0000cd"/><stop offset="0.218" stop-color="#0000d7"/><stop offset="0.31" stop-color="#0000e8"/><stop offset="0.351" stop-color="#0000f3"/><stop offset="0.383" stop-color="#0000ff"/><stop offset="0.423" stop-color="#0010ff"/><stop offset="0.427" stop-color="#0014ff"/><stop offset="0.44" stop-color="#0025ff"/><stop offset="0.444" stop-color="#0027ff"/><stop offset="0.569" stop-color="#0027ff"/><stop offset="0.573" stop-color="#0024ff"/><stop offset="0.581" stop-color="#0010ff"/><stop offset="0.585" stop-color="#000aff"/><stop offset="0.621" stop-color="#0000ff"/><stop offset="0.738" stop-color="#0000f1"/><stop offset="1" stop-color="#0000da"/></linearGradient>
<linearGradient id="cb" x1="0" x2="0" y1="0" y2="1"><stop offset="0.0000" stop-color="#800000"/><stop offset="0.0159" stop-color="#900000"/><stop offset="0.0317" stop-color="#a00000"/><stop offset="0.0476" stop-color="#b00000"/><stop offset="0.0635" stop-color="#c00000"/><stop offset="0.0794" stop-color="#d00000"/><stop offset="0.0952" stop-color="#e10000"/><stop offset="0.1111" stop-color="#f10000"/><stop offset="0.1270" stop-color="#ff0200"/><stop offset="0.1429" stop-color="#ff1200"/><stop offset="0.1587" stop-color="#ff2200"/><stop offset="0.1746" stop-color="#ff3300"/><stop offset="0.1905" stop-color="#ff4300"/><stop offset="0.2063" stop-color="#ff5300"/><stop offset="0.2222" stop-color="#ff6300"/><stop offset="0.2381" stop-color="#ff7300"/><stop offset="0.2540" stop-color="#ff8400"/><stop offset="0.2698" stop-color="#ff9400"/><stop offset="0.2857" stop-color="#ffa400"/><stop offset="0.3016" stop-color="#ffb400"/><stop offset="0.3175" stop-color="#ffc400"/><stop offset="0.3333" stop-color="#ffd400"/><stop offset="0.3492" stop-color="#ffe500"/><stop offset="0.3651" stop-color="#fff500"/><stop offset="0.3810" stop-color="#f9ff06"/><stop offset="0.3968" stop-color="#e9ff16"/><stop offset="0.4127" stop-color="#d9ff26"/><stop offset="0.4286" stop-color="#c8ff37"/><stop offset="0.4444" stop-color="#b8ff47"/><stop offset="0.4603" stop-color="#a8ff57"/><stop offset="0.4762" stop-color="#98ff67"/><stop offset="0.4921" stop-color="#88ff77"/><stop offset="0.5079" stop-color="#77ff88"/><stop offset="0.5238" stop-color="#67ff98"/><stop offset="0.5397" stop-color="#57ffa8"/><stop offset="0.5556" stop-color="#47ffb8"/><stop offset="0.5714" stop-color="#37ffc8"/><stop offset="0.5873" stop-color="#26ffd9"/><stop offset="0.6032" stop-color="#16ffe9"/><stop offset="0.6190" stop-color="#06fff9"/><stop offset="0.6349" stop-color="#00f5ff"/><stop offset="0.6508" stop-color="#00e5ff"/><stop offset="0.6667" stop-color="#00d5ff"/><stop offset="0.6825" stop-color="#00c4ff"/><stop offset="0.6984" stop-color="#00b4ff"/><stop offset="0.7143" stop-color="#00a4ff"/><stop offset="0.7302" stop-color="#0094ff"/><stop offset="0.7460" stop-color="#0084ff"/><stop offset="0.7619" stop-color="#0073ff"/><stop offset="0.7778" stop-color="#0063ff"/><stop offset="0.7937" stop-color="#0053ff"/><stop offset="0.8095" stop-color="#0043ff"/><stop offset="0.8254" stop-color="#0033ff"/><stop offset="0.8413" stop-color="#0022ff"/><stop offset="0.8571" stop-color="#0012ff"/><stop offset="0.8730" stop-color="#0002ff"/><stop offset="0.8889" stop-color="#0000f1"/><stop offset="0.9048" stop-color="#0000e1"/><stop offset="0.9206" stop-color="#0000d0"/><stop offset="0.9365" stop-color="#0000c0"/><stop offset="0.9524" stop-color="#0000b0"/><stop offset="0.9683" stop-color="#0000a0"/><stop offset="0.9841" stop-color="#000090"/><stop offset="1.0000" stop-color="#000080"/></linearGradient>
<linearGradient id="gGray" x1="0" x2="1" y1="0" y2="0"><stop offset="0" stop-color="#7e7e7e"/><stop offset="0.3" stop-color="#bdbdbd"/><stop offset="0.55" stop-color="#d6d6d8"/><stop offset="1" stop-color="#e0e0e2"/></linearGradient>
<linearGradient id="gPink" x1="0" x2="1" y1="0" y2="0"><stop offset="0" stop-color="#ff96ff"/><stop offset="1" stop-color="#ffe2ff"/></linearGradient>
<linearGradient id="gGreen" x1="0" x2="1" y1="0" y2="0"><stop offset="0" stop-color="#b3cdb3"/><stop offset="1" stop-color="#e0eae0"/></linearGradient>
<linearGradient id="gLav" x1="0" x2="1" y1="0" y2="0"><stop offset="0" stop-color="#a9afd3"/><stop offset="1" stop-color="#dfe2ee"/></linearGradient>
<linearGradient id="gOr" x1="0" x2="1" y1="0" y2="0"><stop offset="0" stop-color="#f6c184"/><stop offset="0.4" stop-color="#fbdc9c"/><stop offset="1" stop-color="#fee9b6"/></linearGradient>
</defs>
<g id="diagA">
<rect x="161.0" y="42.6" width="350.0" height="16" fill="url(#gGray)"/>
<rect x="161.0" y="58.5" width="117.4" height="207" fill="url(#gPink)"/>
<rect x="278.4" y="58.5" width="232.6" height="93" fill="url(#gGreen)"/>
<rect x="278.4" y="151" width="232.6" height="16.5" fill="#ffe699"/>
<rect x="278.4" y="167" width="232.6" height="98.5" fill="url(#gLav)"/>
<rect x="161.0" y="265" width="350.0" height="10" fill="url(#gOr)"/>
<g stroke="#c9d8ea" stroke-width="1.4" fill="#c9d8ea">
<path d="M263.7 0V29" fill="none"/><path d="M259.0 28.4h9.4l-4.7 9.6z" stroke="none"/>
<path d="M312.5 0V29" fill="none"/><path d="M307.8 28.4h9.4l-4.7 9.6z" stroke="none"/>
<path d="M367.7 0V29" fill="none"/><path d="M363.0 28.4h9.4l-4.7 9.6z" stroke="none"/>
<path d="M419.5 0V29" fill="none"/><path d="M414.8 28.4h9.4l-4.7 9.6z" stroke="none"/>
<path d="M467.6 0V29" fill="none"/><path d="M462.9 28.4h9.4l-4.7 9.6z" stroke="none"/>
<path d="M262.3 274Q265.8 280 266.3 286V296" fill="none"/><path d="M261.6 295.4h9.4l-4.7 9.6z" stroke="none"/>
<path d="M312.7 274Q316.2 280 316.7 286V296" fill="none"/><path d="M312.0 295.4h9.4l-4.7 9.6z" stroke="none"/>
<path d="M367.9 274Q371.4 280 371.9 286V296" fill="none"/><path d="M367.2 295.4h9.4l-4.7 9.6z" stroke="none"/>
<path d="M423.9 274Q427.4 280 427.9 286V296" fill="none"/><path d="M423.2 295.4h9.4l-4.7 9.6z" stroke="none"/>
<path d="M474.3 274Q477.8 280 478.3 286V296" fill="none"/><path d="M473.6 295.4h9.4l-4.7 9.6z" stroke="none"/>
</g>
<g stroke="#1c1c1c" stroke-width="2.4" fill="none">
<path d="M160.5 42.6H512.2"/>
<path d="M160.5 58.6H511.0"/>
<path d="M278.4 151.2H511.0"/>
<path d="M278.4 167.3H511.0"/>
<path d="M160.5 265.3H511.0"/>
<path d="M160.5 274.4H512.2"/>
<path d="M278.4 58V266"/>
<path d="M511.0 41.4V275.6" stroke-width="2.6"/>
</g>
<g fill="none" stroke-width="2.1" stroke-linecap="round" stroke-opacity="0.72">
<path stroke="#a7bdf0" d="M222.0 49.8C192.0 49.8 186.0 66.0 186.0 84.0V232.0C186.0 254.0 194.0 269.5 222.0 269.5"/>
<path stroke="#a7bdf0" d="M241.0 49.8C211.6 49.8 205.6 62.0 205.6 80.0V236.0C205.6 258.0 213.6 269.5 238.0 269.5"/>
<path stroke="#a7bdf0" d="M256.0 49.8C231.3 49.8 225.3 58.0 225.3 76.0V240.0C225.3 262.0 233.3 269.5 252.0 269.5"/>
<path stroke="#a7bdf0" d="M268.0 49.8C252.7 49.8 246.7 52.0 246.7 70.0V256.0C246.7 278.0 254.7 269.5 263.0 269.5"/>
<path stroke="#4db5e8" stroke-width="2.2" stroke-opacity="1" d="M262 49.8H521"/><path stroke="#4db5e8" stroke-width="1.8" d="M222 49.8H262"/>
<path stroke="#4db5e8" stroke-width="2.2" stroke-opacity="1" d="M270 269.5H518"/><path stroke="#4db5e8" stroke-width="1.8" d="M222 269.5H270"/>
<path stroke="#4db5e8" d="M291.0 269.5C306.4 269.5 313.0 262 313.0 230V76C313.0 60 310.0 49.8 291.0 49.8"/>
<path stroke="#4db5e8" d="M355.9 269.5C367.1 269.5 371.9 262 371.9 230V76C371.9 60 368.9 49.8 356.9 49.8"/>
<path stroke="#4db5e8" d="M407.9 269.5C421.9 269.5 427.9 262 427.9 230V76C427.9 60 424.9 49.8 406.9 49.8"/>
<path stroke="#4db5e8" d="M457.9 269.5C476.1 269.5 483.9 262 483.9 230V76C483.9 60 480.9 49.8 465.9 49.8"/>
</g>
<g fill="#1fa9e3">
<path d="M180.8 168.6h10.4l-5.2 9.6z"/>
<path d="M200.4 168.6h10.4l-5.2 9.6z"/>
<path d="M220.1 168.6h10.4l-5.2 9.6z"/>
<path d="M241.7 168.6h10.4l-5.2 9.6z"/>
<path d="M307.8 144h10.4l-5.2 -11.4z"/>
<path d="M366.7 144h10.4l-5.2 -11.4z"/>
<path d="M422.7 144h10.4l-5.2 -11.4z"/>
<path d="M478.7 144h10.4l-5.2 -11.4z"/>
<path d="M268.2 49.8l10.4 -5v10z"/>
<path d="M352.6 49.8l10.4 -5v10z"/>
<path d="M462.0 49.8l10.4 -5v10z"/>
<path d="M299.0 269.5l-10.4 -5v10z"/>
<path d="M390.4 269.5l-10.4 -5v10z"/>
<path d="M526.2 269.5l-10.4 -5v10z"/>
</g>
<g stroke="#f01414" fill="#f01414">
<path d="M159.8 278.2V24" stroke-width="2.8" fill="none"/>
<path d="M154.2 26.2h11.2l-5.6 -10.8z" stroke="none"/>
<path d="M158.4 276.9H539" stroke-width="2.8" fill="none"/>
<path d="M537.4 271.4v11l10 -5.5z" stroke="none"/>
</g>
<g font-family="'Liberation Sans', sans-serif" font-style="italic" fill="#f01414">
<text x="134.6" y="39.6" font-size="29" textLength="12.5" lengthAdjust="spacingAndGlyphs">z</text>
<text x="137.6" y="287" font-size="27.5">0</text>
<text x="514.6" y="298.6" font-size="30">r</text>
</g>
<g stroke="#e6484c" stroke-width="1.4" fill="none" stroke-dasharray="1.1 0.85">
<rect x="168.6" y="70.2" width="99.8" height="180.6" rx="13" ry="13"/>
<rect x="268.6" y="35.8" width="18.2" height="27.4" rx="4.5" ry="4.5"/>
<path d="M279.4 63L329 109.8H544.5"/>
<path d="M268.6 155.5L322.4 216.9H542"/>
</g>
<g font-family="'Liberation Serif', serif" font-size="24" fill="#222" stroke="#222" stroke-width="0.4">
<text x="537.9" y="84.4" textLength="188.5" lengthAdjust="spacingAndGlyphs">The ISCr area edge</text>
<text x="552.7" y="113.5" textLength="158.3" lengthAdjust="spacingAndGlyphs">of the aluminum</text>
<text x="552.7" y="142.9" textLength="159.3" lengthAdjust="spacingAndGlyphs" xml:space="preserve">current  collector</text>
<text x="549.5" y="225.2" textLength="134.7" lengthAdjust="spacingAndGlyphs">The ISCr area</text>
</g>
<text font-family="'Liberation Serif', serif" font-size="32" fill="#262626" stroke="#262626" stroke-width="0.5" text-anchor="middle" x="566" y="351">(a)</text>
</g>
<g shape-rendering="crispEdges"><rect x="242.80" y="416.00" width="277.30" height="20.40" fill="url(#b1)"/>
<rect x="242.80" y="682.40" width="277.30" height="13.60" fill="url(#b2)"/>
<g clip-path="url(#b3)"><g filter="url(#hblur)">
<rect x="91.30" y="416.00" width="4.54" height="280.00" fill="url(#b4)"/>
<rect x="95.24" y="416.00" width="4.54" height="280.00" fill="url(#b5)"/>
<rect x="99.18" y="416.00" width="4.54" height="280.00" fill="url(#b6)"/>
<rect x="103.12" y="416.00" width="4.54" height="280.00" fill="url(#b7)"/>
<rect x="107.06" y="416.00" width="4.54" height="280.00" fill="url(#b8)"/>
<rect x="111.00" y="416.00" width="4.54" height="280.00" fill="url(#b9)"/>
<rect x="114.93" y="416.00" width="4.54" height="280.00" fill="url(#b10)"/>
<rect x="118.87" y="416.00" width="4.54" height="280.00" fill="url(#b11)"/>
<rect x="122.81" y="416.00" width="4.54" height="280.00" fill="url(#b12)"/>
<rect x="126.75" y="416.00" width="4.54" height="280.00" fill="url(#b13)"/>
<rect x="130.69" y="416.00" width="4.54" height="280.00" fill="url(#b14)"/>
<rect x="134.63" y="416.00" width="4.54" height="280.00" fill="url(#b15)"/>
<rect x="138.57" y="416.00" width="4.54" height="280.00" fill="url(#b16)"/>
<rect x="142.51" y="416.00" width="4.54" height="280.00" fill="url(#b17)"/>
<rect x="146.45" y="416.00" width="4.54" height="280.00" fill="url(#b18)"/>
<rect x="150.39" y="416.00" width="4.54" height="280.00" fill="url(#b19)"/>
<rect x="154.32" y="416.00" width="4.54" height="280.00" fill="url(#b20)"/>
<rect x="158.26" y="416.00" width="4.54" height="280.00" fill="url(#b21)"/>
<rect x="162.20" y="416.00" width="4.54" height="280.00" fill="url(#b22)"/>
<rect x="166.14" y="416.00" width="4.54" height="280.00" fill="url(#b23)"/>
<rect x="170.08" y="416.00" width="4.54" height="280.00" fill="url(#b24)"/>
<rect x="174.02" y="416.00" width="4.54" height="280.00" fill="url(#b25)"/>
<rect x="177.96" y="416.00" width="4.54" height="280.00" fill="url(#b26)"/>
<rect x="181.90" y="416.00" width="4.54" height="280.00" fill="url(#b27)"/>
<rect x="185.84" y="416.00" width="4.54" height="280.00" fill="url(#b28)"/>
<rect x="189.78" y="416.00" width="4.54" height="280.00" fill="url(#b29)"/>
<rect x="193.71" y="416.00" width="4.54" height="280.00" fill="url(#b30)"/>
<rect x="197.65" y="416.00" width="4.54" height="280.00" fill="url(#b31)"/>
<rect x="201.59" y="416.00" width="4.54" height="280.00" fill="url(#b32)"/>
<rect x="205.53" y="416.00" width="4.54" height="280.00" fill="url(#b33)"/>
<rect x="209.47" y="416.00" width="4.54" height="280.00" fill="url(#b34)"/>
<rect x="213.41" y="416.00" width="4.54" height="280.00" fill="url(#b35)"/>
<rect x="217.35" y="416.00" width="4.54" height="280.00" fill="url(#b36)"/>
<rect x="221.29" y="416.00" width="4.54" height="280.00" fill="url(#b37)"/>
<rect x="225.23" y="416.00" width="4.54" height="280.00" fill="url(#b38)"/>
<rect x="229.17" y="416.00" width="4.54" height="280.00" fill="url(#b39)"/>
<rect x="233.10" y="416.00" width="4.54" height="280.00" fill="url(#b40)"/>
<rect x="237.04" y="416.00" width="4.54" height="280.00" fill="url(#b41)"/>
<rect x="240.98" y="416.00" width="4.54" height="280.00" fill="url(#b42)"/>
<rect x="244.92" y="416.00" width="4.54" height="280.00" fill="url(#b43)"/>
<rect x="248.86" y="416.00" width="3.94" height="280.00" fill="url(#b44)"/>
</g></g>
<rect x="243.8" y="435.4" width="276.3" height="248.0" fill="#0000b4"/></g>
<g shape-rendering="crispEdges"><rect x="818.50" y="416.00" width="277.20" height="20.40" fill="url(#c1)"/>
<rect x="818.50" y="680.50" width="277.20" height="14.10" fill="url(#c2)"/>
<g clip-path="url(#c3)"><g filter="url(#hblur)">
<rect x="668.30" y="416.00" width="4.51" height="278.60" fill="url(#c4)"/>
<rect x="672.21" y="416.00" width="4.51" height="278.60" fill="url(#c5)"/>
<rect x="676.11" y="416.00" width="4.51" height="278.60" fill="url(#c6)"/>
<rect x="680.02" y="416.00" width="4.51" height="278.60" fill="url(#c7)"/>
<rect x="683.93" y="416.00" width="4.51" height="278.60" fill="url(#c8)"/>
<rect x="687.84" y="416.00" width="4.51" height="278.60" fill="url(#c9)"/>
<rect x="691.74" y="416.00" width="4.51" height="278.60" fill="url(#c10)"/>
<rect x="695.65" y="416.00" width="4.51" height="278.60" fill="url(#c11)"/>
<rect x="699.56" y="416.00" width="4.51" height="278.60" fill="url(#c12)"/>
<rect x="703.47" y="416.00" width="4.51" height="278.60" fill="url(#c13)"/>
<rect x="707.37" y="416.00" width="4.51" height="278.60" fill="url(#c14)"/>
<rect x="711.28" y="416.00" width="4.51" height="278.60" fill="url(#c15)"/>
<rect x="715.19" y="416.00" width="4.51" height="278.60" fill="url(#c16)"/>
<rect x="719.10" y="416.00" width="4.51" height="278.60" fill="url(#c17)"/>
<rect x="723.00" y="416.00" width="4.51" height="278.60" fill="url(#c18)"/>
<rect x="726.91" y="416.00" width="4.51" height="278.60" fill="url(#c19)"/>
<rect x="730.82" y="416.00" width="4.51" height="278.60" fill="url(#c20)"/>
<rect x="734.72" y="416.00" width="4.51" height="278.60" fill="url(#c21)"/>
<rect x="738.63" y="416.00" width="4.51" height="278.60" fill="url(#c22)"/>
<rect x="742.54" y="416.00" width="4.51" height="278.60" fill="url(#c23)"/>
<rect x="746.45" y="416.00" width="4.51" height="278.60" fill="url(#c24)"/>
<rect x="750.35" y="416.00" width="4.51" height="278.60" fill="url(#c25)"/>
<rect x="754.26" y="416.00" width="4.51" height="278.60" fill="url(#c26)"/>
<rect x="758.17" y="416.00" width="4.51" height="278.60" fill="url(#c27)"/>
<rect x="762.08" y="416.00" width="4.51" height="278.60" fill="url(#c28)"/>
<rect x="765.98" y="416.00" width="4.51" height="278.60" fill="url(#c29)"/>
<rect x="769.89" y="416.00" width="4.51" height="278.60" fill="url(#c30)"/>
<rect x="773.80" y="416.00" width="4.51" height="278.60" fill="url(#c31)"/>
<rect x="777.70" y="416.00" width="4.51" height="278.60" fill="url(#c32)"/>
<rect x="781.61" y="416.00" width="4.51" height="278.60" fill="url(#c33)"/>
<rect x="785.52" y="416.00" width="4.51" height="278.60" fill="url(#c34)"/>
<rect x="789.43" y="416.00" width="4.51" height="278.60" fill="url(#c35)"/>
<rect x="793.33" y="416.00" width="4.51" height="278.60" fill="url(#c36)"/>
<rect x="797.24" y="416.00" width="4.51" height="278.60" fill="url(#c37)"/>
<rect x="801.15" y="416.00" width="4.51" height="278.60" fill="url(#c38)"/>
<rect x="805.06" y="416.00" width="4.51" height="278.60" fill="url(#c39)"/>
<rect x="808.96" y="416.00" width="4.51" height="278.60" fill="url(#c40)"/>
<rect x="812.87" y="416.00" width="4.51" height="278.60" fill="url(#c41)"/>
<rect x="816.78" y="416.00" width="4.51" height="278.60" fill="url(#c42)"/>
<rect x="820.69" y="416.00" width="4.51" height="278.60" fill="url(#c43)"/>
<rect x="824.59" y="416.00" width="3.91" height="278.60" fill="url(#c44)"/>
</g></g>
<rect x="819.5" y="435.4" width="276.2" height="246.1" fill="#0000b4"/></g>
<g shape-rendering="crispEdges"><rect x="239.10" y="877.80" width="277.70" height="19.60" fill="url(#d1)"/>
<rect x="239.10" y="1141.70" width="277.70" height="14.30" fill="url(#d2)"/>
<g clip-path="url(#d3)"><g filter="url(#hblur)">
<rect x="90.30" y="877.80" width="4.57" height="278.20" fill="url(#d4)"/>
<rect x="94.27" y="877.80" width="4.57" height="278.20" fill="url(#d5)"/>
<rect x="98.24" y="877.80" width="4.57" height="278.20" fill="url(#d6)"/>
<rect x="102.21" y="877.80" width="4.57" height="278.20" fill="url(#d7)"/>
<rect x="106.18" y="877.80" width="4.57" height="278.20" fill="url(#d8)"/>
<rect x="110.15" y="877.80" width="4.57" height="278.20" fill="url(#d9)"/>
<rect x="114.12" y="877.80" width="4.57" height="278.20" fill="url(#d10)"/>
<rect x="118.09" y="877.80" width="4.57" height="278.20" fill="url(#d11)"/>
<rect x="122.06" y="877.80" width="4.57" height="278.20" fill="url(#d12)"/>
<rect x="126.03" y="877.80" width="4.57" height="278.20" fill="url(#d13)"/>
<rect x="130.00" y="877.80" width="4.57" height="278.20" fill="url(#d14)"/>
<rect x="133.97" y="877.80" width="4.57" height="278.20" fill="url(#d15)"/>
<rect x="137.94" y="877.80" width="4.57" height="278.20" fill="url(#d16)"/>
<rect x="141.91" y="877.80" width="4.57" height="278.20" fill="url(#d17)"/>
<rect x="145.88" y="877.80" width="4.57" height="278.20" fill="url(#d18)"/>
<rect x="149.85" y="877.80" width="4.57" height="278.20" fill="url(#d19)"/>
<rect x="153.82" y="877.80" width="4.57" height="278.20" fill="url(#d20)"/>
<rect x="157.79" y="877.80" width="4.57" height="278.20" fill="url(#d21)"/>
<rect x="161.76" y="877.80" width="4.57" height="278.20" fill="url(#d22)"/>
<rect x="165.73" y="877.80" width="4.57" height="278.20" fill="url(#d23)"/>
<rect x="169.70" y="877.80" width="4.57" height="278.20" fill="url(#d24)"/>
<rect x="173.67" y="877.80" width="4.57" height="278.20" fill="url(#d25)"/>
<rect x="177.64" y="877.80" width="4.57" height="278.20" fill="url(#d26)"/>
<rect x="181.61" y="877.80" width="4.57" height="278.20" fill="url(#d27)"/>
<rect x="185.58" y="877.80" width="4.57" height="278.20" fill="url(#d28)"/>
<rect x="189.55" y="877.80" width="4.57" height="278.20" fill="url(#d29)"/>
<rect x="193.52" y="877.80" width="4.57" height="278.20" fill="url(#d30)"/>
<rect x="197.49" y="877.80" width="4.57" height="278.20" fill="url(#d31)"/>
<rect x="201.46" y="877.80" width="4.57" height="278.20" fill="url(#d32)"/>
<rect x="205.43" y="877.80" width="4.57" height="278.20" fill="url(#d33)"/>
<rect x="209.40" y="877.80" width="4.57" height="278.20" fill="url(#d34)"/>
<rect x="213.37" y="877.80" width="4.57" height="278.20" fill="url(#d35)"/>
<rect x="217.34" y="877.80" width="4.57" height="278.20" fill="url(#d36)"/>
<rect x="221.31" y="877.80" width="4.57" height="278.20" fill="url(#d37)"/>
<rect x="225.28" y="877.80" width="4.57" height="278.20" fill="url(#d38)"/>
<rect x="229.25" y="877.80" width="4.57" height="278.20" fill="url(#d39)"/>
<rect x="233.22" y="877.80" width="4.57" height="278.20" fill="url(#d40)"/>
<rect x="237.19" y="877.80" width="4.57" height="278.20" fill="url(#d41)"/>
<rect x="241.16" y="877.80" width="4.57" height="278.20" fill="url(#d42)"/>
<rect x="245.13" y="877.80" width="3.97" height="278.20" fill="url(#d43)"/>
</g></g>
<rect x="240.1" y="896.4" width="276.7" height="246.3" fill="#0000b4"/></g>
<g shape-rendering="crispEdges"><rect x="819.30" y="877.90" width="278.30" height="19.70" fill="url(#e1)"/>
<rect x="819.30" y="1144.00" width="278.30" height="13.60" fill="url(#e2)"/>
<g clip-path="url(#e3)"><g filter="url(#hblur)">
<rect x="669.00" y="877.90" width="4.51" height="279.70" fill="url(#e4)"/>
<rect x="672.91" y="877.90" width="4.51" height="279.70" fill="url(#e5)"/>
<rect x="676.82" y="877.90" width="4.51" height="279.70" fill="url(#e6)"/>
<rect x="680.73" y="877.90" width="4.51" height="279.70" fill="url(#e7)"/>
<rect x="684.64" y="877.90" width="4.51" height="279.70" fill="url(#e8)"/>
<rect x="688.55" y="877.90" width="4.51" height="279.70" fill="url(#e9)"/>
<rect x="692.46" y="877.90" width="4.51" height="279.70" fill="url(#e10)"/>
<rect x="696.37" y="877.90" width="4.51" height="279.70" fill="url(#e11)"/>
<rect x="700.28" y="877.90" width="4.51" height="279.70" fill="url(#e12)"/>
<rect x="704.19" y="877.90" width="4.51" height="279.70" fill="url(#e13)"/>
<rect x="708.10" y="877.90" width="4.51" height="279.70" fill="url(#e14)"/>
<rect x="712.01" y="877.90" width="4.51" height="279.70" fill="url(#e15)"/>
<rect x="715.92" y="877.90" width="4.51" height="279.70" fill="url(#e16)"/>
<rect x="719.83" y="877.90" width="4.51" height="279.70" fill="url(#e17)"/>
<rect x="723.74" y="877.90" width="4.51" height="279.70" fill="url(#e18)"/>
<rect x="727.65" y="877.90" width="4.51" height="279.70" fill="url(#e19)"/>
<rect x="731.56" y="877.90" width="4.51" height="279.70" fill="url(#e20)"/>
<rect x="735.47" y="877.90" width="4.51" height="279.70" fill="url(#e21)"/>
<rect x="739.38" y="877.90" width="4.51" height="279.70" fill="url(#e22)"/>
<rect x="743.29" y="877.90" width="4.51" height="279.70" fill="url(#e23)"/>
<rect x="747.20" y="877.90" width="4.51" height="279.70" fill="url(#e24)"/>
<rect x="751.10" y="877.90" width="4.51" height="279.70" fill="url(#e25)"/>
<rect x="755.01" y="877.90" width="4.51" height="279.70" fill="url(#e26)"/>
<rect x="758.92" y="877.90" width="4.51" height="279.70" fill="url(#e27)"/>
<rect x="762.83" y="877.90" width="4.51" height="279.70" fill="url(#e28)"/>
<rect x="766.74" y="877.90" width="4.51" height="279.70" fill="url(#e29)"/>
<rect x="770.65" y="877.90" width="4.51" height="279.70" fill="url(#e30)"/>
<rect x="774.56" y="877.90" width="4.51" height="279.70" fill="url(#e31)"/>
<rect x="778.47" y="877.90" width="4.51" height="279.70" fill="url(#e32)"/>
<rect x="782.38" y="877.90" width="4.51" height="279.70" fill="url(#e33)"/>
<rect x="786.29" y="877.90" width="4.51" height="279.70" fill="url(#e34)"/>
<rect x="790.20" y="877.90" width="4.51" height="279.70" fill="url(#e35)"/>
<rect x="794.11" y="877.90" width="4.51" height="279.70" fill="url(#e36)"/>
<rect x="798.02" y="877.90" width="4.51" height="279.70" fill="url(#e37)"/>
<rect x="801.93" y="877.90" width="4.51" height="279.70" fill="url(#e38)"/>
<rect x="805.84" y="877.90" width="4.51" height="279.70" fill="url(#e39)"/>
<rect x="809.75" y="877.90" width="4.51" height="279.70" fill="url(#e40)"/>
<rect x="813.66" y="877.90" width="4.51" height="279.70" fill="url(#e41)"/>
<rect x="817.57" y="877.90" width="4.51" height="279.70" fill="url(#e42)"/>
<rect x="821.48" y="877.90" width="4.51" height="279.70" fill="url(#e43)"/>
<rect x="825.39" y="877.90" width="3.91" height="279.70" fill="url(#e44)"/>
</g></g>
<rect x="820.30" y="896.60" width="277.30" height="248.40" fill="url(#e45)"/></g>
<g stroke="#3c3c3c" stroke-width="1.5" fill="none">
<path d="M100.3 395.6H529.3" stroke-dasharray="2.6 3.05"/>
<path d="M529.3 395.6V695.8" stroke-dasharray="2.6 3.05"/>
<path d="M243.5 395.6V416.0" stroke-dasharray="2.6 3.05"/>
<path d="M386.0 395.6V416.0" stroke-dasharray="2.6 3.05"/>
<path d="M100.3 395.6V695.8" stroke="#777" stroke-width="1.2"/>
<path d="M520.1 695.8H529.3" stroke="#666" stroke-width="1.2"/>
<path d="M524.9 635.0h-2.8" stroke="#6a6a6a" stroke-width="1.1"/>
<path d="M524.9 574.6h-2.8" stroke="#6a6a6a" stroke-width="1.1"/>
<path d="M524.9 514.2h-2.8" stroke="#6a6a6a" stroke-width="1.1"/>
<path d="M524.9 453.8h-2.8" stroke="#6a6a6a" stroke-width="1.1"/>
</g>
<g font-family="'Liberation Sans', sans-serif" font-size="27.5" fill="#262626" stroke="#262626" stroke-width="0.35">
<text x="92.7" y="705.2" text-anchor="end">0</text>
<text x="92.7" y="643.8" text-anchor="end">50</text>
<text x="92.7" y="585.1" text-anchor="end">100</text>
<text x="92.7" y="522.2" text-anchor="end">150</text>
<text x="92.7" y="464.0" text-anchor="end">200</text>
<text x="92.7" y="404.8" text-anchor="end">250</text>
<text x="101.7" y="728.4" text-anchor="middle">0</text>
<text x="243.5" y="728.4" text-anchor="middle">1</text>
<text x="385.5" y="728.4" text-anchor="middle">2</text>
<text x="529.2" y="728.4" text-anchor="middle">3</text>
</g>
<text font-family="'Liberation Sans', sans-serif" font-size="28" fill="#262626" stroke="#262626" stroke-width="0.3" x="275.5" y="764.8">r / d<tspan font-size="20.5" dx="0.9" dy="9.9" textLength="20.3" lengthAdjust="spacingAndGlyphs">Al</tspan></text>
<text font-family="'Liberation Sans', sans-serif" font-size="28.5" fill="#262626" stroke="#262626" stroke-width="0.3" text-anchor="middle" transform="translate(24 548.7) rotate(-90)">z / µm</text>
<text font-family="'Liberation Serif', serif" font-size="32" fill="#262626" stroke="#262626" stroke-width="0.5" text-anchor="middle" x="274.3" y="816.1">(b)</text>
<g stroke="#3c3c3c" stroke-width="1.5" fill="none">
<path d="M677.3 395.6H1104.7" stroke-dasharray="2.6 3.05"/>
<path d="M1104.7 395.6V695.0" stroke-dasharray="2.6 3.05"/>
<path d="M819.5 395.6V416.0" stroke-dasharray="2.6 3.05"/>
<path d="M961.0 395.6V416.0" stroke-dasharray="2.6 3.05"/>
<path d="M677.3 395.6V695.0" stroke="#777" stroke-width="1.2"/>
<path d="M1095.7 695.0H1104.7" stroke="#666" stroke-width="1.2"/>
<path d="M1100.3 634.2h-2.8" stroke="#6a6a6a" stroke-width="1.1"/>
<path d="M1100.3 573.8h-2.8" stroke="#6a6a6a" stroke-width="1.1"/>
<path d="M1100.3 513.4h-2.8" stroke="#6a6a6a" stroke-width="1.1"/>
<path d="M1100.3 453.0h-2.8" stroke="#6a6a6a" stroke-width="1.1"/>
</g>
<g font-family="'Liberation Sans', sans-serif" font-size="27.5" fill="#262626" stroke="#262626" stroke-width="0.35">
<text x="669.7" y="705.2" text-anchor="end">0</text>
<text x="669.7" y="643.8" text-anchor="end">50</text>
<text x="669.7" y="585.1" text-anchor="end">100</text>
<text x="669.7" y="522.2" text-anchor="end">150</text>
<text x="669.7" y="464.0" text-anchor="end">200</text>
<text x="669.7" y="404.8" text-anchor="end">250</text>
<text x="678.3" y="727.6" text-anchor="middle">0</text>
<text x="820.5" y="727.6" text-anchor="middle">1.71</text>
<text x="962.0" y="727.6" text-anchor="middle">3.42</text>
<text x="1104.0" y="727.6" text-anchor="middle">5.13</text>
</g>
<text font-family="'Liberation Sans', sans-serif" font-size="28" fill="#262626" stroke="#262626" stroke-width="0.3" x="851.3" y="761.8">r / d<tspan font-size="20.5" dx="0.9" dy="13.0" textLength="20.3" lengthAdjust="spacingAndGlyphs">Al</tspan></text>
<text font-family="'Liberation Sans', sans-serif" font-size="28.5" fill="#262626" stroke="#262626" stroke-width="0.3" text-anchor="middle" transform="translate(24 548.7) rotate(-90)">z / µm</text>
<text font-family="'Liberation Serif', serif" font-size="32" fill="#262626" stroke="#262626" stroke-width="0.5" text-anchor="middle" x="854.5" y="813.6">(c)</text>
<g stroke="#3c3c3c" stroke-width="1.5" fill="none">
<path d="M99.3 856.2H525.6" stroke-dasharray="2.6 3.05"/>
<path d="M525.6 856.2V1156.2" stroke-dasharray="2.6 3.05"/>
<path d="M241.4 856.2V877.8" stroke-dasharray="2.6 3.05"/>
<path d="M382.6 856.2V877.8" stroke-dasharray="2.6 3.05"/>
<path d="M99.3 856.2V1156.2" stroke="#777" stroke-width="1.2"/>
<path d="M516.8 1156.2H525.6" stroke="#666" stroke-width="1.2"/>
<path d="M521.2 1095.4h-2.8" stroke="#6a6a6a" stroke-width="1.1"/>
<path d="M521.2 1035.0h-2.8" stroke="#6a6a6a" stroke-width="1.1"/>
<path d="M521.2 974.6h-2.8" stroke="#6a6a6a" stroke-width="1.1"/>
<path d="M521.2 914.2h-2.8" stroke="#6a6a6a" stroke-width="1.1"/>
</g>
<g font-family="'Liberation Sans', sans-serif" font-size="27.5" fill="#262626" stroke="#262626" stroke-width="0.35">
<text x="91.7" y="1166.0" text-anchor="end">0</text>
<text x="91.7" y="1104.5" text-anchor="end">50</text>
<text x="91.7" y="1045.8" text-anchor="end">100</text>
<text x="91.7" y="983.1" text-anchor="end">150</text>
<text x="91.7" y="924.8" text-anchor="end">200</text>
<text x="91.7" y="865.6" text-anchor="end">250</text>
<text x="100.7" y="1188.1" text-anchor="middle">0</text>
<text x="241.7" y="1188.1" text-anchor="middle">10</text>
<text x="383.5" y="1188.1" text-anchor="middle">20</text>
<text x="525.0" y="1188.1" text-anchor="middle">30</text>
</g>
<text font-family="'Liberation Sans', sans-serif" font-size="28" fill="#262626" stroke="#262626" stroke-width="0.3" x="273.0" y="1223.4">r / d<tspan font-size="20.5" dx="0.9" dy="12.6" textLength="20.3" lengthAdjust="spacingAndGlyphs">Al</tspan></text>
<text font-family="'Liberation Sans', sans-serif" font-size="28.5" fill="#262626" stroke="#262626" stroke-width="0.3" text-anchor="middle" transform="translate(24 1009.0) rotate(-90)">z / µm</text>
<text font-family="'Liberation Serif', serif" font-size="32" fill="#262626" stroke="#262626" stroke-width="0.5" text-anchor="middle" x="273.9" y="1270.2">(d)</text>
<g stroke="#3c3c3c" stroke-width="1.5" fill="none">
<path d="M678.0 856.2H1107.6" stroke-dasharray="2.6 3.05"/>
<path d="M1107.6 856.2V1157.4" stroke-dasharray="2.6 3.05"/>
<path d="M820.3 856.2V877.9" stroke-dasharray="2.6 3.05"/>
<path d="M961.8 856.2V877.9" stroke-dasharray="2.6 3.05"/>
<path d="M678.0 856.2V1157.4" stroke="#777" stroke-width="1.2"/>
<path d="M1097.6 1157.4H1107.6" stroke="#666" stroke-width="1.2"/>
<path d="M1103.2 1096.6h-2.8" stroke="#6a6a6a" stroke-width="1.1"/>
<path d="M1103.2 1036.2h-2.8" stroke="#6a6a6a" stroke-width="1.1"/>
<path d="M1103.2 975.8h-2.8" stroke="#6a6a6a" stroke-width="1.1"/>
<path d="M1103.2 915.4h-2.8" stroke="#6a6a6a" stroke-width="1.1"/>
</g>
<g font-family="'Liberation Sans', sans-serif" font-size="27.5" fill="#262626" stroke="#262626" stroke-width="0.35">
<text x="670.4" y="1166.0" text-anchor="end">0</text>
<text x="670.4" y="1104.5" text-anchor="end">50</text>
<text x="670.4" y="1045.8" text-anchor="end">100</text>
<text x="670.4" y="983.1" text-anchor="end">150</text>
<text x="670.4" y="924.8" text-anchor="end">200</text>
<text x="670.4" y="865.6" text-anchor="end">250</text>
<text x="678.6" y="1189.3" text-anchor="middle">0</text>
<text x="821.4" y="1189.3" text-anchor="middle">500</text>
<text x="962.5" y="1189.3" text-anchor="middle">1000</text>
<text x="1105.0" y="1189.3" text-anchor="middle">1500</text>
</g>
<text font-family="'Liberation Sans', sans-serif" font-size="28" fill="#262626" stroke="#262626" stroke-width="0.3" x="852.5" y="1225.4">r / d<tspan font-size="20.5" dx="0.9" dy="10.6" textLength="20.3" lengthAdjust="spacingAndGlyphs">Al</tspan></text>
<text font-family="'Liberation Sans', sans-serif" font-size="28.5" fill="#262626" stroke="#262626" stroke-width="0.3" text-anchor="middle" transform="translate(24 1009.0) rotate(-90)">z / µm</text>
<text font-family="'Liberation Serif', serif" font-size="32" fill="#262626" stroke="#262626" stroke-width="0.5" text-anchor="middle" x="854.7" y="1271.0">(e)</text>
<g font-family="'Liberation Serif', serif" font-size="29" stroke-width="0.45">
<text x="124.6" y="566.0" fill="#fff4f4" stroke="#fff4f4" textLength="91.8" lengthAdjust="spacingAndGlyphs">660.3°C</text>
<text x="334.2" y="566.0" fill="#fff4f4" stroke="#fff4f4" textLength="76.5" lengthAdjust="spacingAndGlyphs">25.0°C</text>
<text x="209.6" y="445.6" fill="#d840d8" stroke="none" textLength="91.0" lengthAdjust="spacingAndGlyphs">381.5°C</text>
<text x="357.0" y="671.7" fill="#fff4f4" stroke="#fff4f4" textLength="156.0" lengthAdjust="spacingAndGlyphs">t = 7.16×10<tspan font-size="17.5" dy="-10.5">-7</tspan><tspan dy="10.5"> s</tspan></text>
<text x="712.9" y="565.4" fill="#fff4f4" stroke="#fff4f4" textLength="91.2" lengthAdjust="spacingAndGlyphs">661.6°C</text>
<text x="914.9" y="565.4" fill="#fff4f4" stroke="#fff4f4" textLength="77.0" lengthAdjust="spacingAndGlyphs">25.0°C</text>
<text x="786.3" y="444.8" fill="#fff4f4" stroke="#fff4f4" textLength="90.5" lengthAdjust="spacingAndGlyphs">661<tspan fill="#d840d8" stroke="none">.5°C</tspan></text>
<text x="932.0" y="672.5" fill="#fff4f4" stroke="#fff4f4" textLength="155.5" lengthAdjust="spacingAndGlyphs">t = 4.68×10<tspan font-size="17.5" dy="-10.5">-6</tspan><tspan dy="10.5"> s</tspan></text>
<text x="127.3" y="1025.8" fill="#fff4f4" stroke="#fff4f4" textLength="76.6" lengthAdjust="spacingAndGlyphs">52.6°C</text>
<text x="324.3" y="1027.0" fill="#fff4f4" stroke="#fff4f4" textLength="76.6" lengthAdjust="spacingAndGlyphs">25.1°C</text>
<text x="212.5" y="905.0" fill="#fff4f4" stroke="#fff4f4" textLength="90.0" lengthAdjust="spacingAndGlyphs">662<tspan fill="#d840d8" stroke="none">.2°C</tspan></text>
<text x="347.2" y="1129.0" fill="#fff4f4" stroke="#fff4f4" textLength="155.5" lengthAdjust="spacingAndGlyphs">t = 2.04×10<tspan font-size="17.5" dy="-10.5">-4</tspan><tspan dy="10.5"> s</tspan></text>
<text x="712.8" y="1028.2" fill="#fff4f4" stroke="#fff4f4" textLength="77.4" lengthAdjust="spacingAndGlyphs">25.0°C</text>
<text x="916.0" y="1028.2" fill="#fff4f4" stroke="#fff4f4" textLength="89.5" lengthAdjust="spacingAndGlyphs">101.2°C</text>
<text x="786.2" y="909.8" fill="#d840d8" stroke="none" textLength="91.0" lengthAdjust="spacingAndGlyphs">362.0°C</text>
<text x="933.3" y="1128.1" fill="#fff4f4" stroke="#fff4f4" textLength="155.5" lengthAdjust="spacingAndGlyphs">t = 2.72×10<tspan font-size="17.5" dy="-10.5">-1</tspan><tspan dy="10.5"> s</tspan></text>
</g>
<rect x="843.8" y="26.8" width="53.4" height="282.8" fill="url(#cb)" stroke="#555" stroke-width="0.8"/>
<g stroke="#444" stroke-width="0.9">
<path d="M843.8 269.2h3.5M897.2 269.2h-3.5"/>
<path d="M843.8 228.8h3.5M897.2 228.8h-3.5"/>
<path d="M843.8 188.4h3.5M897.2 188.4h-3.5"/>
<path d="M843.8 148.0h3.5M897.2 148.0h-3.5"/>
<path d="M843.8 107.6h3.5M897.2 107.6h-3.5"/>
<path d="M843.8 67.2h3.5M897.2 67.2h-3.5"/>
</g>
<g font-family="'Liberation Sans', sans-serif" font-size="27.5" fill="#262626" stroke="#262626" stroke-width="0.35">
<text x="903.2" y="318.6" textLength="13.8" lengthAdjust="spacingAndGlyphs">0</text>
<text x="903.2" y="278.1" textLength="41.3" lengthAdjust="spacingAndGlyphs">100</text>
<text x="903.2" y="237.7" textLength="41.3" lengthAdjust="spacingAndGlyphs">200</text>
<text x="903.2" y="197.3" textLength="41.3" lengthAdjust="spacingAndGlyphs">300</text>
<text x="903.2" y="156.9" textLength="41.3" lengthAdjust="spacingAndGlyphs">400</text>
<text x="903.2" y="116.5" textLength="41.3" lengthAdjust="spacingAndGlyphs">500</text>
<text x="903.2" y="76.1" textLength="41.3" lengthAdjust="spacingAndGlyphs">600</text>
<text x="903.2" y="35.7" textLength="41.3" lengthAdjust="spacingAndGlyphs">700</text>
</g>
<text font-family="'Liberation Sans', sans-serif" font-size="29.5" fill="#262626" text-anchor="middle" textLength="217" lengthAdjust="spacingAndGlyphs" transform="translate(989.5 164.5) rotate(-90)">Temperature / °C</text>
</svg>
</body></html>
